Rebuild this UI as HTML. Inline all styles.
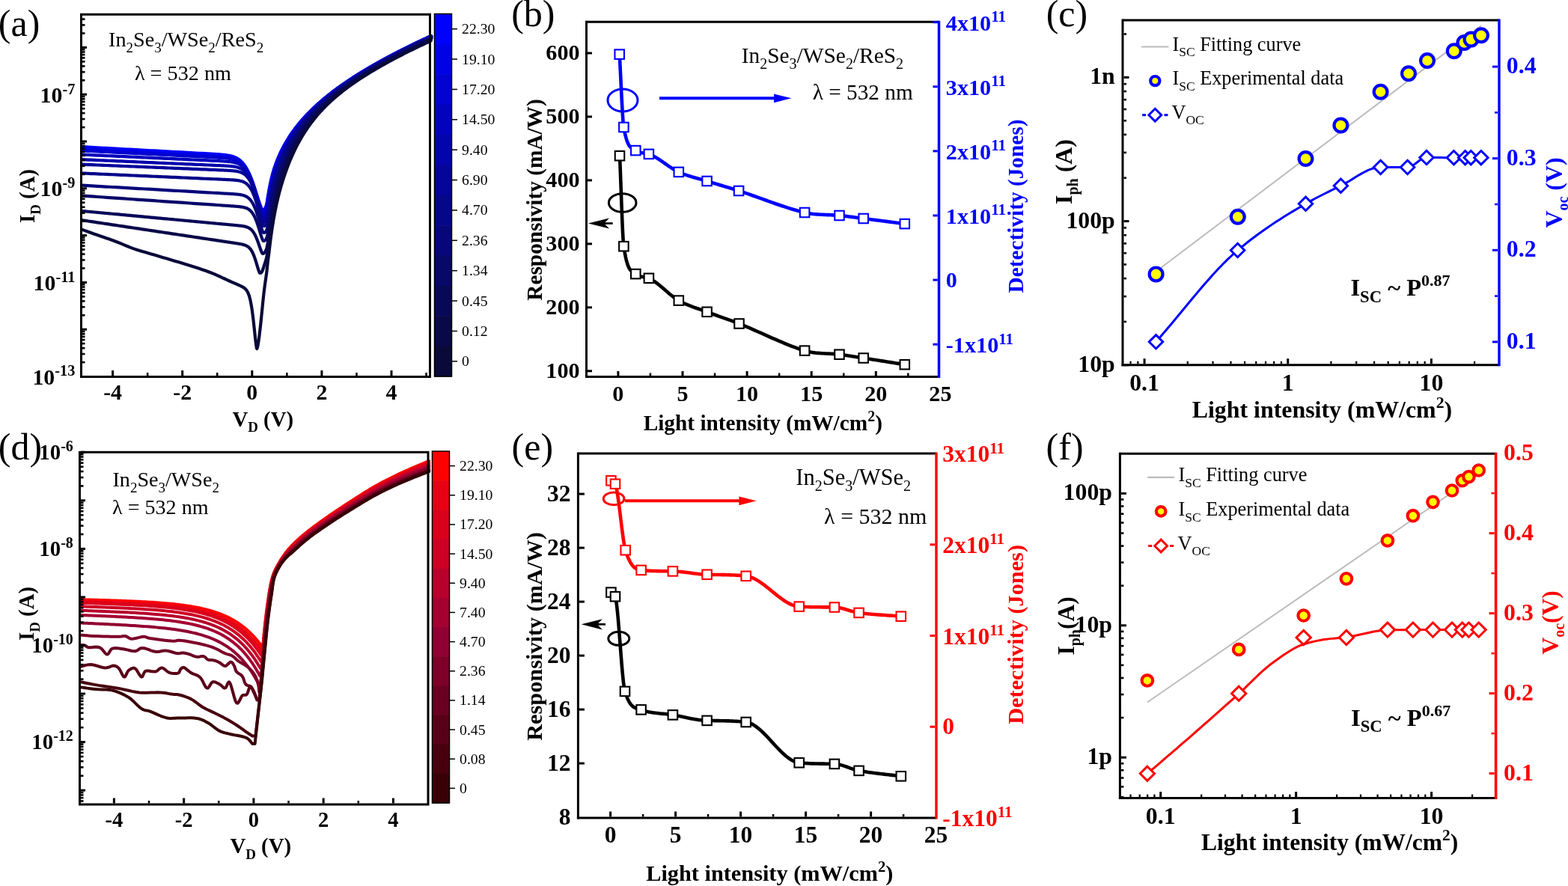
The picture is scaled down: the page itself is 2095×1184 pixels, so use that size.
<!DOCTYPE html>
<html><head><meta charset="utf-8"><title>Figure</title>
<style>html,body{margin:0;padding:0;background:#fff;overflow:hidden}svg{display:block}
text{font-family:'Liberation Serif','Times New Roman',serif}</style></head>
<body><svg width="2095" height="1184" viewBox="0 0 2095 1184">
<rect width="2095" height="1184" fill="#fff"/>
<rect x="580.5" y="18.5" width="23" height="40.98" fill="#0000ff"/>
<rect x="580.5" y="58.88" width="23" height="40.98" fill="#0101e5"/>
<rect x="580.5" y="99.25" width="23" height="40.98" fill="#0202d1"/>
<rect x="580.5" y="139.62" width="23" height="40.98" fill="#0303be"/>
<rect x="580.5" y="180" width="23" height="40.98" fill="#0404ac"/>
<rect x="580.5" y="220.38" width="23" height="40.98" fill="#05059a"/>
<rect x="580.5" y="260.75" width="23" height="40.98" fill="#060689"/>
<rect x="580.5" y="301.12" width="23" height="40.98" fill="#070779"/>
<rect x="580.5" y="341.5" width="23" height="40.98" fill="#080869"/>
<rect x="580.5" y="381.88" width="23" height="40.98" fill="#080859"/>
<rect x="580.5" y="422.25" width="23" height="40.98" fill="#090949"/>
<rect x="580.5" y="462.62" width="23" height="40.98" fill="#0a0a3a"/>
<rect x="580.5" y="18.5" width="23" height="484.5" fill="none" stroke="#000" stroke-width="1.5"/>
<line x1="603.5" y1="38.69" x2="611" y2="38.69" stroke="#000" stroke-width="1.5" stroke-linecap="butt"/>
<text x="617.1" y="45.19" font-size="19.7" font-weight="normal" text-anchor="start" fill="#000">22.30</text>
<line x1="603.5" y1="79.06" x2="611" y2="79.06" stroke="#000" stroke-width="1.5" stroke-linecap="butt"/>
<text x="617.1" y="85.56" font-size="19.7" font-weight="normal" text-anchor="start" fill="#000">19.10</text>
<line x1="603.5" y1="119.44" x2="611" y2="119.44" stroke="#000" stroke-width="1.5" stroke-linecap="butt"/>
<text x="617.1" y="125.94" font-size="19.7" font-weight="normal" text-anchor="start" fill="#000">17.20</text>
<line x1="603.5" y1="159.81" x2="611" y2="159.81" stroke="#000" stroke-width="1.5" stroke-linecap="butt"/>
<text x="617.1" y="166.31" font-size="19.7" font-weight="normal" text-anchor="start" fill="#000">14.50</text>
<line x1="603.5" y1="200.19" x2="611" y2="200.19" stroke="#000" stroke-width="1.5" stroke-linecap="butt"/>
<text x="617.1" y="206.69" font-size="19.7" font-weight="normal" text-anchor="start" fill="#000">9.40</text>
<line x1="603.5" y1="240.56" x2="611" y2="240.56" stroke="#000" stroke-width="1.5" stroke-linecap="butt"/>
<text x="617.1" y="247.06" font-size="19.7" font-weight="normal" text-anchor="start" fill="#000">6.90</text>
<line x1="603.5" y1="280.94" x2="611" y2="280.94" stroke="#000" stroke-width="1.5" stroke-linecap="butt"/>
<text x="617.1" y="287.44" font-size="19.7" font-weight="normal" text-anchor="start" fill="#000">4.70</text>
<line x1="603.5" y1="321.31" x2="611" y2="321.31" stroke="#000" stroke-width="1.5" stroke-linecap="butt"/>
<text x="617.1" y="327.81" font-size="19.7" font-weight="normal" text-anchor="start" fill="#000">2.36</text>
<line x1="603.5" y1="361.69" x2="611" y2="361.69" stroke="#000" stroke-width="1.5" stroke-linecap="butt"/>
<text x="617.1" y="368.19" font-size="19.7" font-weight="normal" text-anchor="start" fill="#000">1.34</text>
<line x1="603.5" y1="402.06" x2="611" y2="402.06" stroke="#000" stroke-width="1.5" stroke-linecap="butt"/>
<text x="617.1" y="408.56" font-size="19.7" font-weight="normal" text-anchor="start" fill="#000">0.45</text>
<line x1="603.5" y1="442.44" x2="611" y2="442.44" stroke="#000" stroke-width="1.5" stroke-linecap="butt"/>
<text x="617.1" y="448.94" font-size="19.7" font-weight="normal" text-anchor="start" fill="#000">0.12</text>
<line x1="603.5" y1="482.81" x2="611" y2="482.81" stroke="#000" stroke-width="1.5" stroke-linecap="butt"/>
<text x="617.1" y="489.31" font-size="19.7" font-weight="normal" text-anchor="start" fill="#000">0</text>
<polyline points="110,196.2 114,196.42 118,196.64 122,196.86 126,197.08 130,197.29 134,197.51 138,197.73 142,197.95 146,198.17 150,198.39 154,198.61 158,198.83 162,199.04 166,199.26 170,199.48 174,199.7 178,199.92 182,200.14 186,200.36 190,200.58 194,200.8 198,201.01 202,201.23 206,201.45 210,201.67 214,201.89 218,202.11 222,202.33 226,202.55 230,202.76 234,202.98 238,203.2 242,203.42 246,203.64 250,203.86 254,204.08 258,204.3 262,204.52 266,204.74 270,204.96 274,205.18 278,205.4 282,205.63 286,205.87 290,206.13 294,206.42 295,206.5 296,206.59 297,206.68 298,206.77 299,206.88 300,206.99 301,207.11 302,207.24 303,207.38 304,207.53 305,207.7 306,207.88 307,208.08 308,208.3 309,208.55 310,208.82 311,209.11 312,209.44 313,209.81 314,210.22 315,210.66 316,211.16 317,211.71 318,212.31 319,212.98 320,213.72 321,214.53 322,215.42 323,216.39 324,217.46 325,218.62 326,219.89 327,221.28 328,222.77 329,224.39 330,226.13 331,228.01 332,230.02 333,232.16 334,234.44 335,236.86 336,239.41 337,242.08 337.35,243.05 337.7,244.03 338.05,245.02 338.4,246.03 338.75,247.05 339.1,248.08 339.45,249.12 339.8,250.18 340.15,251.24 340.5,252.32 340.85,253.4 341.2,254.49 341.55,255.59 341.9,256.69 342.25,257.79 342.6,258.9 342.95,260.01 343.3,261.13 343.65,262.23 344,263.34 344.35,264.44 344.7,265.54 345.05,266.62 345.4,267.7 345.75,268.76 346.1,269.81 346.45,270.84 346.8,271.85 347.15,272.84 347.5,273.8 347.85,274.73 348.2,275.62 348.55,276.48 348.9,277.29 349.25,278.06 349.6,278.77 349.95,279.41 350.3,279.98 350.65,280.47 351,280.83 351.3,281 351.65,280.98 352,280.88 352.35,280.68 352.7,280.37 353.05,279.97 353.4,279.5 353.75,278.97 354.1,278.37 354.45,277.71 354.8,276.98 355.15,276.15 355.5,275.21 355.85,274.14 356.2,272.84 356.55,271.16 356.9,269.15 357.25,266.92 357.6,264.63 357.95,262.43 358.3,260.39 358.65,258.36 359,256.36 359.35,254.4 359.7,252.47 360.05,250.59 360.4,248.77 360.75,247 361.1,245.29 361.45,243.63 361.8,242.02 362.15,240.46 362.5,238.95 362.85,237.49 363.2,236.07 363.55,234.69 363.9,233.36 364.25,232.06 364.6,230.81 364.95,229.59 365.3,228.4 365.65,227.24 366,226.11 366.35,225.01 366.7,223.93 367.05,222.88 367.4,221.85 367.75,220.84 368.1,219.84 368.45,218.87 368.8,217.92 369.15,216.98 369.5,216.07 369.85,215.16 370.2,214.27 370.55,213.4 370.9,212.53 371.25,211.68 371.6,210.84 373.6,206.26 375.6,202 377.6,198.02 379.6,194.25 381.6,190.69 383.6,187.3 385.6,184.08 387.6,180.99 389.6,178.04 391.6,175.19 393.6,172.46 395.6,169.82 397.6,167.27 399.6,164.81 401.6,162.41 403.6,160.09 405.6,157.84 407.6,155.64 409.6,153.5 411.6,151.41 413.6,149.38 415.6,147.39 417.6,145.44 419.6,143.54 421.6,141.67 423.6,139.84 425.6,138.05 427.6,136.29 429.6,134.56 431.6,132.87 433.6,131.2 435.6,129.56 437.6,127.94 439.6,126.35 441.6,124.79 443.6,123.25 445.6,121.73 447.6,120.23 449.6,118.75 451.6,117.29 453.6,115.85 455.6,114.42 457.6,113.01 459.6,111.62 461.6,110.25 463.6,108.89 465.6,107.55 467.6,106.23 469.6,104.91 471.6,103.62 473.6,102.33 475.6,101.05 477.6,99.79 479.6,98.54 481.6,97.31 483.6,96.08 485.6,94.86 487.6,93.66 489.6,92.47 491.6,91.28 493.6,90.11 495.6,88.94 497.6,87.79 499.6,86.64 501.6,85.5 503.6,84.37 505.6,83.24 507.6,82.13 509.6,81.03 511.6,79.93 513.6,78.84 515.6,77.76 517.6,76.69 519.6,75.62 521.6,74.56 523.6,73.5 525.6,72.45 527.6,71.41 529.6,70.37 531.6,69.34 533.6,68.31 535.6,67.3 537.6,66.29 539.6,65.28 541.6,64.28 543.6,63.28 545.6,62.29 547.6,61.31 549.6,60.33 551.6,59.35 553.6,58.39 555.6,57.43 557.6,56.48 559.6,55.53 561.6,54.59 563.6,53.65 565.6,52.71 567.6,51.78 569.6,50.84 571.6,49.91 573.6,48.97 575.6,48.03" fill="none" stroke="#0000ff" stroke-width="4.2" stroke-linejoin="round" stroke-linecap="round"/>
<polyline points="110,198.8 114,199.01 118,199.22 122,199.44 126,199.65 130,199.86 134,200.07 138,200.28 142,200.49 146,200.71 150,200.92 154,201.13 158,201.34 162,201.55 166,201.76 170,201.98 174,202.19 178,202.4 182,202.61 186,202.82 190,203.04 194,203.25 198,203.46 202,203.67 206,203.88 210,204.09 214,204.31 218,204.52 222,204.73 226,204.94 230,205.15 234,205.36 238,205.58 242,205.79 246,206 250,206.21 254,206.42 258,206.64 262,206.85 266,207.06 270,207.27 274,207.49 278,207.7 282,207.92 286,208.15 290,208.39 294,208.65 295,208.73 296,208.8 297,208.88 298,208.97 299,209.06 300,209.16 301,209.26 302,209.37 303,209.5 304,209.63 305,209.77 306,209.93 307,210.11 308,210.3 309,210.52 310,210.75 311,211.01 312,211.3 313,211.63 314,211.99 315,212.39 316,212.83 317,213.32 318,213.87 319,214.47 320,215.14 321,215.89 322,216.71 323,217.61 324,218.6 325,219.69 326,220.89 327,222.2 328,223.62 329,225.17 330,226.84 331,228.65 332,230.6 333,232.69 334,234.93 335,237.31 336,239.83 337,242.49 337.35,243.45 337.7,244.43 338.05,245.43 338.4,246.43 338.75,247.46 339.1,248.5 339.45,249.55 339.8,250.61 340.15,251.69 340.5,252.78 340.85,253.88 341.2,254.98 341.55,256.1 341.9,257.22 342.25,258.35 342.6,259.49 342.95,260.62 343.3,261.76 343.65,262.91 344,264.05 344.35,265.18 344.7,266.32 345.05,267.44 345.4,268.56 345.75,269.66 346.1,270.76 346.45,271.83 346.8,272.89 347.15,273.93 347.5,274.94 347.85,275.92 348.2,276.87 348.55,277.79 348.9,278.66 349.25,279.49 349.6,280.26 349.95,280.97 350.3,281.61 350.65,282.17 351,282.62 351.35,282.94 351.5,283 351.85,282.97 352.2,282.86 352.55,282.64 352.9,282.33 353.25,281.93 353.6,281.46 353.95,280.93 354.3,280.32 354.65,279.65 355,278.89 355.35,278.03 355.7,277.04 356.05,275.88 356.4,274.39 356.75,272.54 357.1,270.41 357.45,268.15 357.8,265.91 358.15,263.82 358.5,261.78 358.85,259.76 359.2,257.77 359.55,255.8 359.9,253.87 360.25,251.98 360.6,250.15 360.95,248.38 361.3,246.66 361.65,244.99 362,243.37 362.35,241.8 362.7,240.28 363.05,238.8 363.4,237.38 363.75,235.99 364.1,234.65 364.45,233.35 364.8,232.08 365.15,230.85 365.5,229.66 365.85,228.49 366.2,227.35 366.55,226.24 366.9,225.15 367.25,224.09 367.6,223.04 367.95,222.02 368.3,221.03 368.65,220.04 369,219.08 369.35,218.14 369.7,217.21 370.05,216.29 370.4,215.39 370.75,214.51 371.1,213.63 371.45,212.77 371.8,211.92 373.8,207.29 375.8,202.98 377.8,198.94 379.8,195.12 381.8,191.51 383.8,188.08 385.8,184.81 387.8,181.68 389.8,178.69 391.8,175.81 393.8,173.04 395.8,170.37 397.8,167.79 399.8,165.29 401.8,162.88 403.8,160.53 405.8,158.25 407.8,156.03 409.8,153.87 411.8,151.76 413.8,149.71 415.8,147.7 417.8,145.74 419.8,143.82 421.8,141.94 423.8,140.1 425.8,138.29 427.8,136.52 429.8,134.78 431.8,133.08 433.8,131.4 435.8,129.75 437.8,128.13 439.8,126.53 441.8,124.96 443.8,123.41 445.8,121.89 447.8,120.38 449.8,118.9 451.8,117.43 453.8,115.99 455.8,114.56 457.8,113.15 459.8,111.75 461.8,110.38 463.8,109.02 465.8,107.67 467.8,106.35 469.8,105.03 471.8,103.73 473.8,102.44 475.8,101.17 477.8,99.9 479.8,98.65 481.8,97.41 483.8,96.18 485.8,94.97 487.8,93.76 489.8,92.57 491.8,91.39 493.8,90.21 495.8,89.04 497.8,87.89 499.8,86.74 501.8,85.6 503.8,84.47 505.8,83.34 507.8,82.23 509.8,81.13 511.8,80.03 513.8,78.94 515.8,77.86 517.8,76.78 519.8,75.72 521.8,74.65 523.8,73.6 525.8,72.55 527.8,71.5 529.8,70.47 531.8,69.44 533.8,68.41 535.8,67.4 537.8,66.38 539.8,65.38 541.8,64.38 543.8,63.38 545.8,62.39 547.8,61.41 549.8,60.43 551.8,59.46 553.8,58.49 555.8,57.53 557.8,56.58 559.8,55.63 561.8,54.69 563.8,53.75 565.8,52.82 567.8,51.88 569.8,50.95 571.8,50.01 573.8,49.08 575.8,48.14" fill="none" stroke="#0101e5" stroke-width="4.2" stroke-linejoin="round" stroke-linecap="round"/>
<polyline points="110,201.4 114,201.6 118,201.8 122,202.01 126,202.21 130,202.41 134,202.61 138,202.82 142,203.02 146,203.22 150,203.42 154,203.63 158,203.83 162,204.03 166,204.23 170,204.44 174,204.64 178,204.84 182,205.04 186,205.24 190,205.45 194,205.65 198,205.85 202,206.05 206,206.26 210,206.46 214,206.66 218,206.86 222,207.07 226,207.27 230,207.47 234,207.67 238,207.88 242,208.08 246,208.28 250,208.48 254,208.68 258,208.89 262,209.09 266,209.29 270,209.49 274,209.7 278,209.9 282,210.11 286,210.32 290,210.54 294,210.79 295,210.85 296,210.92 297,211 298,211.07 299,211.15 300,211.24 301,211.33 302,211.43 303,211.53 304,211.65 305,211.78 306,211.91 307,212.07 308,212.23 309,212.42 310,212.63 311,212.86 312,213.11 313,213.4 314,213.72 315,214.07 316,214.47 317,214.91 318,215.41 319,215.96 320,216.57 321,217.26 322,218.02 323,218.86 324,219.79 325,220.82 326,221.95 327,223.19 328,224.56 329,226.05 330,227.67 331,229.43 332,231.34 333,233.41 334,235.62 335,237.99 336,240.51 337,243.19 337.35,244.16 337.7,245.15 338.05,246.16 338.4,247.19 338.75,248.23 339.1,249.29 339.45,250.36 339.8,251.45 340.15,252.55 340.5,253.67 340.85,254.8 341.2,255.94 341.55,257.09 341.9,258.25 342.25,259.42 342.6,260.6 342.95,261.78 343.3,262.97 343.65,264.16 344,265.35 344.35,266.54 344.7,267.73 345.05,268.91 345.4,270.09 345.75,271.25 346.1,272.41 346.45,273.55 346.8,274.68 347.15,275.78 347.5,276.87 347.85,277.92 348.2,278.94 348.55,279.93 348.9,280.88 349.25,281.78 349.6,282.63 349.95,283.43 350.3,284.15 350.65,284.79 351,285.34 351.35,285.77 351.7,286 352.05,285.96 352.4,285.85 352.75,285.64 353.1,285.35 353.45,284.99 353.8,284.56 354.15,284.06 354.5,283.5 354.85,282.86 355.2,282.12 355.55,281.27 355.9,280.28 356.25,279.06 356.6,277.48 356.95,275.6 357.3,273.51 357.65,271.35 358,269.27 358.35,267.27 358.7,265.26 359.05,263.26 359.4,261.28 359.75,259.28 360.1,257.31 360.45,255.37 360.8,253.49 361.15,251.65 361.5,249.86 361.85,248.12 362.2,246.42 362.55,244.77 362.9,243.17 363.25,241.61 363.6,240.11 363.95,238.64 364.3,237.23 364.65,235.85 365,234.52 365.35,233.22 365.7,231.96 366.05,230.73 366.4,229.53 366.75,228.37 367.1,227.23 367.45,226.12 367.8,225.03 368.15,223.97 368.5,222.93 368.85,221.92 369.2,220.92 369.55,219.94 369.9,218.98 370.25,218.04 370.6,217.11 370.95,216.2 371.3,215.3 371.65,214.42 372,213.55 374,208.8 376,204.41 378,200.29 380,196.39 382,192.71 384,189.21 386,185.88 388,182.7 390,179.64 392,176.71 394,173.89 396,171.18 398,168.55 400,166.02 402,163.56 404,161.18 406,158.86 408,156.61 410,154.42 412,152.29 414,150.21 416,148.18 418,146.19 420,144.25 422,142.35 424,140.49 426,138.67 428,136.88 430,135.13 432,133.41 434,131.72 436,130.06 438,128.43 440,126.82 442,125.24 444,123.68 446,122.15 448,120.63 450,119.14 452,117.67 454,116.22 456,114.78 458,113.37 460,111.97 462,110.59 464,109.23 466,107.88 468,106.55 470,105.23 472,103.92 474,102.63 476,101.35 478,100.09 480,98.84 482,97.59 484,96.37 486,95.15 488,93.94 490,92.75 492,91.56 494,90.38 496,89.22 498,88.06 500,86.91 502,85.77 504,84.64 506,83.51 508,82.4 510,81.29 512,80.2 514,79.11 516,78.03 518,76.95 520,75.88 522,74.82 524,73.76 526,72.71 528,71.67 530,70.63 532,69.6 534,68.58 536,67.56 538,66.55 540,65.55 542,64.55 544,63.55 546,62.56 548,61.58 550,60.6 552,59.62 554,58.66 556,57.7 558,56.75 560,55.8 562,54.86 564,53.92 566,52.99 568,52.05 570,51.12 572,50.18 574,49.24 576,48.3" fill="none" stroke="#0202d1" stroke-width="4.2" stroke-linejoin="round" stroke-linecap="round"/>
<polyline points="110,206.6 114,206.79 118,206.97 122,207.16 126,207.34 130,207.53 134,207.72 138,207.9 142,208.09 146,208.27 150,208.46 154,208.64 158,208.83 162,209.02 166,209.2 170,209.39 174,209.57 178,209.76 182,209.95 186,210.13 190,210.32 194,210.5 198,210.69 202,210.88 206,211.06 210,211.25 214,211.43 218,211.62 222,211.8 226,211.99 230,212.18 234,212.36 238,212.55 242,212.73 246,212.92 250,213.11 254,213.29 258,213.48 262,213.66 266,213.85 270,214.04 274,214.22 278,214.41 282,214.6 286,214.79 290,214.98 294,215.19 295,215.24 296,215.3 297,215.36 298,215.42 299,215.48 300,215.55 301,215.62 302,215.69 303,215.77 304,215.85 305,215.95 306,216.05 307,216.16 308,216.28 309,216.42 310,216.57 311,216.74 312,216.93 313,217.14 314,217.37 315,217.64 316,217.94 317,218.28 318,218.66 319,219.09 320,219.58 321,220.13 322,220.74 323,221.43 324,222.2 325,223.06 326,224.02 327,225.09 328,226.28 329,227.59 330,229.04 331,230.63 332,232.38 333,234.28 334,236.35 335,238.58 336,241 337,243.58 337.35,244.53 337.7,245.49 338.05,246.48 338.4,247.49 338.75,248.52 339.1,249.57 339.45,250.63 339.8,251.72 340.15,252.83 340.5,253.95 340.85,255.09 341.2,256.24 341.55,257.41 341.9,258.6 342.25,259.79 342.6,261 342.95,262.22 343.3,263.45 343.65,264.68 344,265.93 344.35,267.17 344.7,268.42 345.05,269.67 345.4,270.91 345.75,272.15 346.1,273.38 346.45,274.61 346.8,275.82 347.15,277.01 347.5,278.19 347.85,279.34 348.2,280.46 348.55,281.55 348.9,282.61 349.25,283.62 349.6,284.58 349.95,285.49 350.3,286.33 350.65,287.1 351,287.78 351.35,288.36 351.7,288.8 352,289 352.35,288.96 352.7,288.84 353.05,288.64 353.4,288.36 353.75,288.01 354.1,287.6 354.45,287.11 354.8,286.54 355.15,285.88 355.5,285.11 355.85,284.2 356.2,283.09 356.55,281.63 356.9,279.86 357.25,277.86 357.6,275.76 357.95,273.69 358.3,271.71 358.65,269.72 359,267.73 359.35,265.74 359.7,263.71 360.05,261.69 360.4,259.71 360.75,257.76 361.1,255.87 361.45,254.01 361.8,252.2 362.15,250.44 362.5,248.73 362.85,247.06 363.2,245.44 363.55,243.87 363.9,242.35 364.25,240.87 364.6,239.43 364.95,238.04 365.3,236.69 365.65,235.38 366,234.1 366.35,232.85 366.7,231.64 367.05,230.45 367.4,229.3 367.75,228.17 368.1,227.07 368.45,225.99 368.8,224.93 369.15,223.9 369.5,222.88 369.85,221.89 370.2,220.91 370.55,219.95 370.9,219.01 371.25,218.08 371.6,217.16 371.95,216.26 372.3,215.38 374.3,210.54 376.3,206.05 378.3,201.84 380.3,197.86 382.3,194.09 384.3,190.52 386.3,187.12 388.3,183.86 390.3,180.74 392.3,177.75 394.3,174.88 396.3,172.1 398.3,169.43 400.3,166.84 402.3,164.34 404.3,161.92 406.3,159.56 408.3,157.28 410.3,155.05 412.3,152.89 414.3,150.78 416.3,148.72 418.3,146.71 420.3,144.74 422.3,142.82 424.3,140.94 426.3,139.09 428.3,137.29 430.3,135.52 432.3,133.78 434.3,132.08 436.3,130.4 438.3,128.76 440.3,127.14 442.3,125.54 444.3,123.98 446.3,122.43 448.3,120.91 450.3,119.41 452.3,117.93 454.3,116.47 456.3,115.03 458.3,113.61 460.3,112.21 462.3,110.82 464.3,109.45 466.3,108.1 468.3,106.76 470.3,105.44 472.3,104.13 474.3,102.84 476.3,101.56 478.3,100.29 480.3,99.03 482.3,97.79 484.3,96.56 486.3,95.34 488.3,94.13 490.3,92.94 492.3,91.75 494.3,90.57 496.3,89.4 498.3,88.24 500.3,87.09 502.3,85.95 504.3,84.82 506.3,83.7 508.3,82.58 510.3,81.48 512.3,80.38 514.3,79.29 516.3,78.21 518.3,77.13 520.3,76.06 522.3,75 524.3,73.95 526.3,72.89 528.3,71.85 530.3,70.81 532.3,69.79 534.3,68.76 536.3,67.74 538.3,66.73 540.3,65.73 542.3,64.73 544.3,63.73 546.3,62.75 548.3,61.76 550.3,60.78 552.3,59.81 554.3,58.84 556.3,57.89 558.3,56.94 560.3,55.99 562.3,55.05 564.3,54.11 566.3,53.17 568.3,52.24 570.3,51.3 572.3,50.37 574.3,49.43 576.3,48.49" fill="none" stroke="#0303be" stroke-width="4.2" stroke-linejoin="round" stroke-linecap="round"/>
<polyline points="110,213.2 114,213.37 118,213.55 122,213.72 126,213.9 130,214.07 134,214.24 138,214.42 142,214.59 146,214.77 150,214.94 154,215.12 158,215.29 162,215.46 166,215.64 170,215.81 174,215.99 178,216.16 182,216.33 186,216.51 190,216.68 194,216.86 198,217.03 202,217.2 206,217.38 210,217.55 214,217.73 218,217.9 222,218.08 226,218.25 230,218.42 234,218.6 238,218.77 242,218.95 246,219.12 250,219.29 254,219.47 258,219.64 262,219.82 266,219.99 270,220.16 274,220.34 278,220.51 282,220.69 286,220.86 290,221.04 294,221.22 295,221.27 296,221.32 297,221.37 298,221.42 299,221.47 300,221.52 301,221.58 302,221.64 303,221.7 304,221.76 305,221.83 306,221.91 307,221.99 308,222.08 309,222.18 310,222.29 311,222.41 312,222.54 313,222.69 314,222.86 315,223.06 316,223.27 317,223.52 318,223.81 319,224.13 320,224.5 321,224.92 322,225.4 323,225.94 324,226.56 325,227.25 326,228.04 327,228.93 328,229.93 329,231.06 330,232.31 331,233.71 332,235.26 333,236.97 334,238.86 335,240.93 336,243.19 337,245.64 338,248.28 338.35,249.26 338.7,250.25 339.05,251.27 339.4,252.31 339.75,253.38 340.1,254.46 340.45,255.57 340.8,256.7 341.15,257.85 341.5,259.02 341.85,260.21 342.2,261.42 342.55,262.64 342.9,263.88 343.25,265.13 343.6,266.39 343.95,267.67 344.3,268.95 344.65,270.24 345,271.54 345.35,272.84 345.7,274.14 346.05,275.44 346.4,276.73 346.75,278.01 347.1,279.29 347.45,280.54 347.8,281.78 348.15,283 348.5,284.18 348.85,285.33 349.2,286.45 349.55,287.52 349.9,288.53 350.25,289.49 350.6,290.37 350.95,291.18 351.3,291.88 351.65,292.46 352,292.88 352.2,293 352.55,292.96 352.9,292.86 353.25,292.69 353.6,292.45 353.95,292.14 354.3,291.77 354.65,291.33 355,290.81 355.35,290.19 355.7,289.46 356.05,288.57 356.4,287.41 356.75,285.93 357.1,284.19 357.45,282.28 357.8,280.32 358.15,278.44 358.5,276.54 358.85,274.62 359.2,272.68 359.55,270.7 359.9,268.65 360.25,266.62 360.6,264.61 360.95,262.63 361.3,260.69 361.65,258.77 362,256.9 362.35,255.06 362.7,253.27 363.05,251.52 363.4,249.81 363.75,248.15 364.1,246.54 364.45,244.97 364.8,243.45 365.15,241.97 365.5,240.53 365.85,239.13 366.2,237.77 366.55,236.44 366.9,235.15 367.25,233.89 367.6,232.66 367.95,231.46 368.3,230.29 368.65,229.15 369,228.04 369.35,226.94 369.7,225.88 370.05,224.83 370.4,223.8 370.75,222.8 371.1,221.81 371.45,220.83 371.8,219.88 372.15,218.94 372.5,218.01 374.5,212.99 376.5,208.35 378.5,204 380.5,199.9 382.5,196.02 384.5,192.35 386.5,188.84 388.5,185.49 390.5,182.29 392.5,179.21 394.5,176.26 396.5,173.42 398.5,170.67 400.5,168.03 402.5,165.46 404.5,162.98 406.5,160.58 408.5,158.24 410.5,155.97 412.5,153.76 414.5,151.61 416.5,149.52 418.5,147.47 420.5,145.47 422.5,143.52 424.5,141.61 426.5,139.74 428.5,137.91 430.5,136.12 432.5,134.36 434.5,132.64 436.5,130.94 438.5,129.28 440.5,127.64 442.5,126.03 444.5,124.45 446.5,122.9 448.5,121.36 450.5,119.85 452.5,118.36 454.5,116.89 456.5,115.44 458.5,114.01 460.5,112.6 462.5,111.21 464.5,109.83 466.5,108.47 468.5,107.13 470.5,105.8 472.5,104.49 474.5,103.19 476.5,101.9 478.5,100.63 480.5,99.37 482.5,98.13 484.5,96.89 486.5,95.67 488.5,94.46 490.5,93.26 492.5,92.07 494.5,90.89 496.5,89.72 498.5,88.56 500.5,87.41 502.5,86.26 504.5,85.13 506.5,84 508.5,82.89 510.5,81.78 512.5,80.68 514.5,79.59 516.5,78.51 518.5,77.44 520.5,76.37 522.5,75.3 524.5,74.25 526.5,73.2 528.5,72.15 530.5,71.12 532.5,70.09 534.5,69.06 536.5,68.04 538.5,67.03 540.5,66.03 542.5,65.03 544.5,64.03 546.5,63.04 548.5,62.06 550.5,61.08 552.5,60.11 554.5,59.14 556.5,58.19 558.5,57.24 560.5,56.29 562.5,55.35 564.5,54.41 566.5,53.47 568.5,52.54 570.5,51.6 572.5,50.67 574.5,49.73 576.5,48.79" fill="none" stroke="#0404ac" stroke-width="4.2" stroke-linejoin="round" stroke-linecap="round"/>
<polyline points="110,219.7 114,219.86 118,220.03 122,220.19 126,220.36 130,220.52 134,220.69 138,220.85 142,221.02 146,221.18 150,221.35 154,221.51 158,221.68 162,221.84 166,222.01 170,222.17 174,222.34 178,222.5 182,222.66 186,222.83 190,222.99 194,223.16 198,223.32 202,223.49 206,223.65 210,223.82 214,223.98 218,224.15 222,224.31 226,224.48 230,224.64 234,224.81 238,224.97 242,225.14 246,225.3 250,225.46 254,225.63 258,225.79 262,225.96 266,226.12 270,226.29 274,226.45 278,226.62 282,226.78 286,226.95 290,227.11 294,227.28 295,227.32 296,227.37 297,227.41 298,227.45 299,227.5 300,227.55 301,227.59 302,227.64 303,227.69 304,227.74 305,227.8 306,227.85 307,227.92 308,227.98 309,228.05 310,228.13 311,228.22 312,228.31 313,228.42 314,228.54 315,228.67 316,228.83 317,229.01 318,229.21 319,229.44 320,229.71 321,230.02 322,230.38 323,230.8 324,231.27 325,231.82 326,232.44 327,233.16 328,233.98 329,234.92 330,235.98 331,237.17 332,238.53 333,240.04 334,241.74 335,243.62 336,245.71 337,248 338,250.51 338.35,251.44 338.7,252.4 339.05,253.39 339.4,254.4 339.75,255.44 340.1,256.5 340.45,257.59 340.8,258.71 341.15,259.85 341.5,261.01 341.85,262.2 342.2,263.41 342.55,264.65 342.9,265.9 343.25,267.18 343.6,268.47 343.95,269.77 344.3,271.09 344.65,272.43 345,273.77 345.35,275.13 345.7,276.48 346.05,277.84 346.4,279.2 346.75,280.56 347.1,281.9 347.45,283.24 347.8,284.56 348.15,285.86 348.5,287.14 348.85,288.38 349.2,289.59 349.55,290.75 349.9,291.86 350.25,292.91 350.6,293.89 350.95,294.78 351.3,295.58 351.65,296.25 352,296.76 352.3,297 352.65,296.98 353,296.9 353.35,296.76 353.7,296.56 354.05,296.29 354.4,295.97 354.75,295.57 355.1,295.09 355.45,294.5 355.8,293.79 356.15,292.91 356.5,291.72 356.85,290.23 357.2,288.5 357.55,286.62 357.9,284.73 358.25,282.9 358.6,281.04 358.95,279.15 359.3,277.24 359.65,275.23 360,273.17 360.35,271.12 360.7,269.09 361.05,267.09 361.4,265.12 361.75,263.17 362.1,261.27 362.45,259.4 362.8,257.57 363.15,255.79 363.5,254.05 363.85,252.35 364.2,250.7 364.55,249.1 364.9,247.54 365.25,246.02 365.6,244.54 365.95,243.11 366.3,241.7 366.65,240.34 367,239.01 367.35,237.71 367.7,236.45 368.05,235.21 368.4,234 368.75,232.83 369.1,231.67 369.45,230.55 369.8,229.44 370.15,228.36 370.5,227.3 370.85,226.26 371.2,225.23 371.55,224.23 371.9,223.24 372.25,222.26 372.6,221.31 374.6,216.1 376.6,211.29 378.6,206.78 380.6,202.53 382.6,198.5 384.6,194.69 386.6,191.06 388.6,187.6 390.6,184.28 392.6,181.11 394.6,178.06 396.6,175.12 398.6,172.29 400.6,169.57 402.6,166.93 404.6,164.38 406.6,161.91 408.6,159.51 410.6,157.18 412.6,154.92 414.6,152.72 416.6,150.58 418.6,148.49 420.6,146.45 422.6,144.46 424.6,142.52 426.6,140.61 428.6,138.75 430.6,136.93 432.6,135.15 434.6,133.4 436.6,131.68 438.6,129.99 440.6,128.34 442.6,126.71 444.6,125.11 446.6,123.54 448.6,121.99 450.6,120.46 452.6,118.96 454.6,117.47 456.6,116.01 458.6,114.57 460.6,113.15 462.6,111.74 464.6,110.36 466.6,108.99 468.6,107.64 470.6,106.31 472.6,104.99 474.6,103.68 476.6,102.39 478.6,101.11 480.6,99.85 482.6,98.6 484.6,97.36 486.6,96.13 488.6,94.92 490.6,93.71 492.6,92.52 494.6,91.34 496.6,90.17 498.6,89 500.6,87.85 502.6,86.7 504.6,85.56 506.6,84.44 508.6,83.32 510.6,82.21 512.6,81.11 514.6,80.02 516.6,78.94 518.6,77.86 520.6,76.79 522.6,75.73 524.6,74.67 526.6,73.62 528.6,72.57 530.6,71.53 532.6,70.5 534.6,69.48 536.6,68.46 538.6,67.45 540.6,66.44 542.6,65.44 544.6,64.45 546.6,63.46 548.6,62.47 550.6,61.49 552.6,60.52 554.6,59.56 556.6,58.6 558.6,57.65 560.6,56.7 562.6,55.76 564.6,54.82 566.6,53.89 568.6,52.95 570.6,52.02 572.6,51.08 574.6,50.14" fill="none" stroke="#05059a" stroke-width="4.2" stroke-linejoin="round" stroke-linecap="round"/>
<polyline points="110,231.5 114,231.68 118,231.85 122,232.03 126,232.21 130,232.38 134,232.56 138,232.74 142,232.91 146,233.09 150,233.26 154,233.44 158,233.62 162,233.79 166,233.97 170,234.15 174,234.32 178,234.5 182,234.68 186,234.85 190,235.03 194,235.21 198,235.38 202,235.56 206,235.74 210,235.91 214,236.09 218,236.26 222,236.44 226,236.62 230,236.79 234,236.97 238,237.15 242,237.32 246,237.5 250,237.68 254,237.85 258,238.03 262,238.21 266,238.38 270,238.56 274,238.74 278,238.91 282,239.09 286,239.26 290,239.44 294,239.62 295,239.66 296,239.71 297,239.75 298,239.8 299,239.84 300,239.89 301,239.94 302,239.98 303,240.03 304,240.08 305,240.13 306,240.18 307,240.23 308,240.29 309,240.34 310,240.41 311,240.47 312,240.54 313,240.62 314,240.71 315,240.8 316,240.91 317,241.03 318,241.17 319,241.32 320,241.5 321,241.71 322,241.96 323,242.24 324,242.57 325,242.96 326,243.41 327,243.93 328,244.53 329,245.23 330,246.03 331,246.96 332,248.02 333,249.23 334,250.6 335,252.15 336,253.9 337,255.85 338,258.02 338.35,258.83 338.7,259.67 339.05,260.53 339.4,261.43 339.75,262.35 340.1,263.3 340.45,264.28 340.8,265.29 341.15,266.32 341.5,267.38 341.85,268.47 342.2,269.58 342.55,270.72 342.9,271.88 343.25,273.07 343.6,274.27 343.95,275.5 344.3,276.75 344.65,278.01 345,279.28 345.35,280.57 345.7,281.87 346.05,283.17 346.4,284.48 346.75,285.79 347.1,287.1 347.45,288.4 347.8,289.69 348.15,290.96 348.5,292.21 348.85,293.43 349.2,294.62 349.55,295.77 349.9,296.87 350.25,297.92 350.6,298.89 350.95,299.78 351.3,300.58 351.65,301.25 352,301.76 352.3,302 352.65,301.99 353,301.94 353.35,301.85 353.7,301.7 354.05,301.5 354.4,301.24 354.75,300.92 355.1,300.52 355.45,300.03 355.8,299.42 356.15,298.64 356.5,297.58 356.85,296.24 357.2,294.66 357.55,292.93 357.9,291.18 358.25,289.48 358.6,287.72 358.95,285.93 359.3,284.11 359.65,282.15 360,280.12 360.35,278.08 360.7,276.04 361.05,274.02 361.4,272.01 361.75,270.02 362.1,268.06 362.45,266.13 362.8,264.23 363.15,262.36 363.5,260.53 363.85,258.75 364.2,257 364.55,255.3 364.9,253.64 365.25,252.02 365.6,250.43 365.95,248.89 366.3,247.39 366.65,245.92 367,244.49 367.35,243.09 367.7,241.73 368.05,240.4 368.4,239.1 368.75,237.83 369.1,236.6 369.45,235.38 369.8,234.2 370.15,233.04 370.5,231.9 370.85,230.79 371.2,229.69 371.55,228.62 371.9,227.57 372.25,226.53 372.6,225.51 374.6,220 376.6,214.94 378.6,210.21 380.6,205.76 382.6,201.56 384.6,197.58 386.6,193.8 388.6,190.19 390.6,186.74 392.6,183.44 394.6,180.27 396.6,177.23 398.6,174.3 400.6,171.47 402.6,168.75 404.6,166.12 406.6,163.57 408.6,161.09 410.6,158.7 412.6,156.37 414.6,154.11 416.6,151.92 418.6,149.77 420.6,147.69 422.6,145.65 424.6,143.66 426.6,141.72 428.6,139.82 430.6,137.96 432.6,136.15 434.6,134.36 436.6,132.62 438.6,130.9 440.6,129.22 442.6,127.57 444.6,125.95 446.6,124.35 448.6,122.79 450.6,121.24 452.6,119.72 454.6,118.22 456.6,116.75 458.6,115.29 460.6,113.86 462.6,112.44 464.6,111.05 466.6,109.67 468.6,108.31 470.6,106.96 472.6,105.64 474.6,104.32 476.6,103.02 478.6,101.74 480.6,100.47 482.6,99.21 484.6,97.96 486.6,96.73 488.6,95.51 490.6,94.3 492.6,93.11 494.6,91.92 496.6,90.74 498.6,89.57 500.6,88.42 502.6,87.27 504.6,86.13 506.6,85 508.6,83.88 510.6,82.77 512.6,81.67 514.6,80.57 516.6,79.49 518.6,78.41 520.6,77.34 522.6,76.27 524.6,75.21 526.6,74.16 528.6,73.11 530.6,72.07 532.6,71.04 534.6,70.02 536.6,69 538.6,67.98 540.6,66.98 542.6,65.98 544.6,64.98 546.6,63.99 548.6,63 550.6,62.02 552.6,61.05 554.6,60.09 556.6,59.13 558.6,58.18 560.6,57.23 562.6,56.29 564.6,55.35 566.6,54.41 568.6,53.48 570.6,52.54 572.6,51.6 574.6,50.67" fill="none" stroke="#060689" stroke-width="4.2" stroke-linejoin="round" stroke-linecap="round"/>
<polyline points="110,247.7 114,247.93 118,248.16 122,248.38 126,248.61 130,248.84 134,249.07 138,249.3 142,249.53 146,249.75 150,249.98 154,250.21 158,250.44 162,250.67 166,250.9 170,251.12 174,251.35 178,251.58 182,251.81 186,252.04 190,252.26 194,252.49 198,252.72 202,252.95 206,253.18 210,253.41 214,253.63 218,253.86 222,254.09 226,254.32 230,254.55 234,254.78 238,255 242,255.23 246,255.46 250,255.69 254,255.92 258,256.14 262,256.37 266,256.6 270,256.83 274,257.06 278,257.29 282,257.51 286,257.74 290,257.97 294,258.2 295,258.26 296,258.31 297,258.37 298,258.43 299,258.49 300,258.54 301,258.6 302,258.66 303,258.72 304,258.77 305,258.83 306,258.89 307,258.95 308,259.01 309,259.08 310,259.14 311,259.21 312,259.27 313,259.34 314,259.42 315,259.5 316,259.59 317,259.68 318,259.78 319,259.9 320,260.03 321,260.17 322,260.34 323,260.53 324,260.75 325,261.01 326,261.32 327,261.67 328,262.09 329,262.57 330,263.14 331,263.8 332,264.57 333,265.46 334,266.5 335,267.68 336,269.03 337,270.57 338,272.31 338.35,272.97 338.7,273.65 339.05,274.36 339.4,275.1 339.75,275.86 340.1,276.66 340.45,277.48 340.8,278.32 341.15,279.2 341.5,280.1 341.85,281.03 342.2,281.99 342.55,282.97 342.9,283.97 343.25,285.01 343.6,286.06 343.95,287.14 344.3,288.24 344.65,289.35 345,290.49 345.35,291.64 345.7,292.8 346.05,293.97 346.4,295.16 346.75,296.34 347.1,297.53 347.45,298.71 347.8,299.88 348.15,301.05 348.5,302.19 348.85,303.32 349.2,304.41 349.55,305.47 349.9,306.48 350.25,307.43 350.6,308.32 350.95,309.14 351.3,309.85 351.65,310.45 352,310.88 352.2,311 352.55,311 352.9,310.96 353.25,310.88 353.6,310.75 353.95,310.57 354.3,310.35 354.65,310.06 355,309.71 355.35,309.27 355.7,308.73 356.05,308.06 356.4,307.15 356.75,305.95 357.1,304.52 357.45,302.91 357.8,301.25 358.15,299.62 358.5,297.95 358.85,296.24 359.2,294.49 359.55,292.63 359.9,290.59 360.25,288.53 360.6,286.46 360.95,284.39 361.3,282.33 361.65,280.28 362,278.24 362.35,276.21 362.7,274.21 363.05,272.24 363.4,270.3 363.75,268.4 364.1,266.53 364.45,264.69 364.8,262.9 365.15,261.15 365.5,259.43 365.85,257.75 366.2,256.11 366.55,254.51 366.9,252.94 367.25,251.41 367.6,249.92 367.95,248.46 368.3,247.04 368.65,245.64 369,244.28 369.35,242.95 369.7,241.65 370.05,240.38 370.4,239.13 370.75,237.91 371.1,236.71 371.45,235.54 371.8,234.39 372.15,233.26 372.5,232.15 374.5,226.16 376.5,220.69 378.5,215.61 380.5,210.84 382.5,206.36 384.5,202.12 386.5,198.1 388.5,194.26 390.5,190.61 392.5,187.11 394.5,183.76 396.5,180.54 398.5,177.46 400.5,174.48 402.5,171.62 404.5,168.85 406.5,166.18 408.5,163.6 410.5,161.09 412.5,158.67 414.5,156.32 416.5,154.03 418.5,151.81 420.5,149.64 422.5,147.53 424.5,145.48 426.5,143.47 428.5,141.52 430.5,139.6 432.5,137.73 434.5,135.91 436.5,134.11 438.5,132.36 440.5,130.64 442.5,128.95 444.5,127.29 446.5,125.67 448.5,124.07 450.5,122.49 452.5,120.95 454.5,119.42 456.5,117.92 458.5,116.44 460.5,114.99 462.5,113.56 464.5,112.14 466.5,110.75 468.5,109.37 470.5,108.01 472.5,106.67 474.5,105.34 476.5,104.03 478.5,102.74 480.5,101.45 482.5,100.19 484.5,98.93 486.5,97.69 488.5,96.46 490.5,95.25 492.5,94.04 494.5,92.85 496.5,91.67 498.5,90.49 500.5,89.33 502.5,88.17 504.5,87.03 506.5,85.9 508.5,84.77 510.5,83.66 512.5,82.55 514.5,81.45 516.5,80.36 518.5,79.28 520.5,78.21 522.5,77.14 524.5,76.08 526.5,75.02 528.5,73.97 530.5,72.93 532.5,71.9 534.5,70.87 536.5,69.85 538.5,68.84 540.5,67.83 542.5,66.82 544.5,65.83 546.5,64.84 548.5,63.85 550.5,62.87 552.5,61.89 554.5,60.93 556.5,59.97 558.5,59.02 560.5,58.07 562.5,57.13 564.5,56.19 566.5,55.25 568.5,54.31 570.5,53.38 572.5,52.44 574.5,51.5 576.5,50.56" fill="none" stroke="#070779" stroke-width="4.2" stroke-linejoin="round" stroke-linecap="round"/>
<polyline points="110,261.6 114,261.88 118,262.15 122,262.43 126,262.7 130,262.98 134,263.25 138,263.53 142,263.8 146,264.08 150,264.35 154,264.63 158,264.9 162,265.18 166,265.45 170,265.73 174,266 178,266.28 182,266.56 186,266.83 190,267.11 194,267.38 198,267.66 202,267.93 206,268.21 210,268.48 214,268.76 218,269.03 222,269.31 226,269.58 230,269.86 234,270.13 238,270.41 242,270.68 246,270.96 250,271.24 254,271.51 258,271.79 262,272.06 266,272.34 270,272.61 274,272.89 278,273.16 282,273.44 286,273.71 290,273.99 294,274.26 295,274.33 296,274.4 297,274.47 298,274.54 299,274.61 300,274.68 301,274.75 302,274.81 303,274.88 304,274.95 305,275.02 306,275.09 307,275.16 308,275.23 309,275.3 310,275.37 311,275.45 312,275.52 313,275.59 314,275.67 315,275.75 316,275.83 317,275.91 318,276 319,276.1 320,276.2 321,276.32 322,276.44 323,276.59 324,276.75 325,276.94 326,277.15 327,277.41 328,277.71 329,278.06 330,278.47 331,278.96 332,279.55 333,280.23 334,281.04 335,281.98 336,283.08 337,284.35 337.35,284.85 337.7,285.36 338.05,285.9 338.4,286.47 338.75,287.06 339.1,287.68 339.45,288.33 339.8,289 340.15,289.71 340.5,290.44 340.85,291.2 341.2,291.99 341.55,292.81 341.9,293.66 342.25,294.54 342.6,295.45 342.95,296.39 343.3,297.35 343.65,298.35 344,299.36 344.35,300.4 344.7,301.47 345.05,302.55 345.4,303.66 345.75,304.78 346.1,305.91 346.45,307.06 346.8,308.21 347.15,309.37 347.5,310.52 347.85,311.67 348.2,312.81 348.55,313.93 348.9,315.03 349.25,316.1 349.6,317.13 349.95,318.11 350.3,319.03 350.65,319.88 351,320.64 351.35,321.28 351.7,321.77 352,322 352.35,321.99 352.7,321.94 353.05,321.85 353.4,321.71 353.75,321.52 354.1,321.29 354.45,321 354.8,320.66 355.15,320.24 355.5,319.74 355.85,319.13 356.2,318.36 356.55,317.32 356.9,316.02 357.25,314.52 357.6,312.91 357.95,311.27 358.3,309.67 358.65,308.01 359,306.31 359.35,304.57 359.7,302.57 360.05,300.48 360.4,298.36 360.75,296.24 361.1,294.11 361.45,291.98 361.8,289.85 362.15,287.73 362.5,285.62 362.85,283.54 363.2,281.47 363.55,279.44 363.9,277.44 364.25,275.47 364.6,273.53 364.95,271.63 365.3,269.77 365.65,267.94 366,266.15 366.35,264.4 366.7,262.69 367.05,261.01 367.4,259.36 367.75,257.76 368.1,256.19 368.45,254.65 368.8,253.15 369.15,251.69 369.5,250.25 369.85,248.85 370.2,247.47 370.55,246.12 370.9,244.81 371.25,243.51 371.6,242.24 371.95,241 372.3,239.78 374.3,233.22 376.3,227.26 378.3,221.76 380.3,216.63 382.3,211.81 384.3,207.27 386.3,202.97 388.3,198.89 390.3,194.99 392.3,191.27 394.3,187.72 396.3,184.31 398.3,181.04 400.3,177.9 402.3,174.88 404.3,171.97 406.3,169.16 408.3,166.44 410.3,163.82 412.3,161.28 414.3,158.82 416.3,156.44 418.3,154.12 420.3,151.87 422.3,149.68 424.3,147.55 426.3,145.47 428.3,143.45 430.3,141.48 432.3,139.55 434.3,137.67 436.3,135.82 438.3,134.02 440.3,132.25 442.3,130.52 444.3,128.83 446.3,127.16 448.3,125.53 450.3,123.93 452.3,122.35 454.3,120.8 456.3,119.27 458.3,117.77 460.3,116.29 462.3,114.83 464.3,113.4 466.3,111.98 468.3,110.59 470.3,109.21 472.3,107.86 474.3,106.51 476.3,105.19 478.3,103.88 480.3,102.58 482.3,101.31 484.3,100.04 486.3,98.79 488.3,97.55 490.3,96.33 492.3,95.11 494.3,93.91 496.3,92.72 498.3,91.54 500.3,90.37 502.3,89.21 504.3,88.06 506.3,86.92 508.3,85.79 510.3,84.67 512.3,83.56 514.3,82.46 516.3,81.37 518.3,80.28 520.3,79.2 522.3,78.13 524.3,77.06 526.3,76.01 528.3,74.95 530.3,73.91 532.3,72.87 534.3,71.84 536.3,70.82 538.3,69.8 540.3,68.79 542.3,67.79 544.3,66.79 546.3,65.8 548.3,64.81 550.3,63.83 552.3,62.85 554.3,61.88 556.3,60.92 558.3,59.97 560.3,59.02 562.3,58.08 564.3,57.13 566.3,56.2 568.3,55.26 570.3,54.32 572.3,53.38 574.3,52.45 576.3,51.5" fill="none" stroke="#080869" stroke-width="4.2" stroke-linejoin="round" stroke-linecap="round"/>
<polyline points="110,282 114,282.37 118,282.74 122,283.12 126,283.49 130,283.86 134,284.23 138,284.6 142,284.97 146,285.35 150,285.72 154,286.09 158,286.46 162,286.83 166,287.2 170,287.58 174,287.95 178,288.32 182,288.69 186,289.06 190,289.44 194,289.81 198,290.18 202,290.55 206,290.92 210,291.29 214,291.67 218,292.04 222,292.41 226,292.78 230,293.15 234,293.52 238,293.9 242,294.27 246,294.64 250,295.01 254,295.38 258,295.76 262,296.13 266,296.5 270,296.87 274,297.24 278,297.61 282,297.99 286,298.36 290,298.73 294,299.1 295,299.19 296,299.29 297,299.38 298,299.47 299,299.57 300,299.66 301,299.75 302,299.84 303,299.94 304,300.03 305,300.12 306,300.22 307,300.31 308,300.4 309,300.5 310,300.59 311,300.68 312,300.78 313,300.87 314,300.97 315,301.07 316,301.16 317,301.26 318,301.37 319,301.47 320,301.58 321,301.7 322,301.82 323,301.95 324,302.09 325,302.26 326,302.44 327,302.64 328,302.88 329,303.16 330,303.48 331,303.87 332,304.33 333,304.87 334,305.52 335,306.28 336,307.19 336.35,307.54 336.7,307.92 337.05,308.31 337.4,308.73 337.75,309.17 338.1,309.64 338.45,310.12 338.8,310.64 339.15,311.18 339.5,311.74 339.85,312.34 340.2,312.96 340.55,313.61 340.9,314.28 341.25,314.99 341.6,315.72 341.95,316.49 342.3,317.28 342.65,318.1 343,318.94 343.35,319.82 343.7,320.71 344.05,321.63 344.4,322.58 344.75,323.54 345.1,324.52 345.45,325.52 345.8,326.53 346.15,327.55 346.5,328.57 346.85,329.59 347.2,330.61 347.55,331.62 347.9,332.61 348.25,333.58 348.6,334.52 348.95,335.42 349.3,336.26 349.65,337.04 350,337.74 350.35,338.33 350.7,338.79 351,339 351.35,338.97 351.7,338.87 352.05,338.7 352.4,338.46 352.75,338.15 353.1,337.79 353.45,337.38 353.8,336.92 354.15,336.42 354.5,335.87 354.85,335.26 355.2,334.57 355.55,333.8 355.9,332.91 356.25,331.84 356.6,330.48 356.95,328.87 357.3,327.08 357.65,325.22 358,323.39 358.35,321.6 358.7,319.78 359.05,317.93 359.4,316.07 359.75,313.82 360.1,311.54 360.45,309.25 360.8,306.96 361.15,304.68 361.5,302.39 361.85,300.13 362.2,297.87 362.55,295.64 362.9,293.43 363.25,291.25 363.6,289.1 363.95,286.98 364.3,284.9 364.65,282.86 365,280.85 365.35,278.88 365.7,276.95 366.05,275.06 366.4,273.2 366.75,271.39 367.1,269.61 367.45,267.87 367.8,266.16 368.15,264.49 368.5,262.86 368.85,261.27 369.2,259.7 369.55,258.17 369.9,256.67 370.25,255.21 370.6,253.77 370.95,252.36 371.3,250.98 373.3,243.56 375.3,236.86 377.3,230.73 379.3,225.05 381.3,219.74 383.3,214.76 385.3,210.06 387.3,205.6 389.3,201.37 391.3,197.33 393.3,193.49 395.3,189.8 397.3,186.28 399.3,182.9 401.3,179.66 403.3,176.54 405.3,173.54 407.3,170.64 409.3,167.85 411.3,165.15 413.3,162.54 415.3,160.02 417.3,157.57 419.3,155.2 421.3,152.9 423.3,150.66 425.3,148.48 427.3,146.36 429.3,144.3 431.3,142.29 433.3,140.33 435.3,138.41 437.3,136.54 439.3,134.71 441.3,132.92 443.3,131.17 445.3,129.45 447.3,127.77 449.3,126.11 451.3,124.49 453.3,122.9 455.3,121.33 457.3,119.79 459.3,118.28 461.3,116.79 463.3,115.32 465.3,113.88 467.3,112.46 469.3,111.06 471.3,109.67 473.3,108.31 475.3,106.96 477.3,105.63 479.3,104.32 481.3,103.02 483.3,101.74 485.3,100.47 487.3,99.21 489.3,97.97 491.3,96.75 493.3,95.53 495.3,94.33 497.3,93.14 499.3,91.96 501.3,90.78 503.3,89.62 505.3,88.47 507.3,87.33 509.3,86.21 511.3,85.09 513.3,83.98 515.3,82.88 517.3,81.78 519.3,80.7 521.3,79.62 523.3,78.55 525.3,77.48 527.3,76.42 529.3,75.37 531.3,74.33 533.3,73.3 535.3,72.27 537.3,71.25 539.3,70.23 541.3,69.22 543.3,68.22 545.3,67.22 547.3,66.23 549.3,65.24 551.3,64.26 553.3,63.29 555.3,62.33 557.3,61.37 559.3,60.42 561.3,59.47 563.3,58.53 565.3,57.58 567.3,56.65 569.3,55.71 571.3,54.77 573.3,53.83 575.3,52.89" fill="none" stroke="#080859" stroke-width="4.2" stroke-linejoin="round" stroke-linecap="round"/>
<polyline points="110,294.3 114,294.9 118,295.5 122,296.1 126,296.7 130,297.3 134,297.9 138,298.5 142,299.1 146,299.7 150,300.3 154,300.9 158,301.5 162,302.1 166,302.7 170,303.3 174,303.9 178,304.5 182,305.1 186,305.7 190,306.3 194,306.9 198,307.5 202,308.1 206,308.7 210,309.3 214,309.9 218,310.5 222,311.1 226,311.7 230,312.3 234,312.9 238,313.5 242,314.1 246,314.7 250,315.3 254,315.9 258,316.5 262,317.1 266,317.7 270,318.3 274,318.9 278,319.5 282,320.1 286,320.7 290,321.3 291,321.45 292,321.6 293,321.75 294,321.9 295,322.05 296,322.2 297,322.35 298,322.5 299,322.65 300,322.8 301,322.95 302,323.1 303,323.25 304,323.4 305,323.55 306,323.7 307,323.85 308,324 309,324.15 310,324.3 311,324.45 312,324.6 313,324.76 314,324.91 315,325.06 316,325.22 317,325.37 318,325.53 319,325.7 320,325.87 321,326.05 322,326.24 323,326.44 324,326.66 325,326.9 326,327.18 327,327.5 328,327.87 329,328.31 330,328.83 331,329.44 332,330.19 333,331.08 333.35,331.43 333.7,331.81 334.05,332.2 334.4,332.63 334.75,333.08 335.1,333.55 335.45,334.06 335.8,334.6 336.15,335.16 336.5,335.76 336.85,336.39 337.2,337.06 337.55,337.76 337.9,338.5 338.25,339.27 338.6,340.08 338.95,340.92 339.3,341.8 339.65,342.72 340,343.67 340.35,344.66 340.7,345.68 341.05,346.73 341.4,347.81 341.75,348.91 342.1,350.04 342.45,351.19 342.8,352.36 343.15,353.53 343.5,354.71 343.85,355.88 344.2,357.05 344.55,358.2 344.9,359.32 345.25,360.39 345.6,361.42 345.95,362.38 346.3,363.25 346.65,364 347,364.61 347.35,364.98 347.4,365 347.75,364.97 348.1,364.89 348.45,364.74 348.8,364.5 349.15,364.18 349.5,363.76 349.85,363.23 350.2,362.6 350.55,361.85 350.9,361.01 351.25,360.07 351.6,359.06 351.95,357.99 352.3,356.9 352.65,355.79 353,354.7 353.35,353.62 353.7,352.54 354.05,351.47 354.4,350.39 354.75,349.27 355.1,348.1 355.45,346.85 355.8,345.5 356.15,343.99 356.5,342.13 356.85,339.97 357.2,337.64 357.55,335.25 357.9,332.97 358.25,330.86 358.6,328.77 358.95,326.71 359.3,324.67 359.65,322.29 360,319.75 360.35,317.24 360.7,314.77 361.05,312.33 361.4,309.93 361.75,307.56 362.1,305.23 362.45,302.94 362.8,300.69 363.15,298.48 363.5,296.31 363.85,294.19 364.2,292.1 364.55,290.06 364.9,288.06 365.25,286.1 365.6,284.18 365.95,282.3 366.3,280.46 366.65,278.65 367,276.88 367.35,275.15 367.7,273.45 369.7,264.35 371.7,256.16 373.7,248.72 375.7,241.9 377.7,235.6 379.7,229.7 381.7,224.17 383.7,218.97 385.7,214.05 387.7,209.38 389.7,204.95 391.7,200.73 393.7,196.7 395.7,192.86 397.7,189.18 399.7,185.66 401.7,182.28 403.7,179.03 405.7,175.91 407.7,172.9 409.7,170.01 411.7,167.21 413.7,164.51 415.7,161.9 417.7,159.38 419.7,156.93 421.7,154.56 423.7,152.25 425.7,150.02 427.7,147.84 429.7,145.73 431.7,143.67 433.7,141.66 435.7,139.7 437.7,137.79 439.7,135.92 441.7,134.09 443.7,132.31 445.7,130.56 447.7,128.85 449.7,127.17 451.7,125.52 453.7,123.91 455.7,122.32 457.7,120.76 459.7,119.23 461.7,117.72 463.7,116.24 465.7,114.78 467.7,113.35 469.7,111.93 471.7,110.54 473.7,109.16 475.7,107.8 477.7,106.46 479.7,105.14 481.7,103.83 483.7,102.54 485.7,101.27 487.7,100.01 489.7,98.76 491.7,97.53 493.7,96.31 495.7,95.1 497.7,93.91 499.7,92.72 501.7,91.54 503.7,90.38 505.7,89.23 507.7,88.09 509.7,86.96 511.7,85.83 513.7,84.72 515.7,83.62 517.7,82.52 519.7,81.44 521.7,80.36 523.7,79.28 525.7,78.22 527.7,77.16 529.7,76.11 531.7,75.07 533.7,74.03 535.7,73 537.7,71.98 539.7,70.96 541.7,69.95 543.7,68.95 545.7,67.95 547.7,66.96 549.7,65.97 551.7,64.99 553.7,64.02 555.7,63.06 557.7,62.1 559.7,61.15 561.7,60.2 563.7,59.26 565.7,58.32 567.7,57.38 569.7,56.44 571.7,55.5 573.7,54.56 575.7,53.62" fill="none" stroke="#090949" stroke-width="4.2" stroke-linejoin="round" stroke-linecap="round"/>
<polyline points="110,306.9 114,308.36 118,309.82 122,311.27 126,312.7 130,314.09 134,315.45 138,316.79 142,318.14 146,319.51 150,320.92 154,322.41 158,324 162,325.67 166,327.37 170,329.05 174,330.65 178,332.13 182,333.47 186,334.73 190,335.93 194,337.09 198,338.24 202,339.4 206,340.59 210,341.78 214,342.97 218,344.16 222,345.34 226,346.53 230,347.73 234,348.93 238,350.11 242,351.29 246,352.49 250,353.7 254,354.94 258,356.22 262,357.52 266,358.84 270,360.19 274,361.58 278,363.02 282,364.53 286,366.13 287,366.55 288,366.98 289,367.42 290,367.86 291,368.31 292,368.76 293,369.21 294,369.67 295,370.14 296,370.6 297,371.07 298,371.54 299,372.01 300,372.48 301,372.95 302,373.42 303,373.89 304,374.35 305,374.81 306,375.27 307,375.73 308,376.18 309,376.62 310,377.06 311,377.5 312,377.93 313,378.37 314,378.8 315,379.23 316,379.66 317,380.09 318,380.52 319,380.95 320,381.4 321,381.85 322,382.32 323,382.81 324,383.34 325,383.93 326,384.59 327,385.35 328,386.27 329,387.4 329.35,387.86 329.7,388.35 330.05,388.89 330.4,389.47 330.75,390.1 331.1,390.79 331.45,391.54 331.8,392.35 332.15,393.24 332.5,394.2 332.85,395.24 333.2,396.37 333.55,397.6 333.9,398.93 334.25,400.36 334.6,401.91 334.95,403.57 335.3,405.36 335.65,407.27 336,409.32 336.35,411.49 336.7,413.81 337.05,416.26 337.4,418.85 337.75,421.56 338.1,424.41 338.45,427.37 338.8,430.45 339.15,433.61 339.5,436.86 339.85,440.16 340.2,443.48 340.55,446.81 340.9,450.09 341.25,453.29 341.6,456.35 341.95,459.21 342.3,461.79 342.65,463.96 343,465.55 343.2,466 343.55,465.42 343.9,464.34 344.25,462.91 344.6,461.19 344.95,459.23 345.3,457.06 345.65,454.7 346,452.17 346.35,449.5 346.7,446.7 347.05,443.78 347.4,440.76 347.75,437.66 348.1,434.48 348.45,431.23 348.8,427.93 349.15,424.57 349.5,421.14 349.85,417.66 350.2,414.15 350.55,410.63 350.9,407.11 351.25,403.63 351.6,400.21 351.95,396.87 352.3,393.65 352.65,390.58 353,387.66 353.35,384.89 353.7,382.25 354.05,379.71 354.4,377.24 354.75,374.83 355.1,372.43 355.45,370.01 355.8,367.55 356.15,364.96 356.5,362.03 356.85,358.82 357.2,355.5 357.55,352.22 357.9,349.14 358.25,346.34 358.6,343.64 358.95,341.02 359.3,338.49 359.65,335.56 360,332.46 360.35,329.46 360.7,326.53 361.05,323.69 361.4,320.92 361.75,318.22 362.1,315.59 362.45,313.03 362.8,310.53 363.15,308.1 363.5,305.73 365.5,293.28 367.5,282.4 369.5,272.76 371.5,264.11 373.5,256.24 375.5,249.02 377.5,242.33 379.5,236.08 381.5,230.2 383.5,224.68 385.5,219.46 387.5,214.51 389.5,209.81 391.5,205.34 393.5,201.09 395.5,197.03 397.5,193.15 399.5,189.43 401.5,185.88 403.5,182.47 405.5,179.19 407.5,176.04 409.5,173.01 411.5,170.09 413.5,167.27 415.5,164.55 417.5,161.92 419.5,159.38 421.5,156.91 423.5,154.52 425.5,152.21 427.5,149.96 429.5,147.77 431.5,145.65 433.5,143.58 435.5,141.56 437.5,139.6 439.5,137.68 441.5,135.81 443.5,133.98 445.5,132.19 447.5,130.44 449.5,128.72 451.5,127.04 453.5,125.39 455.5,123.78 457.5,122.19 459.5,120.63 461.5,119.1 463.5,117.59 465.5,116.11 467.5,114.66 469.5,113.23 471.5,111.81 473.5,110.42 475.5,109.05 477.5,107.69 479.5,106.36 481.5,105.04 483.5,103.73 485.5,102.45 487.5,101.18 489.5,99.92 491.5,98.68 493.5,97.45 495.5,96.24 497.5,95.03 499.5,93.84 501.5,92.66 503.5,91.48 505.5,90.33 507.5,89.18 509.5,88.04 511.5,86.92 513.5,85.8 515.5,84.69 517.5,83.59 519.5,82.5 521.5,81.42 523.5,80.34 525.5,79.27 527.5,78.21 529.5,77.16 531.5,76.11 533.5,75.07 535.5,74.04 537.5,73.02 539.5,72 541.5,70.99 543.5,69.98 545.5,68.98 547.5,67.99 549.5,67 551.5,66.02 553.5,65.04 555.5,64.08 557.5,63.12 559.5,62.16 561.5,61.22 563.5,60.27 565.5,59.33 567.5,58.39 569.5,57.45 571.5,56.51 573.5,55.57 575.5,54.63" fill="none" stroke="#0a0a3a" stroke-width="4.2" stroke-linejoin="round" stroke-linecap="round"/>
<rect x="108.5" y="19.3" width="466" height="484.2" fill="none" stroke="#000" stroke-width="3"/>
<line x1="110" y1="440.2" x2="116" y2="440.2" stroke="#000" stroke-width="3" stroke-linecap="butt"/>
<line x1="110" y1="377.4" x2="116" y2="377.4" stroke="#000" stroke-width="3" stroke-linecap="butt"/>
<line x1="110" y1="314.6" x2="116" y2="314.6" stroke="#000" stroke-width="3" stroke-linecap="butt"/>
<line x1="110" y1="251.8" x2="116" y2="251.8" stroke="#000" stroke-width="3" stroke-linecap="butt"/>
<line x1="110" y1="189" x2="116" y2="189" stroke="#000" stroke-width="3" stroke-linecap="butt"/>
<line x1="110" y1="126.2" x2="116" y2="126.2" stroke="#000" stroke-width="3" stroke-linecap="butt"/>
<line x1="110" y1="63.4" x2="116" y2="63.4" stroke="#000" stroke-width="3" stroke-linecap="butt"/>
<line x1="110" y1="484.1" x2="113.5" y2="484.1" stroke="#000" stroke-width="2.6" stroke-linecap="butt"/>
<line x1="110" y1="473.04" x2="113.5" y2="473.04" stroke="#000" stroke-width="2.6" stroke-linecap="butt"/>
<line x1="110" y1="465.19" x2="113.5" y2="465.19" stroke="#000" stroke-width="2.6" stroke-linecap="butt"/>
<line x1="110" y1="459.1" x2="113.5" y2="459.1" stroke="#000" stroke-width="2.6" stroke-linecap="butt"/>
<line x1="110" y1="454.13" x2="113.5" y2="454.13" stroke="#000" stroke-width="2.6" stroke-linecap="butt"/>
<line x1="110" y1="449.93" x2="113.5" y2="449.93" stroke="#000" stroke-width="2.6" stroke-linecap="butt"/>
<line x1="110" y1="446.29" x2="113.5" y2="446.29" stroke="#000" stroke-width="2.6" stroke-linecap="butt"/>
<line x1="110" y1="443.07" x2="113.5" y2="443.07" stroke="#000" stroke-width="2.6" stroke-linecap="butt"/>
<line x1="110" y1="421.3" x2="113.5" y2="421.3" stroke="#000" stroke-width="2.6" stroke-linecap="butt"/>
<line x1="110" y1="410.24" x2="113.5" y2="410.24" stroke="#000" stroke-width="2.6" stroke-linecap="butt"/>
<line x1="110" y1="402.39" x2="113.5" y2="402.39" stroke="#000" stroke-width="2.6" stroke-linecap="butt"/>
<line x1="110" y1="396.3" x2="113.5" y2="396.3" stroke="#000" stroke-width="2.6" stroke-linecap="butt"/>
<line x1="110" y1="391.33" x2="113.5" y2="391.33" stroke="#000" stroke-width="2.6" stroke-linecap="butt"/>
<line x1="110" y1="387.13" x2="113.5" y2="387.13" stroke="#000" stroke-width="2.6" stroke-linecap="butt"/>
<line x1="110" y1="383.49" x2="113.5" y2="383.49" stroke="#000" stroke-width="2.6" stroke-linecap="butt"/>
<line x1="110" y1="380.27" x2="113.5" y2="380.27" stroke="#000" stroke-width="2.6" stroke-linecap="butt"/>
<line x1="110" y1="358.5" x2="113.5" y2="358.5" stroke="#000" stroke-width="2.6" stroke-linecap="butt"/>
<line x1="110" y1="347.44" x2="113.5" y2="347.44" stroke="#000" stroke-width="2.6" stroke-linecap="butt"/>
<line x1="110" y1="339.59" x2="113.5" y2="339.59" stroke="#000" stroke-width="2.6" stroke-linecap="butt"/>
<line x1="110" y1="333.5" x2="113.5" y2="333.5" stroke="#000" stroke-width="2.6" stroke-linecap="butt"/>
<line x1="110" y1="328.53" x2="113.5" y2="328.53" stroke="#000" stroke-width="2.6" stroke-linecap="butt"/>
<line x1="110" y1="324.33" x2="113.5" y2="324.33" stroke="#000" stroke-width="2.6" stroke-linecap="butt"/>
<line x1="110" y1="320.69" x2="113.5" y2="320.69" stroke="#000" stroke-width="2.6" stroke-linecap="butt"/>
<line x1="110" y1="317.47" x2="113.5" y2="317.47" stroke="#000" stroke-width="2.6" stroke-linecap="butt"/>
<line x1="110" y1="295.7" x2="113.5" y2="295.7" stroke="#000" stroke-width="2.6" stroke-linecap="butt"/>
<line x1="110" y1="284.64" x2="113.5" y2="284.64" stroke="#000" stroke-width="2.6" stroke-linecap="butt"/>
<line x1="110" y1="276.79" x2="113.5" y2="276.79" stroke="#000" stroke-width="2.6" stroke-linecap="butt"/>
<line x1="110" y1="270.7" x2="113.5" y2="270.7" stroke="#000" stroke-width="2.6" stroke-linecap="butt"/>
<line x1="110" y1="265.73" x2="113.5" y2="265.73" stroke="#000" stroke-width="2.6" stroke-linecap="butt"/>
<line x1="110" y1="261.53" x2="113.5" y2="261.53" stroke="#000" stroke-width="2.6" stroke-linecap="butt"/>
<line x1="110" y1="257.89" x2="113.5" y2="257.89" stroke="#000" stroke-width="2.6" stroke-linecap="butt"/>
<line x1="110" y1="254.67" x2="113.5" y2="254.67" stroke="#000" stroke-width="2.6" stroke-linecap="butt"/>
<line x1="110" y1="232.9" x2="113.5" y2="232.9" stroke="#000" stroke-width="2.6" stroke-linecap="butt"/>
<line x1="110" y1="221.84" x2="113.5" y2="221.84" stroke="#000" stroke-width="2.6" stroke-linecap="butt"/>
<line x1="110" y1="213.99" x2="113.5" y2="213.99" stroke="#000" stroke-width="2.6" stroke-linecap="butt"/>
<line x1="110" y1="207.9" x2="113.5" y2="207.9" stroke="#000" stroke-width="2.6" stroke-linecap="butt"/>
<line x1="110" y1="202.93" x2="113.5" y2="202.93" stroke="#000" stroke-width="2.6" stroke-linecap="butt"/>
<line x1="110" y1="198.73" x2="113.5" y2="198.73" stroke="#000" stroke-width="2.6" stroke-linecap="butt"/>
<line x1="110" y1="195.09" x2="113.5" y2="195.09" stroke="#000" stroke-width="2.6" stroke-linecap="butt"/>
<line x1="110" y1="191.87" x2="113.5" y2="191.87" stroke="#000" stroke-width="2.6" stroke-linecap="butt"/>
<line x1="110" y1="170.1" x2="113.5" y2="170.1" stroke="#000" stroke-width="2.6" stroke-linecap="butt"/>
<line x1="110" y1="159.04" x2="113.5" y2="159.04" stroke="#000" stroke-width="2.6" stroke-linecap="butt"/>
<line x1="110" y1="151.19" x2="113.5" y2="151.19" stroke="#000" stroke-width="2.6" stroke-linecap="butt"/>
<line x1="110" y1="145.1" x2="113.5" y2="145.1" stroke="#000" stroke-width="2.6" stroke-linecap="butt"/>
<line x1="110" y1="140.13" x2="113.5" y2="140.13" stroke="#000" stroke-width="2.6" stroke-linecap="butt"/>
<line x1="110" y1="135.93" x2="113.5" y2="135.93" stroke="#000" stroke-width="2.6" stroke-linecap="butt"/>
<line x1="110" y1="132.29" x2="113.5" y2="132.29" stroke="#000" stroke-width="2.6" stroke-linecap="butt"/>
<line x1="110" y1="129.07" x2="113.5" y2="129.07" stroke="#000" stroke-width="2.6" stroke-linecap="butt"/>
<line x1="110" y1="107.3" x2="113.5" y2="107.3" stroke="#000" stroke-width="2.6" stroke-linecap="butt"/>
<line x1="110" y1="96.24" x2="113.5" y2="96.24" stroke="#000" stroke-width="2.6" stroke-linecap="butt"/>
<line x1="110" y1="88.39" x2="113.5" y2="88.39" stroke="#000" stroke-width="2.6" stroke-linecap="butt"/>
<line x1="110" y1="82.3" x2="113.5" y2="82.3" stroke="#000" stroke-width="2.6" stroke-linecap="butt"/>
<line x1="110" y1="77.33" x2="113.5" y2="77.33" stroke="#000" stroke-width="2.6" stroke-linecap="butt"/>
<line x1="110" y1="73.13" x2="113.5" y2="73.13" stroke="#000" stroke-width="2.6" stroke-linecap="butt"/>
<line x1="110" y1="69.49" x2="113.5" y2="69.49" stroke="#000" stroke-width="2.6" stroke-linecap="butt"/>
<line x1="110" y1="66.27" x2="113.5" y2="66.27" stroke="#000" stroke-width="2.6" stroke-linecap="butt"/>
<line x1="110" y1="44.5" x2="113.5" y2="44.5" stroke="#000" stroke-width="2.6" stroke-linecap="butt"/>
<line x1="110" y1="33.44" x2="113.5" y2="33.44" stroke="#000" stroke-width="2.6" stroke-linecap="butt"/>
<line x1="110" y1="25.59" x2="113.5" y2="25.59" stroke="#000" stroke-width="2.6" stroke-linecap="butt"/>
<text x="100.3" y="136.7" font-size="29.8" font-weight="bold" text-anchor="end" fill="#000">10<tspan font-size="20.3" dy="-11.2">-7</tspan></text>
<text x="100.3" y="262.3" font-size="29.8" font-weight="bold" text-anchor="end" fill="#000">10<tspan font-size="20.3" dy="-11.2">-9</tspan></text>
<text x="100.3" y="387.9" font-size="29.8" font-weight="bold" text-anchor="end" fill="#000">10<tspan font-size="20.3" dy="-11.2">-11</tspan></text>
<text x="100.3" y="513.5" font-size="29.8" font-weight="bold" text-anchor="end" fill="#000">10<tspan font-size="20.3" dy="-11.2">-13</tspan></text>
<line x1="150.6" y1="502" x2="150.6" y2="495" stroke="#000" stroke-width="3" stroke-linecap="butt"/>
<text x="150.6" y="534.3" font-size="29.8" font-weight="bold" text-anchor="middle" fill="#000">-4</text>
<line x1="243.7" y1="502" x2="243.7" y2="495" stroke="#000" stroke-width="3" stroke-linecap="butt"/>
<text x="243.7" y="534.3" font-size="29.8" font-weight="bold" text-anchor="middle" fill="#000">-2</text>
<line x1="336.8" y1="502" x2="336.8" y2="495" stroke="#000" stroke-width="3" stroke-linecap="butt"/>
<text x="336.8" y="534.3" font-size="29.8" font-weight="bold" text-anchor="middle" fill="#000">0</text>
<line x1="429.9" y1="502" x2="429.9" y2="495" stroke="#000" stroke-width="3" stroke-linecap="butt"/>
<text x="429.9" y="534.3" font-size="29.8" font-weight="bold" text-anchor="middle" fill="#000">2</text>
<line x1="523" y1="502" x2="523" y2="495" stroke="#000" stroke-width="3" stroke-linecap="butt"/>
<text x="523" y="534.3" font-size="29.8" font-weight="bold" text-anchor="middle" fill="#000">4</text>
<line x1="197.15" y1="502" x2="197.15" y2="498" stroke="#000" stroke-width="2.5" stroke-linecap="butt"/>
<line x1="290.25" y1="502" x2="290.25" y2="498" stroke="#000" stroke-width="2.5" stroke-linecap="butt"/>
<line x1="383.35" y1="502" x2="383.35" y2="498" stroke="#000" stroke-width="2.5" stroke-linecap="butt"/>
<line x1="476.45" y1="502" x2="476.45" y2="498" stroke="#000" stroke-width="2.5" stroke-linecap="butt"/>
<line x1="569.55" y1="502" x2="569.55" y2="498" stroke="#000" stroke-width="2.5" stroke-linecap="butt"/>
<text x="310.4" y="569.5" font-size="28.8" font-weight="bold" text-anchor="start" fill="#000">V<tspan font-size="19" dy="7.5">D</tspan><tspan dy="-7.5"> (V)</tspan></text>
<text transform="translate(46,262) rotate(-90)" font-size="28.8" font-weight="bold" text-anchor="middle" fill="#000">I<tspan font-size="19" dy="7.5">D</tspan><tspan dy="-7.5"> (A)</tspan></text>
<text x="145" y="62" font-size="28.2" font-weight="normal" text-anchor="start" fill="#000">In<tspan font-size="19" dy="7.5">2</tspan><tspan dy="-7.5">Se</tspan><tspan font-size="19" dy="7.5">3</tspan><tspan dy="-7.5">/WSe</tspan><tspan font-size="19" dy="7.5">2</tspan><tspan dy="-7.5">/ReS</tspan><tspan font-size="19" dy="7.5">2</tspan><tspan dy="-7.5"></tspan></text>
<text x="179.9" y="106.5" font-size="28.2" font-weight="normal" text-anchor="start" fill="#000">&#955; = 532 nm</text>
<text x="-2.2" y="47.7" font-size="50" font-weight="normal" text-anchor="start" fill="#000">(a)</text>
<polyline points="828,208.2 828.27,214.45 828.54,221.06 828.81,227.96 829.08,235.09 829.35,242.38 829.62,249.79 829.89,257.23 830.16,264.66 830.43,272 830.7,279.19 830.97,286.18 831.24,292.89 831.51,299.26 831.78,305.24 832.05,310.75 832.32,315.74 832.59,320.15 832.86,323.9 833.13,326.94 833.4,329.2 834.19,334.36 834.99,338.95 835.78,343 836.58,346.57 837.38,349.67 838.17,352.35 838.96,354.64 839.76,356.59 840.55,358.22 841.35,359.58 842.14,360.7 842.94,361.62 843.74,362.37 844.53,362.99 845.32,363.52 846.12,364 846.91,364.46 847.71,364.94 848.5,365.47 849.3,366.1 850.18,366.81 851.06,367.41 851.94,367.94 852.82,368.38 853.7,368.75 854.58,369.06 855.46,369.31 856.34,369.52 857.22,369.7 858.1,369.85 858.98,369.98 859.86,370.1 860.74,370.23 861.62,370.36 862.5,370.5 863.38,370.68 864.26,370.88 865.14,371.13 866.02,371.44 866.9,371.8 868.89,372.77 870.89,373.88 872.88,375.12 874.88,376.46 876.88,377.91 878.87,379.43 880.87,381.02 882.86,382.66 884.86,384.35 886.85,386.06 888.84,387.79 890.84,389.51 892.83,391.22 894.83,392.9 896.82,394.54 898.82,396.12 900.81,397.63 902.81,399.06 904.8,400.38 906.8,401.6 908.69,402.66 910.58,403.67 912.47,404.62 914.36,405.52 916.25,406.38 918.14,407.19 920.03,407.97 921.92,408.71 923.81,409.43 925.7,410.13 927.59,410.8 929.48,411.47 931.37,412.12 933.26,412.77 935.15,413.42 937.04,414.07 938.93,414.73 940.82,415.4 942.71,416.09 944.6,416.8 946.75,417.61 948.89,418.42 951.03,419.21 953.18,419.99 955.33,420.76 957.47,421.53 959.62,422.3 961.76,423.06 963.9,423.82 966.05,424.57 968.2,425.34 970.34,426.1 972.49,426.87 974.63,427.64 976.77,428.42 978.92,429.21 981.07,430.01 983.21,430.83 985.36,431.66 987.5,432.5 991.88,434.27 996.26,436.09 1000.64,437.95 1005.02,439.85 1009.4,441.78 1013.78,443.73 1018.16,445.68 1022.54,447.65 1026.92,449.61 1031.3,451.56 1035.68,453.48 1040.06,455.38 1044.44,457.24 1048.82,459.06 1053.2,460.83 1057.58,462.54 1061.96,464.18 1066.34,465.74 1070.72,467.21 1075.1,468.6 1077.42,469.26 1079.74,469.84 1082.06,470.33 1084.38,470.76 1086.7,471.12 1089.02,471.42 1091.34,471.67 1093.66,471.88 1095.98,472.05 1098.3,472.19 1100.62,472.32 1102.94,472.43 1105.26,472.53 1107.58,472.64 1109.9,472.75 1112.22,472.88 1114.54,473.03 1116.86,473.21 1119.18,473.43 1121.5,473.7 1123.11,473.9 1124.72,474.12 1126.33,474.33 1127.94,474.56 1129.55,474.78 1131.16,475.01 1132.77,475.25 1134.38,475.49 1135.99,475.73 1137.6,475.98 1139.21,476.23 1140.82,476.48 1142.43,476.73 1144.04,476.98 1145.65,477.24 1147.26,477.49 1148.87,477.75 1150.48,478 1152.09,478.25 1153.7,478.5 1156.45,478.93 1159.21,479.36 1161.97,479.79 1164.72,480.22 1167.47,480.65 1170.23,481.08 1172.99,481.52 1175.74,481.95 1178.49,482.39 1181.25,482.83 1184.01,483.27 1186.76,483.7 1189.51,484.14 1192.27,484.58 1195.03,485.02 1197.78,485.45 1200.53,485.89 1203.29,486.33 1206.05,486.76 1208.8,487.2" fill="none" stroke="#000" stroke-width="4.6" stroke-linejoin="round" stroke-linecap="round"/>
<rect x="821.75" y="201.95" width="12.5" height="12.5" fill="#fff" stroke="#000" stroke-width="2.1"/>
<rect x="827.15" y="322.95" width="12.5" height="12.5" fill="#fff" stroke="#000" stroke-width="2.1"/>
<rect x="843.05" y="359.85" width="12.5" height="12.5" fill="#fff" stroke="#000" stroke-width="2.1"/>
<rect x="860.65" y="365.55" width="12.5" height="12.5" fill="#fff" stroke="#000" stroke-width="2.1"/>
<rect x="900.55" y="395.35" width="12.5" height="12.5" fill="#fff" stroke="#000" stroke-width="2.1"/>
<rect x="938.35" y="410.55" width="12.5" height="12.5" fill="#fff" stroke="#000" stroke-width="2.1"/>
<rect x="981.25" y="426.25" width="12.5" height="12.5" fill="#fff" stroke="#000" stroke-width="2.1"/>
<rect x="1068.85" y="462.35" width="12.5" height="12.5" fill="#fff" stroke="#000" stroke-width="2.1"/>
<rect x="1115.25" y="467.45" width="12.5" height="12.5" fill="#fff" stroke="#000" stroke-width="2.1"/>
<rect x="1147.45" y="472.25" width="12.5" height="12.5" fill="#fff" stroke="#000" stroke-width="2.1"/>
<rect x="1202.55" y="480.95" width="12.5" height="12.5" fill="#fff" stroke="#000" stroke-width="2.1"/>
<polyline points="827.7,72.6 827.99,77.62 828.27,82.92 828.56,88.44 828.84,94.14 829.12,99.97 829.41,105.88 829.7,111.82 829.98,117.75 830.26,123.61 830.55,129.36 830.84,134.95 831.12,140.33 831.4,145.45 831.69,150.26 831.98,154.72 832.26,158.77 832.54,162.38 832.83,165.48 833.12,168.04 833.4,170 834.19,174.34 834.99,178.2 835.78,181.62 836.58,184.61 837.38,187.22 838.17,189.48 838.96,191.41 839.76,193.04 840.55,194.42 841.35,195.56 842.14,196.51 842.94,197.28 843.74,197.92 844.53,198.44 845.32,198.9 846.12,199.3 846.91,199.7 847.71,200.11 848.5,200.56 849.3,201.1 850.18,201.71 851.06,202.23 851.94,202.68 852.82,203.06 853.7,203.38 854.58,203.65 855.46,203.87 856.34,204.06 857.22,204.21 858.1,204.34 858.98,204.45 859.86,204.56 860.74,204.66 861.62,204.76 862.5,204.88 863.38,205.02 864.26,205.18 865.14,205.38 866.02,205.61 866.9,205.9 868.89,206.67 870.89,207.55 872.88,208.54 874.88,209.62 876.88,210.77 878.87,212 880.87,213.28 882.86,214.61 884.86,215.97 886.85,217.35 888.84,218.75 890.84,220.14 892.83,221.52 894.83,222.88 896.82,224.21 898.82,225.48 900.81,226.7 902.81,227.85 904.8,228.92 906.8,229.9 908.69,230.75 910.58,231.55 912.47,232.31 914.36,233.03 916.25,233.71 918.14,234.35 920.03,234.97 921.92,235.55 923.81,236.12 925.7,236.67 927.59,237.2 929.48,237.73 931.37,238.24 933.26,238.76 935.15,239.27 937.04,239.79 938.93,240.32 940.82,240.86 942.71,241.42 944.6,242 946.73,242.66 948.85,243.32 950.98,243.97 953.1,244.61 955.23,245.26 957.35,245.9 959.48,246.54 961.6,247.18 963.73,247.81 965.85,248.45 967.98,249.09 970.1,249.73 972.23,250.37 974.35,251.02 976.48,251.67 978.6,252.32 980.73,252.98 982.85,253.65 984.98,254.32 987.1,255 991.5,256.44 995.9,257.92 1000.3,259.43 1004.7,260.97 1009.1,262.53 1013.5,264.1 1017.9,265.68 1022.3,267.27 1026.7,268.85 1031.1,270.41 1035.5,271.96 1039.9,273.48 1044.3,274.98 1048.7,276.43 1053.1,277.84 1057.5,279.2 1061.9,280.5 1066.3,281.74 1070.7,282.91 1075.1,284 1077.42,284.52 1079.74,284.97 1082.06,285.36 1084.38,285.69 1086.7,285.97 1089.02,286.2 1091.34,286.4 1093.66,286.56 1095.98,286.7 1098.3,286.81 1100.62,286.91 1102.94,286.99 1105.26,287.08 1107.58,287.16 1109.9,287.25 1112.22,287.35 1114.54,287.47 1116.86,287.62 1119.18,287.79 1121.5,288 1123.11,288.16 1124.72,288.33 1126.33,288.51 1127.94,288.69 1129.55,288.88 1131.16,289.07 1132.77,289.27 1134.38,289.47 1135.99,289.68 1137.6,289.89 1139.21,290.1 1140.82,290.31 1142.43,290.52 1144.04,290.74 1145.65,290.95 1147.26,291.16 1148.87,291.37 1150.48,291.59 1152.09,291.79 1153.7,292 1156.45,292.35 1159.21,292.7 1161.97,293.05 1164.72,293.41 1167.47,293.76 1170.23,294.12 1172.99,294.47 1175.74,294.83 1178.49,295.18 1181.25,295.54 1184.01,295.89 1186.76,296.25 1189.51,296.61 1192.27,296.96 1195.03,297.32 1197.78,297.68 1200.53,298.03 1203.29,298.39 1206.05,298.74 1208.8,299.1" fill="none" stroke="#0000ff" stroke-width="4.6" stroke-linejoin="round" stroke-linecap="round"/>
<rect x="821.45" y="66.35" width="12.5" height="12.5" fill="#fff" stroke="#0000ff" stroke-width="2.1"/>
<rect x="827.15" y="163.75" width="12.5" height="12.5" fill="#fff" stroke="#0000ff" stroke-width="2.1"/>
<rect x="843.05" y="194.85" width="12.5" height="12.5" fill="#fff" stroke="#0000ff" stroke-width="2.1"/>
<rect x="860.65" y="199.65" width="12.5" height="12.5" fill="#fff" stroke="#0000ff" stroke-width="2.1"/>
<rect x="900.55" y="223.65" width="12.5" height="12.5" fill="#fff" stroke="#0000ff" stroke-width="2.1"/>
<rect x="938.35" y="235.75" width="12.5" height="12.5" fill="#fff" stroke="#0000ff" stroke-width="2.1"/>
<rect x="980.85" y="248.75" width="12.5" height="12.5" fill="#fff" stroke="#0000ff" stroke-width="2.1"/>
<rect x="1068.85" y="277.75" width="12.5" height="12.5" fill="#fff" stroke="#0000ff" stroke-width="2.1"/>
<rect x="1115.25" y="281.75" width="12.5" height="12.5" fill="#fff" stroke="#0000ff" stroke-width="2.1"/>
<rect x="1147.45" y="285.75" width="12.5" height="12.5" fill="#fff" stroke="#0000ff" stroke-width="2.1"/>
<rect x="1202.55" y="292.85" width="12.5" height="12.5" fill="#fff" stroke="#0000ff" stroke-width="2.1"/>
<ellipse cx="832" cy="134" rx="20" ry="15" fill="none" stroke="#0000ff" stroke-width="3"/>
<line x1="881" y1="131.3" x2="1036" y2="131.3" stroke="#0000ff" stroke-width="3.9" stroke-linecap="butt"/>
<path d="M1057.3,131.3L1034,125.4L1034,137.2Z" fill="#0000ff" stroke="none"/>
<ellipse cx="831.7" cy="271" rx="18.3" ry="12.3" fill="none" stroke="#000" stroke-width="3"/>
<line x1="818.7" y1="298.5" x2="803.9" y2="298.5" stroke="#000" stroke-width="2.7" stroke-linecap="butt"/>
<path d="M785.9,298.5L814,291.4L807.2,298.5L814,305.6Z" fill="#000" stroke="none"/>
<line x1="783.5" y1="29.2" x2="1254.5" y2="29.2" stroke="#000" stroke-width="3" stroke-linecap="butt"/>
<line x1="783.5" y1="27.7" x2="783.5" y2="505" stroke="#000" stroke-width="3" stroke-linecap="butt"/>
<line x1="782" y1="503.5" x2="1254.5" y2="503.5" stroke="#000" stroke-width="3" stroke-linecap="butt"/>
<line x1="1254.5" y1="27.7" x2="1254.5" y2="505" stroke="#0000ff" stroke-width="3.5" stroke-linecap="butt"/>
<line x1="785" y1="495.8" x2="791" y2="495.8" stroke="#000" stroke-width="3" stroke-linecap="butt"/>
<text x="774.6" y="505.1" font-size="30.2" font-weight="bold" text-anchor="end" fill="#000">100</text>
<line x1="785" y1="410.84" x2="791" y2="410.84" stroke="#000" stroke-width="3" stroke-linecap="butt"/>
<text x="774.6" y="420.14" font-size="30.2" font-weight="bold" text-anchor="end" fill="#000">200</text>
<line x1="785" y1="325.88" x2="791" y2="325.88" stroke="#000" stroke-width="3" stroke-linecap="butt"/>
<text x="774.6" y="335.18" font-size="30.2" font-weight="bold" text-anchor="end" fill="#000">300</text>
<line x1="785" y1="240.92" x2="791" y2="240.92" stroke="#000" stroke-width="3" stroke-linecap="butt"/>
<text x="774.6" y="250.22" font-size="30.2" font-weight="bold" text-anchor="end" fill="#000">400</text>
<line x1="785" y1="155.96" x2="791" y2="155.96" stroke="#000" stroke-width="3" stroke-linecap="butt"/>
<text x="774.6" y="165.26" font-size="30.2" font-weight="bold" text-anchor="end" fill="#000">500</text>
<line x1="785" y1="71" x2="791" y2="71" stroke="#000" stroke-width="3" stroke-linecap="butt"/>
<text x="774.6" y="80.3" font-size="30.2" font-weight="bold" text-anchor="end" fill="#000">600</text>
<line x1="825.9" y1="502" x2="825.9" y2="496" stroke="#000" stroke-width="3" stroke-linecap="butt"/>
<line x1="912" y1="502" x2="912" y2="496" stroke="#000" stroke-width="3" stroke-linecap="butt"/>
<line x1="998.1" y1="502" x2="998.1" y2="496" stroke="#000" stroke-width="3" stroke-linecap="butt"/>
<line x1="1084.2" y1="502" x2="1084.2" y2="496" stroke="#000" stroke-width="3" stroke-linecap="butt"/>
<line x1="1170.3" y1="502" x2="1170.3" y2="496" stroke="#000" stroke-width="3" stroke-linecap="butt"/>
<text x="825.9" y="535.9" font-size="30.2" font-weight="bold" text-anchor="middle" fill="#000">0</text>
<text x="912" y="535.9" font-size="30.2" font-weight="bold" text-anchor="middle" fill="#000">5</text>
<text x="998.1" y="535.9" font-size="30.2" font-weight="bold" text-anchor="middle" fill="#000">10</text>
<text x="1084.2" y="535.9" font-size="30.2" font-weight="bold" text-anchor="middle" fill="#000">15</text>
<text x="1170.3" y="535.9" font-size="30.2" font-weight="bold" text-anchor="middle" fill="#000">20</text>
<text x="1256.4" y="535.9" font-size="30.2" font-weight="bold" text-anchor="middle" fill="#000">25</text>
<line x1="868.95" y1="502" x2="868.95" y2="498.5" stroke="#000" stroke-width="2.5" stroke-linecap="butt"/>
<line x1="955.05" y1="502" x2="955.05" y2="498.5" stroke="#000" stroke-width="2.5" stroke-linecap="butt"/>
<line x1="1041.15" y1="502" x2="1041.15" y2="498.5" stroke="#000" stroke-width="2.5" stroke-linecap="butt"/>
<line x1="1127.25" y1="502" x2="1127.25" y2="498.5" stroke="#000" stroke-width="2.5" stroke-linecap="butt"/>
<line x1="1213.35" y1="502" x2="1213.35" y2="498.5" stroke="#000" stroke-width="2.5" stroke-linecap="butt"/>
<line x1="1252.7" y1="460.2" x2="1246.5" y2="460.2" stroke="#0000ff" stroke-width="3" stroke-linecap="butt"/>
<text x="1263.8" y="471.4" font-size="30.2" font-weight="bold" text-anchor="start" fill="#0000ff">-1x10<tspan font-size="21" dy="-11.8">11</tspan></text>
<line x1="1252.7" y1="374.1" x2="1246.5" y2="374.1" stroke="#0000ff" stroke-width="3" stroke-linecap="butt"/>
<text x="1263.8" y="384.3" font-size="30.2" font-weight="bold" text-anchor="start" fill="#0000ff">0</text>
<line x1="1252.7" y1="288" x2="1246.5" y2="288" stroke="#0000ff" stroke-width="3" stroke-linecap="butt"/>
<text x="1263.8" y="299.2" font-size="30.2" font-weight="bold" text-anchor="start" fill="#0000ff">1x10<tspan font-size="21" dy="-11.8">11</tspan></text>
<line x1="1252.7" y1="201.9" x2="1246.5" y2="201.9" stroke="#0000ff" stroke-width="3" stroke-linecap="butt"/>
<text x="1263.8" y="213.1" font-size="30.2" font-weight="bold" text-anchor="start" fill="#0000ff">2x10<tspan font-size="21" dy="-11.8">11</tspan></text>
<line x1="1252.7" y1="115.8" x2="1246.5" y2="115.8" stroke="#0000ff" stroke-width="3" stroke-linecap="butt"/>
<text x="1263.8" y="127" font-size="30.2" font-weight="bold" text-anchor="start" fill="#0000ff">3x10<tspan font-size="21" dy="-11.8">11</tspan></text>
<line x1="1252.7" y1="29.7" x2="1246.5" y2="29.7" stroke="#0000ff" stroke-width="3" stroke-linecap="butt"/>
<text x="1263.8" y="40.9" font-size="30.2" font-weight="bold" text-anchor="start" fill="#0000ff">4x10<tspan font-size="21" dy="-11.8">11</tspan></text>
<text x="859.7" y="574.6" font-size="29.3" font-weight="bold" text-anchor="start" fill="#000">Light intensity (mW/cm<tspan font-size="20" dy="-11.7">2</tspan><tspan dy="11.7">)</tspan></text>
<text transform="translate(723.6,267) rotate(-90)" font-size="29.3" font-weight="bold" text-anchor="middle" fill="#000">Responsivity (mA/W)</text>
<text transform="translate(1366.8,275.5) rotate(-90)" font-size="29.3" font-weight="bold" text-anchor="middle" fill="#0000ff">Detectivity (Jones)</text>
<text x="990.7" y="83.7" font-size="29.4" font-weight="normal" text-anchor="start" fill="#000">In<tspan font-size="20" dy="7.8">2</tspan><tspan dy="-7.8">Se</tspan><tspan font-size="20" dy="7.8">3</tspan><tspan dy="-7.8">/WSe</tspan><tspan font-size="20" dy="7.8">2</tspan><tspan dy="-7.8">/ReS</tspan><tspan font-size="20" dy="7.8">2</tspan><tspan dy="-7.8"></tspan></text>
<text x="1085.7" y="133.3" font-size="29.3" font-weight="normal" text-anchor="start" fill="#000">&#955; = 532 nm</text>
<text x="683.2" y="35.2" font-size="50" font-weight="normal" text-anchor="start" fill="#000">(b)</text>
<line x1="1544.6" y1="362.7" x2="1979" y2="34.4" stroke="#bcbcbc" stroke-width="2" stroke-linecap="butt"/>
<polyline points="1544.5,456.8 1551.32,449.05 1558.14,441.1 1564.96,433 1571.78,424.81 1578.59,416.55 1585.41,408.28 1592.23,400.04 1599.05,391.87 1605.87,383.82 1612.69,375.93 1619.51,368.25 1626.32,360.82 1633.14,353.69 1639.96,346.89 1646.78,340.48 1653.6,334.5 1659.28,329.78 1664.96,325.21 1670.64,320.77 1676.32,316.46 1682.01,312.28 1687.69,308.21 1693.37,304.24 1699.05,300.38 1704.73,296.62 1710.41,292.94 1716.09,289.34 1721.78,285.82 1727.46,282.36 1733.14,278.95 1738.82,275.6 1744.5,272.3 1747.43,270.62 1750.36,268.98 1753.29,267.37 1756.22,265.79 1759.16,264.24 1762.09,262.72 1765.02,261.21 1767.95,259.72 1770.88,258.25 1773.81,256.8 1776.74,255.35 1779.68,253.92 1782.61,252.48 1785.54,251.06 1788.47,249.63 1791.4,248.2 1794.73,246.5 1798.05,244.65 1801.38,242.7 1804.7,240.69 1808.03,238.63 1811.35,236.58 1814.67,234.56 1818,232.6 1821.33,230.75 1824.65,229.03 1827.97,227.48 1831.3,226.14 1834.62,225.04 1837.95,224.21 1841.27,223.68 1844.6,223.5 1846.85,223.5 1849.1,223.5 1851.35,223.5 1853.6,223.5 1855.85,223.5 1858.1,223.5 1860.35,223.5 1862.6,223.5 1864.85,223.5 1867.1,223.5 1869.35,223.5 1871.6,223.5 1873.85,223.5 1876.1,223.5 1878.35,223.5 1880.6,223.5 1882.19,223.35 1883.77,222.94 1885.36,222.3 1886.95,221.47 1888.54,220.48 1890.12,219.39 1891.71,218.21 1893.3,217 1894.89,215.79 1896.47,214.61 1898.06,213.52 1899.65,212.53 1901.24,211.7 1902.83,211.06 1904.41,210.65 1906,210.5 1908.28,210.5 1910.55,210.51 1912.83,210.52 1915.1,210.53 1917.38,210.55 1919.65,210.56 1921.92,210.58 1924.2,210.6 1926.48,210.62 1928.75,210.64 1931.03,210.65 1933.3,210.67 1935.58,210.68 1937.85,210.69 1940.12,210.7 1942.4,210.7 1943.36,210.7 1944.31,210.7 1945.27,210.7 1946.23,210.7 1947.18,210.7 1948.14,210.7 1949.09,210.7 1950.05,210.7 1951.01,210.7 1951.96,210.7 1952.92,210.7 1953.88,210.7 1954.83,210.7 1955.79,210.7 1956.74,210.7 1957.7,210.7 1958.17,210.7 1958.65,210.7 1959.12,210.7 1959.6,210.7 1960.08,210.7 1960.55,210.7 1961.03,210.7 1961.5,210.7 1961.97,210.7 1962.45,210.7 1962.92,210.7 1963.4,210.7 1963.88,210.7 1964.35,210.7 1964.83,210.7 1965.3,210.7 1966.15,210.7 1967,210.7 1967.85,210.7 1968.7,210.7 1969.55,210.7 1970.4,210.7 1971.25,210.7 1972.1,210.7 1972.95,210.7 1973.8,210.7 1974.65,210.7 1975.5,210.7 1976.35,210.7 1977.2,210.7 1978.05,210.7 1978.9,210.7" fill="none" stroke="#0000ff" stroke-width="3" stroke-linejoin="round" stroke-linecap="round"/>
<path d="M1544.5,447.6L1553.7,456.8L1544.5,466L1535.3,456.8Z" fill="#fff" stroke="#0000ff" stroke-width="3" stroke-linejoin="miter"/>
<path d="M1653.6,325.3L1662.8,334.5L1653.6,343.7L1644.4,334.5Z" fill="#fff" stroke="#0000ff" stroke-width="3" stroke-linejoin="miter"/>
<path d="M1744.5,263.1L1753.7,272.3L1744.5,281.5L1735.3,272.3Z" fill="#fff" stroke="#0000ff" stroke-width="3" stroke-linejoin="miter"/>
<path d="M1791.4,239L1800.6,248.2L1791.4,257.4L1782.2,248.2Z" fill="#fff" stroke="#0000ff" stroke-width="3" stroke-linejoin="miter"/>
<path d="M1844.6,214.3L1853.8,223.5L1844.6,232.7L1835.4,223.5Z" fill="#fff" stroke="#0000ff" stroke-width="3" stroke-linejoin="miter"/>
<path d="M1880.6,214.3L1889.8,223.5L1880.6,232.7L1871.4,223.5Z" fill="#fff" stroke="#0000ff" stroke-width="3" stroke-linejoin="miter"/>
<path d="M1906,201.3L1915.2,210.5L1906,219.7L1896.8,210.5Z" fill="#fff" stroke="#0000ff" stroke-width="3" stroke-linejoin="miter"/>
<path d="M1942.4,201.5L1951.6,210.7L1942.4,219.9L1933.2,210.7Z" fill="#fff" stroke="#0000ff" stroke-width="3" stroke-linejoin="miter"/>
<path d="M1957.7,201.5L1966.9,210.7L1957.7,219.9L1948.5,210.7Z" fill="#fff" stroke="#0000ff" stroke-width="3" stroke-linejoin="miter"/>
<path d="M1965.3,201.5L1974.5,210.7L1965.3,219.9L1956.1,210.7Z" fill="#fff" stroke="#0000ff" stroke-width="3" stroke-linejoin="miter"/>
<path d="M1978.9,201.5L1988.1,210.7L1978.9,219.9L1969.7,210.7Z" fill="#fff" stroke="#0000ff" stroke-width="3" stroke-linejoin="miter"/>
<circle cx="1544.6" cy="366.4" r="8.9" fill="#ffff00" stroke="#0000ff" stroke-width="4.2"/>
<circle cx="1653.8" cy="289.8" r="8.9" fill="#ffff00" stroke="#0000ff" stroke-width="4.2"/>
<circle cx="1744.5" cy="212" r="8.9" fill="#ffff00" stroke="#0000ff" stroke-width="4.2"/>
<circle cx="1791.4" cy="167.5" r="8.9" fill="#ffff00" stroke="#0000ff" stroke-width="4.2"/>
<circle cx="1844.6" cy="122.7" r="8.9" fill="#ffff00" stroke="#0000ff" stroke-width="4.2"/>
<circle cx="1882" cy="98.2" r="8.9" fill="#ffff00" stroke="#0000ff" stroke-width="4.2"/>
<circle cx="1907" cy="81" r="8.9" fill="#ffff00" stroke="#0000ff" stroke-width="4.2"/>
<circle cx="1942.8" cy="68.2" r="8.9" fill="#ffff00" stroke="#0000ff" stroke-width="4.2"/>
<circle cx="1956.4" cy="57" r="8.9" fill="#ffff00" stroke="#0000ff" stroke-width="4.2"/>
<circle cx="1965.5" cy="52.6" r="8.9" fill="#ffff00" stroke="#0000ff" stroke-width="4.2"/>
<circle cx="1979" cy="47.2" r="8.9" fill="#ffff00" stroke="#0000ff" stroke-width="4.2"/>
<line x1="1500" y1="27" x2="2003" y2="27" stroke="#000" stroke-width="3" stroke-linecap="butt"/>
<line x1="1500" y1="25.5" x2="1500" y2="489.2" stroke="#000" stroke-width="3" stroke-linecap="butt"/>
<line x1="1498.5" y1="487.7" x2="2003" y2="487.7" stroke="#000" stroke-width="3" stroke-linecap="butt"/>
<line x1="2003" y1="25.5" x2="2003" y2="489.2" stroke="#0000ff" stroke-width="3.4" stroke-linecap="butt"/>
<line x1="1501.5" y1="487.8" x2="1508.5" y2="487.8" stroke="#000" stroke-width="3" stroke-linecap="butt"/>
<line x1="1501.5" y1="295.6" x2="1508.5" y2="295.6" stroke="#000" stroke-width="3" stroke-linecap="butt"/>
<line x1="1501.5" y1="103.4" x2="1508.5" y2="103.4" stroke="#000" stroke-width="3" stroke-linecap="butt"/>
<line x1="1501.5" y1="429.94" x2="1505" y2="429.94" stroke="#000" stroke-width="2.6" stroke-linecap="butt"/>
<line x1="1501.5" y1="396.1" x2="1505" y2="396.1" stroke="#000" stroke-width="2.6" stroke-linecap="butt"/>
<line x1="1501.5" y1="372.08" x2="1505" y2="372.08" stroke="#000" stroke-width="2.6" stroke-linecap="butt"/>
<line x1="1501.5" y1="353.46" x2="1505" y2="353.46" stroke="#000" stroke-width="2.6" stroke-linecap="butt"/>
<line x1="1501.5" y1="338.24" x2="1505" y2="338.24" stroke="#000" stroke-width="2.6" stroke-linecap="butt"/>
<line x1="1501.5" y1="325.37" x2="1505" y2="325.37" stroke="#000" stroke-width="2.6" stroke-linecap="butt"/>
<line x1="1501.5" y1="314.23" x2="1505" y2="314.23" stroke="#000" stroke-width="2.6" stroke-linecap="butt"/>
<line x1="1501.5" y1="304.39" x2="1505" y2="304.39" stroke="#000" stroke-width="2.6" stroke-linecap="butt"/>
<line x1="1501.5" y1="237.74" x2="1505" y2="237.74" stroke="#000" stroke-width="2.6" stroke-linecap="butt"/>
<line x1="1501.5" y1="203.9" x2="1505" y2="203.9" stroke="#000" stroke-width="2.6" stroke-linecap="butt"/>
<line x1="1501.5" y1="179.88" x2="1505" y2="179.88" stroke="#000" stroke-width="2.6" stroke-linecap="butt"/>
<line x1="1501.5" y1="161.26" x2="1505" y2="161.26" stroke="#000" stroke-width="2.6" stroke-linecap="butt"/>
<line x1="1501.5" y1="146.04" x2="1505" y2="146.04" stroke="#000" stroke-width="2.6" stroke-linecap="butt"/>
<line x1="1501.5" y1="133.17" x2="1505" y2="133.17" stroke="#000" stroke-width="2.6" stroke-linecap="butt"/>
<line x1="1501.5" y1="122.03" x2="1505" y2="122.03" stroke="#000" stroke-width="2.6" stroke-linecap="butt"/>
<line x1="1501.5" y1="112.19" x2="1505" y2="112.19" stroke="#000" stroke-width="2.6" stroke-linecap="butt"/>
<line x1="1501.5" y1="45.54" x2="1505" y2="45.54" stroke="#000" stroke-width="2.6" stroke-linecap="butt"/>
<text x="1489.8" y="496.8" font-size="31.8" font-weight="bold" text-anchor="end" fill="#000">10p</text>
<text x="1489.8" y="304.6" font-size="31.8" font-weight="bold" text-anchor="end" fill="#000">100p</text>
<text x="1489.8" y="112.4" font-size="31.8" font-weight="bold" text-anchor="end" fill="#000">1n</text>
<line x1="1529.1" y1="486.2" x2="1529.1" y2="479.2" stroke="#000" stroke-width="3" stroke-linecap="butt"/>
<line x1="1720.75" y1="486.2" x2="1720.75" y2="479.2" stroke="#000" stroke-width="3" stroke-linecap="butt"/>
<line x1="1912.4" y1="486.2" x2="1912.4" y2="479.2" stroke="#000" stroke-width="3" stroke-linecap="butt"/>
<line x1="1510.53" y1="486.2" x2="1510.53" y2="482.7" stroke="#000" stroke-width="2.2" stroke-linecap="butt"/>
<line x1="1520.33" y1="486.2" x2="1520.33" y2="482.7" stroke="#000" stroke-width="2.2" stroke-linecap="butt"/>
<line x1="1586.79" y1="486.2" x2="1586.79" y2="482.7" stroke="#000" stroke-width="2.2" stroke-linecap="butt"/>
<line x1="1620.54" y1="486.2" x2="1620.54" y2="482.7" stroke="#000" stroke-width="2.2" stroke-linecap="butt"/>
<line x1="1644.48" y1="486.2" x2="1644.48" y2="482.7" stroke="#000" stroke-width="2.2" stroke-linecap="butt"/>
<line x1="1663.06" y1="486.2" x2="1663.06" y2="482.7" stroke="#000" stroke-width="2.2" stroke-linecap="butt"/>
<line x1="1678.23" y1="486.2" x2="1678.23" y2="482.7" stroke="#000" stroke-width="2.2" stroke-linecap="butt"/>
<line x1="1691.06" y1="486.2" x2="1691.06" y2="482.7" stroke="#000" stroke-width="2.2" stroke-linecap="butt"/>
<line x1="1702.18" y1="486.2" x2="1702.18" y2="482.7" stroke="#000" stroke-width="2.2" stroke-linecap="butt"/>
<line x1="1711.98" y1="486.2" x2="1711.98" y2="482.7" stroke="#000" stroke-width="2.2" stroke-linecap="butt"/>
<line x1="1778.44" y1="486.2" x2="1778.44" y2="482.7" stroke="#000" stroke-width="2.2" stroke-linecap="butt"/>
<line x1="1812.19" y1="486.2" x2="1812.19" y2="482.7" stroke="#000" stroke-width="2.2" stroke-linecap="butt"/>
<line x1="1836.13" y1="486.2" x2="1836.13" y2="482.7" stroke="#000" stroke-width="2.2" stroke-linecap="butt"/>
<line x1="1854.71" y1="486.2" x2="1854.71" y2="482.7" stroke="#000" stroke-width="2.2" stroke-linecap="butt"/>
<line x1="1869.88" y1="486.2" x2="1869.88" y2="482.7" stroke="#000" stroke-width="2.2" stroke-linecap="butt"/>
<line x1="1882.71" y1="486.2" x2="1882.71" y2="482.7" stroke="#000" stroke-width="2.2" stroke-linecap="butt"/>
<line x1="1893.83" y1="486.2" x2="1893.83" y2="482.7" stroke="#000" stroke-width="2.2" stroke-linecap="butt"/>
<line x1="1903.63" y1="486.2" x2="1903.63" y2="482.7" stroke="#000" stroke-width="2.2" stroke-linecap="butt"/>
<line x1="1970.09" y1="486.2" x2="1970.09" y2="482.7" stroke="#000" stroke-width="2.2" stroke-linecap="butt"/>
<text x="1529.1" y="521.7" font-size="31.8" font-weight="bold" text-anchor="middle" fill="#000">0.1</text>
<text x="1720.75" y="521.7" font-size="31.8" font-weight="bold" text-anchor="middle" fill="#000">1</text>
<text x="1912.4" y="521.7" font-size="31.8" font-weight="bold" text-anchor="middle" fill="#000">10</text>
<line x1="2001" y1="456.9" x2="1994" y2="456.9" stroke="#0000ff" stroke-width="3" stroke-linecap="butt"/>
<text x="2012.8" y="465.9" font-size="31.8" font-weight="bold" text-anchor="start" fill="#0000ff">0.1</text>
<line x1="2001" y1="334.3" x2="1994" y2="334.3" stroke="#0000ff" stroke-width="3" stroke-linecap="butt"/>
<text x="2012.8" y="343.3" font-size="31.8" font-weight="bold" text-anchor="start" fill="#0000ff">0.2</text>
<line x1="2001" y1="211.7" x2="1994" y2="211.7" stroke="#0000ff" stroke-width="3" stroke-linecap="butt"/>
<text x="2012.8" y="220.7" font-size="31.8" font-weight="bold" text-anchor="start" fill="#0000ff">0.3</text>
<line x1="2001" y1="89.1" x2="1994" y2="89.1" stroke="#0000ff" stroke-width="3" stroke-linecap="butt"/>
<text x="2012.8" y="98.1" font-size="31.8" font-weight="bold" text-anchor="start" fill="#0000ff">0.4</text>
<line x1="2001" y1="395.6" x2="1997" y2="395.6" stroke="#0000ff" stroke-width="2.5" stroke-linecap="butt"/>
<line x1="2001" y1="273" x2="1997" y2="273" stroke="#0000ff" stroke-width="2.5" stroke-linecap="butt"/>
<line x1="2001" y1="150.4" x2="1997" y2="150.4" stroke="#0000ff" stroke-width="2.5" stroke-linecap="butt"/>
<text x="1592.7" y="557.7" font-size="31.9" font-weight="bold" text-anchor="start" fill="#000">Light intensity (mW/cm<tspan font-size="21.77" dy="-12.74">2</tspan><tspan dy="12.74">)</tspan></text>
<text transform="translate(1431.6,229.5) rotate(-90)" font-size="31.9" font-weight="bold" text-anchor="middle" fill="#000">I<tspan font-size="20" dy="8">ph</tspan><tspan dy="-8"> (A)</tspan></text>
<text transform="translate(2086.5,257.5) rotate(-90)" font-size="31.9" font-weight="bold" text-anchor="middle" fill="#0000ff">V<tspan font-size="20" dy="8">oc</tspan><tspan dy="-8"> (V)</tspan></text>
<line x1="1525.1" y1="62.5" x2="1561.5" y2="62.5" stroke="#bcbcbc" stroke-width="2.2" stroke-linecap="butt"/>
<text x="1566.4" y="67.6" font-size="26.3" font-weight="normal" text-anchor="start" fill="#000">I<tspan font-size="17.5" dy="7.5">SC</tspan><tspan dy="-7.5"> Fitting curve</tspan></text>
<circle cx="1543.3" cy="108.1" r="6.1" fill="#ffff00" stroke="#0000ff" stroke-width="4.2"/>
<text x="1566.4" y="113.2" font-size="26.3" font-weight="normal" text-anchor="start" fill="#000">I<tspan font-size="17.5" dy="7.5">SC</tspan><tspan dy="-7.5"> Experimental data</tspan></text>
<line x1="1526.1" y1="153.7" x2="1531.1" y2="153.7" stroke="#0000ff" stroke-width="3" stroke-linecap="butt"/>
<line x1="1555.5" y1="153.7" x2="1560.5" y2="153.7" stroke="#0000ff" stroke-width="3" stroke-linecap="butt"/>
<path d="M1543.3,145.3L1551.7,153.7L1543.3,162.1L1534.9,153.7Z" fill="#fff" stroke="#0000ff" stroke-width="3" stroke-linejoin="miter"/>
<text x="1565.4" y="158.8" font-size="26.3" font-weight="normal" text-anchor="start" fill="#000">V<tspan font-size="17.5" dy="7.5">OC</tspan><tspan dy="-7.5"></tspan></text>
<text x="1804.4" y="395.3" font-size="32.5" font-weight="bold" text-anchor="start" fill="#000">I<tspan font-size="22.7" dy="8.2">SC</tspan><tspan dy="-8.2"> ~ P</tspan><tspan font-size="22" dy="-13">0.87</tspan></text>
<text x="1397.7" y="35.2" font-size="50" font-weight="normal" text-anchor="start" fill="#000">(c)</text>
<rect x="577.5" y="603" width="23" height="39.77" fill="#ff0000"/>
<rect x="577.5" y="642.17" width="23" height="39.77" fill="#e80014"/>
<rect x="577.5" y="681.33" width="23" height="39.77" fill="#da001c"/>
<rect x="577.5" y="720.5" width="23" height="39.77" fill="#cc0024"/>
<rect x="577.5" y="759.67" width="23" height="39.77" fill="#b8002c"/>
<rect x="577.5" y="798.83" width="23" height="39.77" fill="#a50032"/>
<rect x="577.5" y="838" width="23" height="39.77" fill="#910032"/>
<rect x="577.5" y="877.17" width="23" height="39.77" fill="#7d002a"/>
<rect x="577.5" y="916.33" width="23" height="39.77" fill="#690022"/>
<rect x="577.5" y="955.5" width="23" height="39.77" fill="#580018"/>
<rect x="577.5" y="994.67" width="23" height="39.77" fill="#48000e"/>
<rect x="577.5" y="1033.83" width="23" height="39.77" fill="#380006"/>
<rect x="577.5" y="603" width="23" height="470" fill="none" stroke="#000" stroke-width="1.5"/>
<line x1="600.5" y1="622.58" x2="608" y2="622.58" stroke="#000" stroke-width="1.5" stroke-linecap="butt"/>
<text x="614.1" y="629.08" font-size="19.7" font-weight="normal" text-anchor="start" fill="#000">22.30</text>
<line x1="600.5" y1="661.75" x2="608" y2="661.75" stroke="#000" stroke-width="1.5" stroke-linecap="butt"/>
<text x="614.1" y="668.25" font-size="19.7" font-weight="normal" text-anchor="start" fill="#000">19.10</text>
<line x1="600.5" y1="700.92" x2="608" y2="700.92" stroke="#000" stroke-width="1.5" stroke-linecap="butt"/>
<text x="614.1" y="707.42" font-size="19.7" font-weight="normal" text-anchor="start" fill="#000">17.20</text>
<line x1="600.5" y1="740.08" x2="608" y2="740.08" stroke="#000" stroke-width="1.5" stroke-linecap="butt"/>
<text x="614.1" y="746.58" font-size="19.7" font-weight="normal" text-anchor="start" fill="#000">14.50</text>
<line x1="600.5" y1="779.25" x2="608" y2="779.25" stroke="#000" stroke-width="1.5" stroke-linecap="butt"/>
<text x="614.1" y="785.75" font-size="19.7" font-weight="normal" text-anchor="start" fill="#000">9.40</text>
<line x1="600.5" y1="818.42" x2="608" y2="818.42" stroke="#000" stroke-width="1.5" stroke-linecap="butt"/>
<text x="614.1" y="824.92" font-size="19.7" font-weight="normal" text-anchor="start" fill="#000">7.40</text>
<line x1="600.5" y1="857.58" x2="608" y2="857.58" stroke="#000" stroke-width="1.5" stroke-linecap="butt"/>
<text x="614.1" y="864.08" font-size="19.7" font-weight="normal" text-anchor="start" fill="#000">4.70</text>
<line x1="600.5" y1="896.75" x2="608" y2="896.75" stroke="#000" stroke-width="1.5" stroke-linecap="butt"/>
<text x="614.1" y="903.25" font-size="19.7" font-weight="normal" text-anchor="start" fill="#000">2.36</text>
<line x1="600.5" y1="935.92" x2="608" y2="935.92" stroke="#000" stroke-width="1.5" stroke-linecap="butt"/>
<text x="614.1" y="942.42" font-size="19.7" font-weight="normal" text-anchor="start" fill="#000">1.14</text>
<line x1="600.5" y1="975.08" x2="608" y2="975.08" stroke="#000" stroke-width="1.5" stroke-linecap="butt"/>
<text x="614.1" y="981.58" font-size="19.7" font-weight="normal" text-anchor="start" fill="#000">0.45</text>
<line x1="600.5" y1="1014.25" x2="608" y2="1014.25" stroke="#000" stroke-width="1.5" stroke-linecap="butt"/>
<text x="614.1" y="1020.75" font-size="19.7" font-weight="normal" text-anchor="start" fill="#000">0.08</text>
<line x1="600.5" y1="1053.42" x2="608" y2="1053.42" stroke="#000" stroke-width="1.5" stroke-linecap="butt"/>
<text x="614.1" y="1059.92" font-size="19.7" font-weight="normal" text-anchor="start" fill="#000">0</text>
<polyline points="107,801.18 110,801.26 113,801.34 116,801.42 119,801.5 122,801.58 125,801.67 128,801.75 131,801.84 134,801.93 137,802.02 140,802.11 143,802.21 146,802.31 149,802.41 152,802.51 155,802.61 158,802.72 161,802.83 164,802.94 167,803.06 170,803.18 173,803.3 176,803.43 179,803.57 182,803.71 185,803.85 188,804 191,804.16 194,804.32 197,804.49 200,804.67 203,804.85 206,805.05 209,805.25 212,805.47 215,805.69 218,805.93 221,806.18 224,806.44 227,806.72 230,807.02 233,807.33 236,807.66 239,808.01 242,808.38 245,808.77 248,809.18 251,809.63 254,810.1 257,810.6 260,811.13 263,811.7 266,812.3 269,812.94 272,813.63 275,814.36 278,815.15 281,815.98 284,816.87 287,817.82 290,818.84 293,819.93 296,821.1 299,822.34 302,823.68 303,824.14 304,824.62 305,825.1 306,825.6 307,826.11 308,826.63 309,827.16 310,827.71 311,828.27 312,828.84 313,829.42 314,830.02 315,830.63 316,831.26 317,831.9 318,832.55 319,833.22 320,833.91 321,834.61 322,835.33 323,836.07 324,836.82 325,837.59 326,838.38 327,839.18 328,840.01 329,840.85 330,841.72 331,842.6 332,843.51 333,844.44 334,845.38 335,846.35 336,847.35 337,848.37 338,849.41 339,850.47 340,851.56 341,852.68 342,853.82 343,855 344,856.19 345,857.42 346,858.67 347,859.96 348,861.27 349,862.62 350,864 351.1,864 351.7,857.62 352.3,851.38 352.9,845.23 353.5,839.27 354.1,833.59 354.7,828.26 355.3,823.19 355.9,818.32 356.5,813.64 357.1,809.14 357.7,804.81 358.3,800.62 358.9,796.53 359.5,792.59 360.1,788.9 360.7,785.52 361.3,782.44 361.9,779.48 362.5,776.72 363.1,774.2 363.7,771.98 364.3,770.09 364.9,768.35 365.5,766.73 366.1,765.21 366.7,763.78 367.3,762.44 367.9,761.16 368.5,759.94 369.1,758.76 369.7,757.62 370.3,756.51 370.9,755.4 371.5,754.31 372.1,753.24 375.1,748.18 378.1,743.59 381.1,739.41 384.1,735.59 387.1,732.08 390.1,728.83 393.1,725.81 396.1,722.97 399.1,720.24 402.1,717.59 405.1,715.01 408.1,712.52 411.1,710.11 414.1,707.76 417.1,705.47 420.1,703.22 423.1,701.01 426.1,698.84 429.1,696.68 432.1,694.54 435.1,692.4 438.1,690.28 441.1,688.18 444.1,686.12 447.1,684.08 450.1,682.06 453.1,680.07 456.1,678.09 459.1,676.13 462.1,674.18 465.1,672.25 468.1,670.31 471.1,668.38 474.1,666.45 477.1,664.52 480.1,662.6 483.1,660.69 486.1,658.8 489.1,656.93 492.1,655.09 495.1,653.29 498.1,651.52 501.1,649.8 504.1,648.12 507.1,646.49 510.1,644.88 513.1,643.3 516.1,641.74 519.1,640.21 522.1,638.71 525.1,637.23 528.1,635.78 531.1,634.34 534.1,632.92 537.1,631.52 540.1,630.15 543.1,628.81 546.1,627.49 549.1,626.19 552.1,624.91 555.1,623.65 558.1,622.39 561.1,621.14 564.1,619.89 567.1,618.64 570.1,617.38 573.1,616.11" fill="none" stroke="#ff0000" stroke-width="4" stroke-linejoin="round" stroke-linecap="round"/>
<polyline points="107,803.69 110,803.77 113,803.86 116,803.95 119,804.04 122,804.13 125,804.22 128,804.31 131,804.41 134,804.51 137,804.6 140,804.7 143,804.81 146,804.91 149,805.02 152,805.13 155,805.24 158,805.36 161,805.48 164,805.6 167,805.73 170,805.86 173,805.99 176,806.13 179,806.27 182,806.42 185,806.58 188,806.74 191,806.91 194,807.08 197,807.26 200,807.45 203,807.65 206,807.86 209,808.08 212,808.31 215,808.55 218,808.81 221,809.08 224,809.36 227,809.66 230,809.97 233,810.3 236,810.65 239,811.03 242,811.42 245,811.84 248,812.28 251,812.76 254,813.26 257,813.79 260,814.36 263,814.96 266,815.61 269,816.29 272,817.02 275,817.8 278,818.64 281,819.52 284,820.47 287,821.49 290,822.57 293,823.73 296,824.97 299,826.3 302,827.72 303,828.21 304,828.72 305,829.23 306,829.76 307,830.31 308,830.86 309,831.43 310,832.01 311,832.6 312,833.21 313,833.83 314,834.46 315,835.11 316,835.78 317,836.46 318,837.16 319,837.87 320,838.6 321,839.35 322,840.11 323,840.89 324,841.69 325,842.51 326,843.35 327,844.21 328,845.08 329,845.98 330,846.9 331,847.84 332,848.81 333,849.79 334,850.8 335,851.83 336,852.89 337,853.97 338,855.08 339,856.21 340,857.37 341,858.56 342,859.77 343,861.02 344,862.29 345,863.59 346,864.93 347,866.3 348,867.69 349,869.12 349.6,870 350.8,870 351.4,863.86 352,857.62 352.6,851.39 353.2,845.27 353.8,839.33 354.4,833.67 355,828.37 355.6,823.32 356.2,818.47 356.8,813.81 357.4,809.33 358,805.02 358.6,800.86 359.2,796.78 359.8,792.87 360.39,789.2 360.97,785.85 361.55,782.79 362.13,779.86 362.71,777.11 363.29,774.61 363.88,772.42 364.47,770.55 365.06,768.83 365.64,767.23 366.23,765.74 366.83,764.33 367.42,763.01 368.01,761.75 368.6,760.56 369.19,759.4 369.78,758.29 370.38,757.19 370.97,756.11 371.56,755.04 372.15,753.99 375.12,749.05 378.1,744.57 381.1,740.5 384.1,736.79 387.1,733.39 390.1,730.26 393.1,727.31 396.1,724.47 399.1,721.74 402.1,719.09 405.1,716.51 408.1,714.02 411.1,711.61 414.1,709.26 417.1,706.97 420.1,704.72 423.1,702.53 426.1,700.36 429.1,698.22 432.1,696.09 435.1,693.96 438.1,691.85 441.1,689.77 444.1,687.71 447.1,685.69 450.1,683.68 453.1,681.7 456.1,679.74 459.1,677.79 462.1,675.85 465.1,673.93 468.1,672.01 471.1,670.09 474.1,668.17 477.1,666.25 480.1,664.34 483.1,662.44 486.1,660.56 489.1,658.71 492.1,656.88 495.1,655.09 498.1,653.33 501.1,651.62 504.1,649.96 507.1,648.33 510.1,646.74 513.1,645.17 516.1,643.63 519.1,642.11 522.1,640.62 525.1,639.15 528.1,637.71 531.1,636.28 534.1,634.88 537.1,633.49 540.1,632.13 543.1,630.8 546.1,629.49 549.1,628.21 552.1,626.94 555.1,625.69 558.1,624.44 561.1,623.21 564.1,621.97 567.1,620.73 570.1,619.48 573.1,618.22" fill="none" stroke="#e80014" stroke-width="4" stroke-linejoin="round" stroke-linecap="round"/>
<polyline points="107,805.7 110,805.79 113,805.89 116,805.98 119,806.08 122,806.18 125,806.28 128,806.38 131,806.48 134,806.58 137,806.69 140,806.8 143,806.91 146,807.02 149,807.14 152,807.26 155,807.38 158,807.5 161,807.63 164,807.76 167,807.9 170,808.04 173,808.18 176,808.33 179,808.49 182,808.65 185,808.82 188,808.99 191,809.17 194,809.36 197,809.55 200,809.76 203,809.97 206,810.2 209,810.43 212,810.68 215,810.94 218,811.21 221,811.5 224,811.8 227,812.12 230,812.46 233,812.81 236,813.19 239,813.59 242,814.01 245,814.46 248,814.94 251,815.44 254,815.98 257,816.55 260,817.16 263,817.8 266,818.49 269,819.22 272,820.01 275,820.84 278,821.73 281,822.68 284,823.7 287,824.78 290,825.94 293,827.18 296,828.5 299,829.92 302,831.44 303,831.97 304,832.51 305,833.06 306,833.63 307,834.21 308,834.8 309,835.41 310,836.03 311,836.66 312,837.31 313,837.97 314,838.65 315,839.35 316,840.06 317,840.79 318,841.53 319,842.29 320,843.07 321,843.87 322,844.69 323,845.52 324,846.38 325,847.25 326,848.15 327,849.06 328,850 329,850.96 330,851.94 331,852.95 332,853.98 333,855.03 334,856.11 335,857.21 336,858.34 337,859.5 338,860.68 339,861.89 340,863.13 341,864.4 342,865.7 343,867.03 344,868.39 345,869.78 346,871.21 347,872.67 348,874.16 349,875.69 349.2,876 350.6,876 351.2,868.99 351.8,862.82 352.4,856.58 353,850.37 353.6,844.29 354.2,838.4 354.8,832.81 355.4,827.58 356,822.58 356.6,817.78 357.2,813.17 357.8,808.73 358.4,804.46 359,800.33 359.6,796.29 360.2,792.43 360.78,788.82 361.33,785.55 361.89,782.52 362.45,779.63 363.02,776.94 363.58,774.5 364.16,772.38 364.73,770.56 365.31,768.88 365.89,767.32 366.47,765.85 367.05,764.48 367.63,763.18 368.21,761.95 368.8,760.78 369.38,759.65 369.97,758.55 370.55,757.47 371.14,756.4 371.72,755.35 372.31,754.32 375.24,749.47 378.2,745.08 381.2,741.1 384.2,737.48 387.2,734.16 390.2,731.12 393.2,728.22 396.2,725.37 399.2,722.65 402.2,720 405.2,717.43 408.2,714.94 411.2,712.53 414.2,710.18 417.2,707.89 420.2,705.65 423.2,703.46 426.2,701.31 429.2,699.17 432.2,697.05 435.2,694.93 438.2,692.83 441.2,690.75 444.2,688.71 447.2,686.69 450.2,684.7 453.2,682.72 456.2,680.77 459.2,678.83 462.2,676.9 465.2,674.98 468.2,673.07 471.2,671.16 474.2,669.25 477.2,667.34 480.2,665.44 483.2,663.55 486.2,661.68 489.2,659.83 492.2,658.01 495.2,656.23 498.2,654.48 501.2,652.78 504.2,651.13 507.2,649.51 510.2,647.92 513.2,646.36 516.2,644.83 519.2,643.33 522.2,641.84 525.2,640.39 528.2,638.95 531.2,637.53 534.2,636.14 537.2,634.76 540.2,633.41 543.2,632.08 546.2,630.79 549.2,629.51 552.2,628.25 555.2,627.01 558.2,625.77 561.2,624.54 564.2,623.31 567.2,622.08 570.2,620.84 573.2,619.59" fill="none" stroke="#da001c" stroke-width="4" stroke-linejoin="round" stroke-linecap="round"/>
<polyline points="107,810.38 110,810.48 113,810.58 116,810.68 119,810.78 122,810.89 125,810.99 128,811.1 131,811.2 134,811.31 137,811.42 140,811.54 143,811.65 146,811.77 149,811.89 152,812.01 155,812.14 158,812.27 161,812.4 164,812.54 167,812.68 170,812.82 173,812.97 176,813.13 179,813.29 182,813.45 185,813.62 188,813.8 191,813.99 194,814.18 197,814.38 200,814.59 203,814.81 206,815.04 209,815.28 212,815.54 215,815.8 218,816.08 221,816.38 224,816.69 227,817.01 230,817.36 233,817.73 236,818.11 239,818.52 242,818.96 245,819.42 248,819.91 251,820.43 254,820.99 257,821.58 260,822.21 263,822.88 266,823.59 269,824.36 272,825.17 275,826.04 278,826.97 281,827.96 284,829.02 287,830.16 290,831.38 293,832.68 296,834.08 299,835.57 302,837.17 303,837.73 304,838.3 305,838.89 306,839.49 307,840.1 308,840.73 309,841.37 310,842.03 311,842.71 312,843.39 313,844.1 314,844.82 315,845.56 316,846.32 317,847.1 318,847.89 319,848.7 320,849.53 321,850.39 322,851.26 323,852.15 324,853.07 325,854 326,854.96 327,855.94 328,856.95 329,857.98 330,859.03 331,860.11 332,861.22 333,862.35 334,863.51 335,864.69 336,865.91 337,867.16 338,868.43 339,869.74 340,871.07 341,872.44 342,873.85 343,875.28 344,876.76 345,878.26 346,879.81 347,881.39 348,883.01 348.6,884 350.1,884 350.7,877.16 351.3,871.01 351.9,864.89 352.5,858.66 353.1,852.43 353.7,846.32 354.3,840.37 354.9,834.69 355.5,829.36 356.1,824.3 356.7,819.45 357.3,814.79 357.9,810.32 358.5,806.01 359.1,801.85 359.7,797.79 360.3,793.88 360.89,790.19 361.42,786.81 361.96,783.75 362.5,780.82 363.04,778.07 363.59,775.56 364.15,773.34 364.71,771.45 365.27,769.75 365.84,768.16 366.41,766.68 366.98,765.29 367.55,763.99 368.13,762.75 368.7,761.57 369.28,760.44 369.86,759.35 370.43,758.28 371.01,757.23 371.59,756.19 372.17,755.16 375.07,750.35 378,746.01 381,742.08 384,738.51 387,735.25 390,732.26 393,729.41 396,726.56 399,723.83 402,721.17 405,718.6 408,716.1 411,713.69 414,711.34 417,709.04 420,706.79 423,704.62 426,702.47 429,700.34 432,698.22 435,696.11 438,694.01 441,691.95 444,689.91 447,687.9 450,685.91 453,683.94 456,681.99 459,680.06 462,678.14 465,676.23 468,674.33 471,672.43 474,670.52 477,668.62 480,666.72 483,664.84 486,662.98 489,661.14 492,659.32 495,657.54 498,655.81 501,654.11 504,652.46 507,650.85 510,649.27 513,647.72 516,646.19 519,644.69 522,643.21 525,641.76 528,640.33 531,638.92 534,637.53 537,636.16 540,634.81 543,633.5 546,632.21 549,630.94 552,629.69 555,628.45 558,627.22 561,626 564,624.78 567,623.55 570,622.32 573,621.08" fill="none" stroke="#cc0024" stroke-width="4" stroke-linejoin="round" stroke-linecap="round"/>
<polyline points="107,815.77 110,815.88 113,815.98 116,816.09 119,816.2 122,816.31 125,816.42 128,816.54 131,816.65 134,816.77 137,816.89 140,817.01 143,817.13 146,817.26 149,817.39 152,817.52 155,817.65 158,817.79 161,817.93 164,818.07 167,818.22 170,818.37 173,818.53 176,818.69 179,818.86 182,819.03 185,819.21 188,819.4 191,819.59 194,819.79 197,820 200,820.22 203,820.45 206,820.69 209,820.94 212,821.2 215,821.48 218,821.77 221,822.07 224,822.39 227,822.73 230,823.09 233,823.47 236,823.87 239,824.3 242,824.75 245,825.23 248,825.74 251,826.28 254,826.86 257,827.48 260,828.13 263,828.83 266,829.58 269,830.37 272,831.23 275,832.14 278,833.11 281,834.16 284,835.28 287,836.48 290,837.76 293,839.14 296,840.61 299,842.2 302,843.9 303,844.49 304,845.1 305,845.73 306,846.36 307,847.02 308,847.69 309,848.37 310,849.08 311,849.79 312,850.53 313,851.29 314,852.06 315,852.85 316,853.66 317,854.49 318,855.34 319,856.21 320,857.11 321,858.02 322,858.96 323,859.92 324,860.9 325,861.91 326,862.94 327,864 328,865.08 329,866.19 330,867.33 331,868.49 332,869.69 333,870.91 334,872.17 335,873.45 336,874.77 337,876.12 338,877.5 339,878.92 340,880.37 341,881.86 342,883.38 343,884.94 344,886.54 345,888.19 346,889.87 347,891.59 347.8,893 349.5,893 350.1,886.54 350.7,880.28 351.3,874.07 351.9,867.97 352.5,861.78 353.1,855.53 353.7,849.37 354.3,843.34 354.9,837.53 355.5,832.03 356.1,826.88 356.7,821.94 357.3,817.2 357.9,812.65 358.5,808.27 359.1,804.06 359.7,799.97 360.3,795.99 360.9,792.2 361.44,788.67 361.95,785.48 362.47,782.5 362.99,779.68 363.52,777.05 364.06,774.69 364.6,772.65 365.15,770.9 365.71,769.27 366.27,767.75 366.83,766.33 367.39,765 367.95,763.75 368.52,762.56 369.09,761.42 369.66,760.33 370.23,759.26 370.8,758.22 371.37,757.18 371.94,756.16 372.51,755.17 375.38,750.48 378.3,746.25 381.3,742.44 384.3,738.98 387.3,735.82 390.3,732.94 393.3,730.12 396.3,727.28 399.3,724.56 402.3,721.91 405.3,719.34 408.3,716.86 411.3,714.45 414.3,712.1 417.3,709.81 420.3,707.58 423.3,705.41 426.3,703.27 429.3,701.15 432.3,699.05 435.3,696.94 438.3,694.85 441.3,692.8 444.3,690.77 447.3,688.77 450.3,686.79 453.3,684.84 456.3,682.9 459.3,680.97 462.3,679.06 465.3,677.16 468.3,675.27 471.3,673.37 474.3,671.48 477.3,669.58 480.3,667.7 483.3,665.82 486.3,663.97 489.3,662.14 492.3,660.34 495.3,658.57 498.3,656.84 501.3,655.16 504.3,653.53 507.3,651.92 510.3,650.35 513.3,648.81 516.3,647.3 519.3,645.81 522.3,644.34 525.3,642.9 528.3,641.48 531.3,640.08 534.3,638.7 537.3,637.34 540.3,636 543.3,634.7 546.3,633.42 549.3,632.16 552.3,630.92 555.3,629.69 558.3,628.47 561.3,627.25 564.3,626.04 567.3,624.82 570.3,623.6 573.3,622.37" fill="none" stroke="#b8002c" stroke-width="4" stroke-linejoin="round" stroke-linecap="round"/>
<polyline points="107,821.95 110,822.07 113,822.19 116,822.31 119,822.43 122,822.55 125,822.68 128,822.8 131,822.93 134,823.05 137,823.18 140,823.32 143,823.45 146,823.59 149,823.72 152,823.87 155,824.01 158,824.16 161,824.31 164,824.46 167,824.62 170,824.78 173,824.95 176,825.12 179,825.3 182,825.48 185,825.67 188,825.87 191,826.07 194,826.28 197,826.51 200,826.73 203,826.97 206,827.22 209,827.49 212,827.76 215,828.05 218,828.35 221,828.67 224,829 227,829.36 230,829.73 233,830.12 236,830.54 239,830.99 242,831.46 245,831.95 248,832.49 251,833.05 254,833.65 257,834.29 260,834.98 263,835.71 266,836.49 269,837.32 272,838.22 275,839.17 278,840.19 281,841.29 284,842.47 287,843.73 290,845.09 293,846.54 296,848.1 299,849.78 302,851.59 303,852.22 304,852.87 305,853.53 306,854.21 307,854.9 308,855.62 309,856.35 310,857.1 311,857.86 312,858.65 313,859.45 314,860.28 315,861.13 316,861.99 317,862.88 318,863.79 319,864.73 320,865.69 321,866.67 322,867.67 323,868.7 324,869.76 325,870.84 326,871.95 327,873.09 328,874.26 329,875.46 330,876.68 331,877.94 332,879.23 333,880.55 334,881.91 335,883.3 336,884.72 337,886.18 338,887.68 339,889.22 340,890.79 341,892.41 342,894.07 343,895.76 344,897.5 345,899.29 346,901.12 347,903 348.9,903 349.5,895.94 350.1,889.68 350.7,883.4 351.3,877.16 351.9,871.01 352.5,864.89 353.1,858.66 353.7,852.44 354.3,846.36 354.9,840.44 355.5,834.79 356.1,829.49 356.7,824.46 357.3,819.64 357.9,815.01 358.5,810.57 359.1,806.29 359.7,802.16 360.3,798.13 360.9,794.25 361.48,790.59 361.97,787.24 362.46,784.21 362.97,781.31 363.47,778.59 363.99,776.11 364.51,773.92 365.05,772.06 365.59,770.39 366.13,768.83 366.68,767.38 367.23,766.02 367.79,764.75 368.35,763.54 368.9,762.39 369.47,761.29 370.03,760.23 370.59,759.19 371.15,758.17 371.72,757.16 372.28,756.16 375.11,751.5 378,747.31 381,743.53 384,740.11 387,737 390,734.16 393,731.41 396,728.56 399,725.83 402,723.17 405,720.6 408,718.1 411,715.69 414,713.34 417,711.04 420,708.79 423,706.63 426,704.5 429,702.39 432,700.29 435,698.19 438,696.11 441,694.06 444,692.04 447,690.04 450,688.07 453,686.12 456,684.19 459,682.27 462,680.36 465,678.47 468,676.58 471,674.7 474,672.81 477,670.92 480,669.04 483,667.18 486,665.33 489,663.5 492,661.71 495,659.94 498,658.22 501,656.54 504,654.91 507,653.32 510,651.75 513,650.21 516,648.7 519,647.22 522,645.76 525,644.32 528,642.91 531,641.51 534,640.14 537,638.78 540,637.45 543,636.16 546,634.88 549,633.63 552,632.39 555,631.17 558,629.96 561,628.75 564,627.54 567,626.34 570,625.12 573,623.9" fill="none" stroke="#a50032" stroke-width="4" stroke-linejoin="round" stroke-linecap="round"/>
<polyline points="107,832.44 110,832.57 113,832.7 116,832.83 119,832.97 122,833.1 125,833.24 128,833.38 131,833.52 134,833.66 137,833.8 140,833.94 143,834.09 146,834.24 149,834.39 152,834.54 155,834.7 158,834.86 161,835.02 164,835.19 167,835.36 170,835.53 173,835.71 176,835.89 179,836.08 182,836.28 185,836.48 188,836.68 191,836.9 194,837.12 197,837.35 200,837.59 203,837.84 206,838.1 209,838.37 212,838.65 215,838.95 218,839.26 221,839.59 224,839.93 227,840.29 230,840.67 233,841.08 236,841.51 239,841.96 242,842.44 245,842.95 248,843.49 251,844.06 254,844.68 257,845.33 260,846.03 263,846.77 266,847.57 269,848.42 272,849.33 275,850.31 278,851.36 281,852.48 284,853.69 287,854.98 290,856.37 293,857.87 296,859.48 299,861.21 302,863.08 303,863.73 304,864.4 305,865.08 306,865.79 307,866.51 308,867.25 309,868 310,868.78 311,869.58 312,870.39 313,871.23 314,872.09 315,872.97 316,873.87 317,874.8 318,875.75 319,876.72 320,877.72 321,878.74 322,879.79 323,880.87 324,881.97 325,883.11 326,884.27 327,885.46 328,886.68 329,887.94 330,889.23 331,890.55 332,891.9 333,893.29 334,894.71 335,896.18 336,897.68 337,899.22 338,900.79 339,902.41 340,904.08 341,905.78 342,907.53 343,909.33 344,911.17 345,913.06 346,915 348,915 348.6,908.19 349.2,902.13 349.8,895.94 350.4,889.68 351,883.4 351.6,877.16 352.2,871.01 352.8,864.89 353.4,858.66 354,852.45 354.6,846.38 355.2,840.48 355.8,834.84 356.4,829.55 357,824.54 357.6,819.74 358.2,815.12 358.8,810.69 359.4,806.43 360,802.32 360.6,798.3 361.2,794.44 361.78,790.79 362.24,787.46 362.72,784.44 363.2,781.56 363.69,778.85 364.18,776.39 364.69,774.21 365.22,772.37 365.75,770.71 366.28,769.17 366.82,767.73 367.36,766.39 367.91,765.13 368.45,763.93 369.01,762.8 369.56,761.72 370.11,760.67 370.67,759.65 371.22,758.64 371.78,757.64 372.34,756.66 375.13,752.08 378,747.96 381,744.25 384,740.91 387,737.88 390,735.11 393,732.41 396,729.56 399,726.83 402,724.17 405,721.6 408,719.1 411,716.69 414,714.34 417,712.04 420,709.79 423,707.64 426,705.51 429,703.41 432,701.32 435,699.23 438,697.16 441,695.12 444,693.1 447,691.11 450,689.15 453,687.21 456,685.28 459,683.37 462,681.48 465,679.59 468,677.71 471,675.83 474,673.95 477,672.07 480,670.2 483,668.35 486,666.51 489,664.69 492,662.9 495,661.14 498,659.43 501,657.76 504,656.14 507,654.55 510,652.99 513,651.46 516,649.96 519,648.48 522,647.03 525,645.6 528,644.2 531,642.81 534,641.44 537,640.1 540,638.77 543,637.48 546,636.22 549,634.97 552,633.74 555,632.53 558,631.33 561,630.13 564,628.93 567,627.73 570,626.52 573,625.31" fill="none" stroke="#910032" stroke-width="4" stroke-linejoin="round" stroke-linecap="round"/>
<polyline points="107.2,848.7 109.46,848.86 112.51,849.09 116.16,849.36 120.2,849.63 124.45,849.89 128.7,850.1 133.28,850.27 138.42,850.44 143.76,850.58 148.94,850.7 153.61,850.77 157.4,850.8 160.18,850.71 162.2,850.51 163.71,850.27 164.93,850.07 166.12,849.98 167.5,850.1 168.94,850.53 170.21,851.22 171.44,852.04 172.76,852.82 174.27,853.43 176.1,853.7 178.4,853.53 181.1,853.03 184,852.34 186.9,851.63 189.6,851.06 191.9,850.8 193.52,850.86 194.56,851.1 195.39,851.49 196.41,851.97 197.99,852.49 200.5,853 204.33,853.57 209.24,854.26 214.71,854.99 220.21,855.68 225.22,856.24 229.2,856.6 231.98,856.67 233.96,856.51 235.44,856.23 236.74,855.93 238.15,855.72 240,855.7 242.28,855.89 244.74,856.2 247.32,856.6 249.97,857.06 252.62,857.53 255.2,858 257.73,858.45 260.27,858.92 262.8,859.41 265.33,859.93 267.87,860.49 270.4,861.1 272.93,861.73 275.47,862.38 278,863.07 280.53,863.82 283.07,864.65 285.6,865.6 288.2,866.74 290.89,868.07 293.58,869.49 296.18,870.89 298.61,872.16 300.8,873.2 302.68,873.93 304.31,874.4 305.78,874.75 307.16,875.1 308.54,875.58 310,876.3 311.49,877.31 312.93,878.5 314.36,879.82 315.84,881.2 317.41,882.58 319.1,883.9 320.99,885.13 323.05,886.32 325.2,887.51 327.35,888.74 329.41,890.06 331.3,891.5 333.05,893.07 334.73,894.75 336.33,896.51 337.82,898.34 339.19,900.21 340.4,902.1 341.45,904.06 342.36,906.1 343.13,908.19 343.8,910.29 344.38,912.33 344.9,914.3 345.33,916.29 345.65,918.37 345.88,920.41 346.05,922.28 346.18,923.85 346.3,925 347.2,925 347.8,918.83 348.4,913.12 349,907.19 349.6,901.1 350.2,894.9 350.8,888.63 351.4,882.36 352,876.13 352.6,870 353.2,863.86 353.8,857.62 354.4,851.44 355,845.4 355.6,839.55 356.2,833.98 356.8,828.77 357.4,823.81 358,819.05 358.6,814.49 359.2,810.1 359.8,805.88 360.4,801.8 361,797.82 361.6,794 362.15,790.42 362.59,787.16 363.05,784.18 363.51,781.34 363.98,778.69 364.46,776.28 364.96,774.17 365.47,772.39 365.99,770.77 366.51,769.26 367.04,767.85 367.58,766.54 368.11,765.31 368.65,764.14 369.2,763.03 369.74,761.97 370.29,760.94 370.84,759.94 371.39,758.94 371.93,757.96 372.48,757 375.25,752.51 378.1,748.48 381.1,744.86 384.1,741.6 387.1,738.66 390.1,735.98 393.1,733.31 396.1,730.47 399.1,727.74 402.1,725.09 405.1,722.51 408.1,720.02 411.1,717.61 414.1,715.26 417.1,712.97 420.1,710.72 423.1,708.58 426.1,706.46 429.1,704.37 432.1,702.28 435.1,700.2 438.1,698.14 441.1,696.1 444.1,694.1 447.1,692.12 450.1,690.17 453.1,688.23 456.1,686.32 459.1,684.41 462.1,682.53 465.1,680.65 468.1,678.78 471.1,676.91 474.1,675.03 477.1,673.16 480.1,671.3 483.1,669.45 486.1,667.62 489.1,665.81 492.1,664.03 495.1,662.29 498.1,660.58 501.1,658.92 504.1,657.31 507.1,655.73 510.1,654.18 513.1,652.66 516.1,651.16 519.1,649.7 522.1,648.25 525.1,646.84 528.1,645.44 531.1,644.06 534.1,642.7 537.1,641.36 540.1,640.05 543.1,638.77 546.1,637.51 549.1,636.27 552.1,635.06 555.1,633.85 558.1,632.65 561.1,631.46 564.1,630.27 567.1,629.08 570.1,627.88 573.1,626.67" fill="none" stroke="#7d002a" stroke-width="4" stroke-linejoin="round" stroke-linecap="round"/>
<polyline points="107,862.3 107.64,862.27 108.53,862.19 109.59,862.12 110.72,862.09 111.85,862.13 112.9,862.3 113.77,862.65 114.53,863.16 115.28,863.75 116.14,864.34 117.24,864.85 118.7,865.2 120.64,865.26 122.99,865.07 125.58,864.8 128.23,864.62 130.76,864.7 133,865.2 134.96,866.41 136.79,868.25 138.5,870.34 140.11,872.33 141.64,873.84 143.1,874.5 144.37,874.08 145.42,872.82 146.38,871.09 147.4,869.23 148.63,867.62 150.2,866.6 152.16,866.19 154.41,866.11 156.86,866.27 159.43,866.59 162.03,866.96 164.6,867.3 167.22,867.74 169.98,868.37 172.77,869.06 175.51,869.69 178.09,870.11 180.4,870.2 182.32,869.79 183.89,868.96 185.31,867.92 186.74,866.91 188.38,866.16 190.4,865.9 192.9,866.27 195.74,867.11 198.78,868.22 201.89,869.36 204.91,870.33 207.7,870.9 210.26,870.98 212.69,870.72 215.03,870.29 217.34,869.83 219.65,869.52 222,869.5 224.47,869.86 227.04,870.49 229.62,871.25 232.1,872.03 234.39,872.69 236.4,873.1 238.05,873.22 239.41,873.13 240.59,872.93 241.67,872.7 242.78,872.53 244,872.5 245.3,872.6 246.6,872.76 247.91,872.98 249.27,873.25 250.69,873.59 252.2,874 253.85,874.55 255.61,875.27 257.44,876.04 259.29,876.79 261.09,877.41 262.8,877.8 264.44,877.87 266.06,877.67 267.63,877.35 269.14,877.04 270.57,876.87 271.9,877 273.07,877.5 274.1,878.27 275.04,879.2 275.97,880.15 276.93,880.99 278,881.6 279.18,881.93 280.42,882.07 281.71,882.1 283.01,882.11 284.32,882.18 285.6,882.4 286.87,882.75 288.13,883.18 289.4,883.66 290.67,884.2 291.93,884.78 293.2,885.4 294.47,886.19 295.73,887.19 297,888.22 298.27,889.15 299.53,889.79 300.8,890 302.1,889.55 303.44,888.54 304.79,887.25 306.09,885.97 307.31,884.99 308.4,884.6 309.36,884.85 310.21,885.52 310.99,886.49 311.7,887.64 312.36,888.85 313,890 313.54,891.16 313.94,892.43 314.31,893.76 314.71,895.1 315.25,896.39 316,897.6 317.05,898.65 318.34,899.58 319.76,900.46 321.2,901.39 322.55,902.44 323.7,903.7 324.62,905.29 325.38,907.18 326.05,909.19 326.7,911.16 327.39,912.92 328.2,914.3 329.14,915.2 330.17,915.75 331.24,916.08 332.32,916.35 333.35,916.71 334.3,917.3 335.15,918.07 335.95,918.88 336.7,919.77 337.43,920.8 338.16,921.99 338.9,923.4 339.71,925.22 340.57,927.47 341.44,929.88 342.24,932.21 342.91,934.2 343.4,935.6 346.3,935.6 346.9,929.72 347.5,924.35 348.1,918.83 348.7,913.12 349.3,907.19 349.9,901.1 350.5,894.9 351.1,888.63 351.7,882.36 352.3,876.13 352.9,870 353.5,863.86 354.1,857.62 354.7,851.44 355.3,845.42 355.9,839.59 356.5,834.03 357.1,828.84 357.7,823.89 358.3,819.15 358.9,814.6 359.5,810.22 360.1,806.02 360.7,801.96 361.3,797.99 361.9,794.18 362.44,790.62 362.86,787.37 363.3,784.41 363.74,781.59 364.19,778.95 364.66,776.56 365.14,774.46 365.64,772.7 366.15,771.09 366.66,769.6 367.18,768.21 367.7,766.91 368.23,765.69 368.76,764.54 369.3,763.44 369.83,762.4 370.37,761.38 370.91,760.39 371.45,759.42 372,758.45 372.54,757.51 375.27,753.09 378.1,749.13 381.1,745.59 384.1,742.41 387.1,739.53 390.1,736.93 393.1,734.31 396.1,731.47 399.1,728.74 402.1,726.09 405.1,723.51 408.1,721.02 411.1,718.61 414.1,716.26 417.1,713.97 420.1,711.72 423.1,709.58 426.1,707.48 429.1,705.39 432.1,703.31 435.1,701.24 438.1,699.19 441.1,697.16 444.1,695.16 447.1,693.19 450.1,691.25 453.1,689.32 456.1,687.41 459.1,685.52 462.1,683.64 465.1,681.77 468.1,679.9 471.1,678.04 474.1,676.18 477.1,674.32 480.1,672.46 483.1,670.62 486.1,668.8 489.1,667 492.1,665.22 495.1,663.49 498.1,661.79 501.1,660.14 504.1,658.53 507.1,656.96 510.1,655.42 513.1,653.91 516.1,652.42 519.1,650.96 522.1,649.53 525.1,648.12 528.1,646.73 531.1,645.36 534.1,644.01 537.1,642.68 540.1,641.37 543.1,640.1 546.1,638.85 549.1,637.62 552.1,636.41 555.1,635.21 558.1,634.02 561.1,632.84 564.1,631.66 567.1,630.47 570.1,629.28 573.1,628.08" fill="none" stroke="#690022" stroke-width="4" stroke-linejoin="round" stroke-linecap="round"/>
<polyline points="107,891 108.53,890.6 110.6,889.98 113.08,889.28 115.82,888.64 118.67,888.2 121.5,888.1 124.46,888.48 127.69,889.26 131.04,890.24 134.34,891.23 137.45,892.01 140.2,892.4 142.58,892.27 144.73,891.76 146.68,891.04 148.46,890.32 150.12,889.78 151.7,889.6 153.14,889.74 154.39,890.04 155.52,890.51 156.59,891.19 157.66,892.07 158.8,893.2 160.01,894.88 161.24,897.16 162.48,899.66 163.7,901.99 164.88,903.77 166,904.6 167.02,904.26 167.93,903 168.81,901.19 169.71,899.18 170.69,897.33 171.8,896 173.07,895.03 174.46,894.11 175.93,893.35 177.43,892.87 178.93,892.78 180.4,893.2 181.87,894.5 183.37,896.66 184.88,899.22 186.35,901.7 187.73,903.65 189,904.6 190.03,904.3 190.84,903.07 191.57,901.31 192.37,899.4 193.36,897.74 194.7,896.7 196.5,896.4 198.66,896.54 201.02,896.93 203.42,897.35 205.7,897.61 207.7,897.5 209.37,896.86 210.84,895.81 212.19,894.59 213.49,893.46 214.84,892.65 216.3,892.4 217.87,892.88 219.47,893.92 221.12,895.29 222.8,896.73 224.53,898.02 226.3,898.9 228.22,899.43 230.31,899.8 232.44,900.01 234.49,900.05 236.32,899.92 237.8,899.6 238.86,898.99 239.58,898.06 240.08,896.96 240.49,895.82 240.92,894.79 241.5,894 242.16,893.38 242.8,892.8 243.46,892.32 244.2,892.01 245.06,891.95 246.1,892.2 247.32,892.86 248.69,893.89 250.17,895.16 251.77,896.54 253.45,897.9 255.2,899.1 257.09,900.07 259.15,900.89 261.3,901.68 263.45,902.58 265.51,903.71 267.4,905.2 269.11,907.38 270.72,910.23 272.24,913.3 273.69,916.17 275.11,918.42 276.5,919.6 277.84,919.4 279.09,918.1 280.3,916.16 281.51,914.07 282.76,912.29 284.1,911.3 285.55,911.12 287.08,911.38 288.65,911.95 290.22,912.71 291.75,913.54 293.2,914.3 294.57,915.2 295.9,916.37 297.19,917.61 298.43,918.7 299.64,919.44 300.8,919.6 301.87,918.67 302.83,916.73 303.76,914.42 304.7,912.42 305.73,911.39 306.9,912 308.26,914.97 309.76,919.92 311.35,925.84 312.96,931.73 314.53,936.59 316,939.4 317.38,939.81 318.73,938.55 320.04,936.26 321.31,933.56 322.53,931.1 323.7,929.5 324.81,928.87 325.88,928.72 326.89,928.8 327.87,928.87 328.8,928.69 329.7,928 330.55,926.54 331.34,924.44 332.09,922.08 332.82,919.85 333.55,918.13 334.3,917.3 335.07,917.48 335.84,918.39 336.61,919.81 337.37,921.52 338.14,923.29 338.9,924.9 339.71,926.53 340.57,928.4 341.44,930.33 342.24,932.15 342.91,933.7 343.4,934.8 346.7,934.8 347.3,928.83 347.9,923.44 348.5,917.89 349.1,912.14 349.7,906.19 350.3,900.08 350.9,893.86 351.5,887.59 352.1,881.32 352.7,875.1 353.3,868.99 353.9,862.82 354.5,856.58 355.1,850.44 355.7,844.45 356.3,838.66 356.9,833.17 357.5,828.03 358.1,823.13 358.7,818.43 359.3,813.91 359.9,809.58 360.5,805.4 361.1,801.37 361.7,797.43 362.3,793.67 362.8,790.16 363.2,786.98 363.62,784.05 364.04,781.26 364.48,778.66 364.93,776.32 365.4,774.3 365.89,772.58 366.38,771 366.89,769.53 367.4,768.16 367.91,766.88 368.43,765.68 368.96,764.55 369.48,763.47 370.01,762.44 370.55,761.44 371.08,760.46 371.61,759.49 372.15,758.54 372.68,757.6 375.38,753.24 378.2,749.34 381.2,745.84 384.2,742.71 387.2,739.88 390.2,737.33 393.2,734.72 396.2,731.87 399.2,729.15 402.2,726.5 405.2,723.93 408.2,721.44 411.2,719.03 414.2,716.68 417.2,714.39 420.2,712.15 423.2,710.02 426.2,707.91 429.2,705.83 432.2,703.76 435.2,701.69 438.2,699.64 441.2,697.62 444.2,695.63 447.2,693.66 450.2,691.72 453.2,689.8 456.2,687.9 459.2,686.01 462.2,684.13 465.2,682.27 468.2,680.41 471.2,678.55 474.2,676.69 477.2,674.83 480.2,672.98 483.2,671.14 486.2,669.32 489.2,667.53 492.2,665.76 495.2,664.03 498.2,662.34 501.2,660.69 504.2,659.09 507.2,657.52 510.2,655.99 513.2,654.48 516.2,653 519.2,651.55 522.2,650.12 525.2,648.71 528.2,647.32 531.2,645.96 534.2,644.62 537.2,643.29 540.2,641.99 543.2,640.72 546.2,639.47 549.2,638.25 552.2,637.04 555.2,635.85 558.2,634.67 561.2,633.49 564.2,632.31 567.2,631.13 570.2,629.94 573.2,628.75" fill="none" stroke="#580018" stroke-width="4" stroke-linejoin="round" stroke-linecap="round"/>
<polyline points="107,911.1 109.28,911.57 112.37,912.21 116.06,912.98 120.14,913.81 124.43,914.63 128.7,915.4 133.08,916.1 137.75,916.78 142.61,917.46 147.57,918.16 152.54,918.9 157.4,919.7 162.18,920.63 166.97,921.71 171.75,922.82 176.53,923.87 181.32,924.76 186.1,925.4 191.05,925.7 196.2,925.74 201.34,925.62 206.29,925.45 210.84,925.34 214.8,925.4 218.07,925.65 220.79,926.01 223.12,926.43 225.2,926.87 227.17,927.27 229.2,927.6 231.16,927.8 232.9,927.89 234.55,927.95 236.21,928.06 237.99,928.28 240,928.7 242.28,929.29 244.74,929.99 247.32,930.81 249.97,931.76 252.62,932.85 255.2,934.1 257.73,935.6 260.27,937.36 262.8,939.26 265.33,941.2 267.87,943.05 270.4,944.7 272.93,946.14 275.47,947.46 278,948.69 280.53,949.88 283.07,951.07 285.6,952.3 288.13,953.55 290.67,954.78 293.2,956.01 295.73,957.26 298.27,958.55 300.8,959.9 303.33,961.31 305.86,962.76 308.39,964.26 310.93,965.79 313.46,967.37 316,969 318.65,970.77 321.44,972.7 324.23,974.68 326.89,976.59 329.29,978.3 331.3,979.7 332.91,980.78 334.21,981.62 335.26,982.27 336.09,982.77 336.75,983.17 337.3,983.5 341.5,983.5 342.1,977.68 342.7,972.24 343.3,966.81 343.9,961.39 344.5,956 345.1,950.67 345.7,945.43 346.3,940.22 346.9,935 347.5,929.72 348.1,924.35 348.7,918.83 349.3,913.12 349.9,907.19 350.5,901.1 351.1,894.9 351.7,888.63 352.3,882.36 352.9,876.13 353.5,870 354.1,863.86 354.7,857.62 355.3,851.45 355.9,845.45 356.5,839.63 357.1,834.09 357.7,828.91 358.3,823.98 358.9,819.25 359.5,814.71 360.1,810.35 360.7,806.16 361.3,802.12 361.9,798.16 362.5,794.37 363.03,790.82 363.4,787.59 363.8,784.65 364.2,781.84 364.61,779.21 365.05,776.83 365.5,774.76 365.97,773.01 366.46,771.41 366.95,769.93 367.45,768.56 367.95,767.27 368.46,766.07 368.98,764.93 369.5,763.86 370.02,762.82 370.54,761.83 371.07,760.85 371.59,759.89 372.12,758.94 372.65,758.01 375.31,753.67 378.1,749.79 381.1,746.32 384.1,743.21 387.1,740.41 390.1,737.88 393.1,735.31 396.1,732.47 399.1,729.74 402.1,727.09 405.1,724.51 408.1,722.02 411.1,719.61 414.1,717.26 417.1,714.97 420.1,712.72 423.1,710.59 426.1,708.49 429.1,706.41 432.1,704.35 435.1,702.28 438.1,700.23 441.1,698.22 444.1,696.23 447.1,694.27 450.1,692.33 453.1,690.41 456.1,688.51 459.1,686.62 462.1,684.75 465.1,682.89 468.1,681.03 471.1,679.18 474.1,677.32 477.1,675.47 480.1,673.62 483.1,671.79 486.1,669.97 489.1,668.18 492.1,666.42 495.1,664.69 498.1,663 501.1,661.35 504.1,659.75 507.1,658.19 510.1,656.66 513.1,655.15 516.1,653.68 519.1,652.23 522.1,650.8 525.1,649.4 528.1,648.01 531.1,646.65 534.1,645.31 537.1,643.99 540.1,642.69 543.1,641.43 546.1,640.18 549.1,638.96 552.1,637.76 555.1,636.57 558.1,635.39 561.1,634.22 564.1,633.04 567.1,631.87 570.1,630.68 573.1,629.49" fill="none" stroke="#48000e" stroke-width="4" stroke-linejoin="round" stroke-linecap="round"/>
<polyline points="107,918.3 109.36,918.62 112.63,919.07 116.51,919.61 120.68,920.16 124.84,920.68 128.7,921.1 132.29,921.33 135.88,921.41 139.46,921.44 143.03,921.57 146.61,921.91 150.2,922.6 153.85,923.63 157.56,924.91 161.27,926.4 164.92,928.08 168.45,929.92 171.8,931.9 174.99,934.21 178.07,936.93 181.03,939.81 183.85,942.6 186.51,945.08 189,947 191.13,948.21 192.89,948.87 194.48,949.21 196.14,949.46 198.07,949.84 200.5,950.6 203.55,951.84 207.06,953.4 210.84,955.11 214.72,956.76 218.5,958.19 222,959.2 225.15,959.73 228.08,959.91 230.92,959.86 233.77,959.7 236.76,959.54 240,959.5 243.61,959.49 247.53,959.41 251.57,959.34 255.59,959.34 259.38,959.5 262.8,959.9 265.77,960.53 268.43,961.34 270.88,962.31 273.21,963.41 275.55,964.65 278,966 280.53,967.59 283.07,969.46 285.6,971.45 288.13,973.42 290.67,975.22 293.2,976.7 295.73,977.82 298.26,978.71 300.79,979.42 303.33,980.03 305.86,980.6 308.4,981.2 311.03,981.8 313.78,982.34 316.52,982.84 319.17,983.33 321.59,983.81 323.7,984.3 325.43,984.76 326.86,985.17 328.08,985.57 329.17,986.02 330.22,986.58 331.3,987.3 332.46,988.29 333.64,989.54 334.78,990.89 335.8,992.2 336.67,993.32 337.3,994.1 340.6,994.1 341.2,988.57 341.8,983.12 342.4,977.68 343,972.24 343.6,966.81 344.2,961.39 344.8,956 345.4,950.67 346,945.43 346.6,940.22 347.2,935 347.8,929.72 348.4,924.35 349,918.83 349.6,913.12 350.2,907.19 350.8,901.1 351.4,894.9 352,888.63 352.6,882.36 353.2,876.13 353.8,870 354.4,863.86 355,857.62 355.6,851.46 356.2,845.46 356.8,839.65 357.4,834.11 358,828.94 358.6,824.02 359.2,819.3 359.8,814.77 360.4,810.41 361,806.23 361.6,802.19 362.2,798.25 362.8,794.47 363.32,790.92 363.67,787.7 364.05,784.76 364.43,781.96 364.83,779.34 365.24,776.97 365.68,774.9 366.14,773.16 366.61,771.57 367.09,770.1 367.58,768.74 368.08,767.46 368.58,766.26 369.08,765.13 369.6,764.06 370.11,763.04 370.63,762.05 371.14,761.08 371.66,760.12 372.18,759.18 372.7,758.26 375.33,753.95 378.1,750.11 381.1,746.68 384.1,743.61 387.1,740.85 390.1,738.36 393.1,735.81 396.1,732.97 399.1,730.24 402.1,727.59 405.1,725.01 408.1,722.52 411.1,720.11 414.1,717.76 417.1,715.47 420.1,713.22 423.1,711.1 426.1,709 429.1,706.93 432.1,704.86 435.1,702.8 438.1,700.76 441.1,698.74 444.1,696.76 447.1,694.8 450.1,692.87 453.1,690.95 456.1,689.06 459.1,687.17 462.1,685.31 465.1,683.45 468.1,681.6 471.1,679.75 474.1,677.9 477.1,676.05 480.1,674.2 483.1,672.37 486.1,670.56 489.1,668.77 492.1,667.01 495.1,665.29 498.1,663.6 501.1,661.96 504.1,660.37 507.1,658.81 510.1,657.28 513.1,655.78 516.1,654.3 519.1,652.86 522.1,651.44 525.1,650.04 528.1,648.66 531.1,647.3 534.1,645.96 537.1,644.64 540.1,643.35 543.1,642.09 546.1,640.85 549.1,639.64 552.1,638.44 555.1,637.25 558.1,636.07 561.1,634.9 564.1,633.73 567.1,632.56 570.1,631.38 573.1,630.19" fill="none" stroke="#380006" stroke-width="4" stroke-linejoin="round" stroke-linecap="round"/>
<rect x="106.5" y="604.3" width="465.5" height="470.7" fill="none" stroke="#000" stroke-width="3"/>
<line x1="108" y1="1056.15" x2="114" y2="1056.15" stroke="#000" stroke-width="3" stroke-linecap="butt"/>
<line x1="108" y1="991.6" x2="114" y2="991.6" stroke="#000" stroke-width="3" stroke-linecap="butt"/>
<line x1="108" y1="927.05" x2="114" y2="927.05" stroke="#000" stroke-width="3" stroke-linecap="butt"/>
<line x1="108" y1="862.5" x2="114" y2="862.5" stroke="#000" stroke-width="3" stroke-linecap="butt"/>
<line x1="108" y1="797.95" x2="114" y2="797.95" stroke="#000" stroke-width="3" stroke-linecap="butt"/>
<line x1="108" y1="733.4" x2="114" y2="733.4" stroke="#000" stroke-width="3" stroke-linecap="butt"/>
<line x1="108" y1="668.85" x2="114" y2="668.85" stroke="#000" stroke-width="3" stroke-linecap="butt"/>
<line x1="108" y1="604.3" x2="114" y2="604.3" stroke="#000" stroke-width="3" stroke-linecap="butt"/>
<line x1="108" y1="1070.47" x2="111.5" y2="1070.47" stroke="#000" stroke-width="2.6" stroke-linecap="butt"/>
<line x1="108" y1="1066.15" x2="111.5" y2="1066.15" stroke="#000" stroke-width="2.6" stroke-linecap="butt"/>
<line x1="108" y1="1062.41" x2="111.5" y2="1062.41" stroke="#000" stroke-width="2.6" stroke-linecap="butt"/>
<line x1="108" y1="1059.1" x2="111.5" y2="1059.1" stroke="#000" stroke-width="2.6" stroke-linecap="butt"/>
<line x1="108" y1="1036.72" x2="111.5" y2="1036.72" stroke="#000" stroke-width="2.6" stroke-linecap="butt"/>
<line x1="108" y1="1025.35" x2="111.5" y2="1025.35" stroke="#000" stroke-width="2.6" stroke-linecap="butt"/>
<line x1="108" y1="1017.29" x2="111.5" y2="1017.29" stroke="#000" stroke-width="2.6" stroke-linecap="butt"/>
<line x1="108" y1="1011.03" x2="111.5" y2="1011.03" stroke="#000" stroke-width="2.6" stroke-linecap="butt"/>
<line x1="108" y1="1005.92" x2="111.5" y2="1005.92" stroke="#000" stroke-width="2.6" stroke-linecap="butt"/>
<line x1="108" y1="1001.6" x2="111.5" y2="1001.6" stroke="#000" stroke-width="2.6" stroke-linecap="butt"/>
<line x1="108" y1="997.86" x2="111.5" y2="997.86" stroke="#000" stroke-width="2.6" stroke-linecap="butt"/>
<line x1="108" y1="994.55" x2="111.5" y2="994.55" stroke="#000" stroke-width="2.6" stroke-linecap="butt"/>
<line x1="108" y1="972.17" x2="111.5" y2="972.17" stroke="#000" stroke-width="2.6" stroke-linecap="butt"/>
<line x1="108" y1="960.8" x2="111.5" y2="960.8" stroke="#000" stroke-width="2.6" stroke-linecap="butt"/>
<line x1="108" y1="952.74" x2="111.5" y2="952.74" stroke="#000" stroke-width="2.6" stroke-linecap="butt"/>
<line x1="108" y1="946.48" x2="111.5" y2="946.48" stroke="#000" stroke-width="2.6" stroke-linecap="butt"/>
<line x1="108" y1="941.37" x2="111.5" y2="941.37" stroke="#000" stroke-width="2.6" stroke-linecap="butt"/>
<line x1="108" y1="937.05" x2="111.5" y2="937.05" stroke="#000" stroke-width="2.6" stroke-linecap="butt"/>
<line x1="108" y1="933.31" x2="111.5" y2="933.31" stroke="#000" stroke-width="2.6" stroke-linecap="butt"/>
<line x1="108" y1="930" x2="111.5" y2="930" stroke="#000" stroke-width="2.6" stroke-linecap="butt"/>
<line x1="108" y1="907.62" x2="111.5" y2="907.62" stroke="#000" stroke-width="2.6" stroke-linecap="butt"/>
<line x1="108" y1="896.25" x2="111.5" y2="896.25" stroke="#000" stroke-width="2.6" stroke-linecap="butt"/>
<line x1="108" y1="888.19" x2="111.5" y2="888.19" stroke="#000" stroke-width="2.6" stroke-linecap="butt"/>
<line x1="108" y1="881.93" x2="111.5" y2="881.93" stroke="#000" stroke-width="2.6" stroke-linecap="butt"/>
<line x1="108" y1="876.82" x2="111.5" y2="876.82" stroke="#000" stroke-width="2.6" stroke-linecap="butt"/>
<line x1="108" y1="872.5" x2="111.5" y2="872.5" stroke="#000" stroke-width="2.6" stroke-linecap="butt"/>
<line x1="108" y1="868.76" x2="111.5" y2="868.76" stroke="#000" stroke-width="2.6" stroke-linecap="butt"/>
<line x1="108" y1="865.45" x2="111.5" y2="865.45" stroke="#000" stroke-width="2.6" stroke-linecap="butt"/>
<line x1="108" y1="843.07" x2="111.5" y2="843.07" stroke="#000" stroke-width="2.6" stroke-linecap="butt"/>
<line x1="108" y1="831.7" x2="111.5" y2="831.7" stroke="#000" stroke-width="2.6" stroke-linecap="butt"/>
<line x1="108" y1="823.64" x2="111.5" y2="823.64" stroke="#000" stroke-width="2.6" stroke-linecap="butt"/>
<line x1="108" y1="817.38" x2="111.5" y2="817.38" stroke="#000" stroke-width="2.6" stroke-linecap="butt"/>
<line x1="108" y1="812.27" x2="111.5" y2="812.27" stroke="#000" stroke-width="2.6" stroke-linecap="butt"/>
<line x1="108" y1="807.95" x2="111.5" y2="807.95" stroke="#000" stroke-width="2.6" stroke-linecap="butt"/>
<line x1="108" y1="804.21" x2="111.5" y2="804.21" stroke="#000" stroke-width="2.6" stroke-linecap="butt"/>
<line x1="108" y1="800.9" x2="111.5" y2="800.9" stroke="#000" stroke-width="2.6" stroke-linecap="butt"/>
<line x1="108" y1="778.52" x2="111.5" y2="778.52" stroke="#000" stroke-width="2.6" stroke-linecap="butt"/>
<line x1="108" y1="767.15" x2="111.5" y2="767.15" stroke="#000" stroke-width="2.6" stroke-linecap="butt"/>
<line x1="108" y1="759.09" x2="111.5" y2="759.09" stroke="#000" stroke-width="2.6" stroke-linecap="butt"/>
<line x1="108" y1="752.83" x2="111.5" y2="752.83" stroke="#000" stroke-width="2.6" stroke-linecap="butt"/>
<line x1="108" y1="747.72" x2="111.5" y2="747.72" stroke="#000" stroke-width="2.6" stroke-linecap="butt"/>
<line x1="108" y1="743.4" x2="111.5" y2="743.4" stroke="#000" stroke-width="2.6" stroke-linecap="butt"/>
<line x1="108" y1="739.66" x2="111.5" y2="739.66" stroke="#000" stroke-width="2.6" stroke-linecap="butt"/>
<line x1="108" y1="736.35" x2="111.5" y2="736.35" stroke="#000" stroke-width="2.6" stroke-linecap="butt"/>
<line x1="108" y1="713.97" x2="111.5" y2="713.97" stroke="#000" stroke-width="2.6" stroke-linecap="butt"/>
<line x1="108" y1="702.6" x2="111.5" y2="702.6" stroke="#000" stroke-width="2.6" stroke-linecap="butt"/>
<line x1="108" y1="694.54" x2="111.5" y2="694.54" stroke="#000" stroke-width="2.6" stroke-linecap="butt"/>
<line x1="108" y1="688.28" x2="111.5" y2="688.28" stroke="#000" stroke-width="2.6" stroke-linecap="butt"/>
<line x1="108" y1="683.17" x2="111.5" y2="683.17" stroke="#000" stroke-width="2.6" stroke-linecap="butt"/>
<line x1="108" y1="678.85" x2="111.5" y2="678.85" stroke="#000" stroke-width="2.6" stroke-linecap="butt"/>
<line x1="108" y1="675.11" x2="111.5" y2="675.11" stroke="#000" stroke-width="2.6" stroke-linecap="butt"/>
<line x1="108" y1="671.8" x2="111.5" y2="671.8" stroke="#000" stroke-width="2.6" stroke-linecap="butt"/>
<line x1="108" y1="649.42" x2="111.5" y2="649.42" stroke="#000" stroke-width="2.6" stroke-linecap="butt"/>
<line x1="108" y1="638.05" x2="111.5" y2="638.05" stroke="#000" stroke-width="2.6" stroke-linecap="butt"/>
<line x1="108" y1="629.99" x2="111.5" y2="629.99" stroke="#000" stroke-width="2.6" stroke-linecap="butt"/>
<line x1="108" y1="623.73" x2="111.5" y2="623.73" stroke="#000" stroke-width="2.6" stroke-linecap="butt"/>
<line x1="108" y1="618.62" x2="111.5" y2="618.62" stroke="#000" stroke-width="2.6" stroke-linecap="butt"/>
<line x1="108" y1="614.3" x2="111.5" y2="614.3" stroke="#000" stroke-width="2.6" stroke-linecap="butt"/>
<line x1="108" y1="610.56" x2="111.5" y2="610.56" stroke="#000" stroke-width="2.6" stroke-linecap="butt"/>
<line x1="108" y1="607.25" x2="111.5" y2="607.25" stroke="#000" stroke-width="2.6" stroke-linecap="butt"/>
<text x="97.8" y="614.1" font-size="28.8" font-weight="bold" text-anchor="end" fill="#000">10<tspan font-size="20" dy="-11.2">-6</tspan></text>
<text x="97.8" y="743.2" font-size="28.8" font-weight="bold" text-anchor="end" fill="#000">10<tspan font-size="20" dy="-11.2">-8</tspan></text>
<text x="97.8" y="872.3" font-size="28.8" font-weight="bold" text-anchor="end" fill="#000">10<tspan font-size="20" dy="-11.2">-10</tspan></text>
<text x="97.8" y="1001.4" font-size="28.8" font-weight="bold" text-anchor="end" fill="#000">10<tspan font-size="20" dy="-11.2">-12</tspan></text>
<line x1="152.38" y1="1073.5" x2="152.38" y2="1066.5" stroke="#000" stroke-width="3" stroke-linecap="butt"/>
<text x="152.38" y="1105.4" font-size="28.6" font-weight="bold" text-anchor="middle" fill="#000">-4</text>
<line x1="245.64" y1="1073.5" x2="245.64" y2="1066.5" stroke="#000" stroke-width="3" stroke-linecap="butt"/>
<text x="245.64" y="1105.4" font-size="28.6" font-weight="bold" text-anchor="middle" fill="#000">-2</text>
<line x1="338.9" y1="1073.5" x2="338.9" y2="1066.5" stroke="#000" stroke-width="3" stroke-linecap="butt"/>
<text x="338.9" y="1105.4" font-size="28.6" font-weight="bold" text-anchor="middle" fill="#000">0</text>
<line x1="432.16" y1="1073.5" x2="432.16" y2="1066.5" stroke="#000" stroke-width="3" stroke-linecap="butt"/>
<text x="432.16" y="1105.4" font-size="28.6" font-weight="bold" text-anchor="middle" fill="#000">2</text>
<line x1="525.42" y1="1073.5" x2="525.42" y2="1066.5" stroke="#000" stroke-width="3" stroke-linecap="butt"/>
<text x="525.42" y="1105.4" font-size="28.6" font-weight="bold" text-anchor="middle" fill="#000">4</text>
<line x1="199.01" y1="1073.5" x2="199.01" y2="1070" stroke="#000" stroke-width="2.5" stroke-linecap="butt"/>
<line x1="292.27" y1="1073.5" x2="292.27" y2="1070" stroke="#000" stroke-width="2.5" stroke-linecap="butt"/>
<line x1="385.53" y1="1073.5" x2="385.53" y2="1070" stroke="#000" stroke-width="2.5" stroke-linecap="butt"/>
<line x1="478.79" y1="1073.5" x2="478.79" y2="1070" stroke="#000" stroke-width="2.5" stroke-linecap="butt"/>
<text x="307.4" y="1140.1" font-size="28.8" font-weight="bold" text-anchor="start" fill="#000">V<tspan font-size="19" dy="7.5">D</tspan><tspan dy="-7.5"> (V)</tspan></text>
<text transform="translate(45,820) rotate(-90)" font-size="28.8" font-weight="bold" text-anchor="middle" fill="#000">I<tspan font-size="19" dy="7.5">D</tspan><tspan dy="-7.5"> (A)</tspan></text>
<text x="150.5" y="650.1" font-size="28.1" font-weight="normal" text-anchor="start" fill="#000">In<tspan font-size="19" dy="7.5">2</tspan><tspan dy="-7.5">Se</tspan><tspan font-size="19" dy="7.5">3</tspan><tspan dy="-7.5">/WSe</tspan><tspan font-size="19" dy="7.5">2</tspan><tspan dy="-7.5"></tspan></text>
<text x="150" y="687.3" font-size="28.1" font-weight="normal" text-anchor="start" fill="#000">&#955; = 532 nm</text>
<text x="-2.2" y="614.2" font-size="50" font-weight="normal" text-anchor="start" fill="#000">(d)</text>
<polyline points="816.4,791.6 816.68,791.71 816.96,791.8 817.24,791.88 817.52,791.95 817.8,792.02 818.08,792.11 818.36,792.2 818.64,792.31 818.92,792.45 819.2,792.61 819.48,792.81 819.76,793.06 820.04,793.35 820.32,793.69 820.6,794.1 820.88,794.56 821.16,795.1 821.44,795.72 821.72,796.41 822,797.2 822.65,799.76 823.3,803.48 823.95,808.24 824.6,813.91 825.25,820.37 825.9,827.48 826.55,835.11 827.2,843.14 827.85,851.44 828.5,859.88 829.15,868.34 829.8,876.68 830.45,884.78 831.1,892.5 831.75,899.73 832.4,906.33 833.05,912.18 833.7,917.14 834.35,921.09 835,923.9 836.08,927.35 837.16,930.43 838.24,933.15 839.32,935.53 840.4,937.61 841.48,939.41 842.56,940.95 843.64,942.25 844.72,943.34 845.8,944.25 846.88,944.99 847.96,945.6 849.04,946.09 850.12,946.5 851.2,946.84 852.28,947.13 853.36,947.42 854.44,947.7 855.52,948.02 856.6,948.4 858.72,949.16 860.83,949.84 862.95,950.44 865.06,950.97 867.17,951.44 869.29,951.84 871.4,952.2 873.52,952.52 875.63,952.8 877.75,953.05 879.87,953.27 881.98,953.48 884.1,953.68 886.21,953.88 888.33,954.08 890.44,954.3 892.55,954.53 894.67,954.78 896.78,955.07 898.9,955.4 901.18,955.79 903.47,956.21 905.75,956.65 908.04,957.11 910.33,957.58 912.61,958.05 914.89,958.53 917.18,959.01 919.47,959.49 921.75,959.95 924.03,960.39 926.32,960.82 928.61,961.22 930.89,961.58 933.17,961.92 935.46,962.21 937.75,962.46 940.03,962.66 942.32,962.81 944.6,962.9 947.21,962.96 949.81,963.01 952.42,963.05 955.02,963.09 957.62,963.12 960.23,963.16 962.84,963.2 965.44,963.24 968.05,963.29 970.65,963.34 973.25,963.42 975.86,963.5 978.47,963.6 981.07,963.72 983.68,963.87 986.28,964.04 988.88,964.23 991.49,964.45 994.1,964.71 996.7,965 1000.25,965.76 1003.8,967.14 1007.35,969.08 1010.9,971.5 1014.45,974.34 1018,977.52 1021.55,980.99 1025.1,984.66 1028.65,988.46 1032.2,992.33 1035.75,996.2 1039.3,999.99 1042.85,1003.64 1046.4,1007.08 1049.95,1010.23 1053.5,1013.03 1057.05,1015.41 1060.6,1017.29 1064.15,1018.61 1067.7,1019.3 1070.06,1019.52 1072.42,1019.71 1074.78,1019.87 1077.14,1020.02 1079.5,1020.14 1081.86,1020.24 1084.22,1020.33 1086.58,1020.4 1088.94,1020.47 1091.3,1020.52 1093.66,1020.56 1096.02,1020.59 1098.38,1020.63 1100.74,1020.65 1103.1,1020.68 1105.46,1020.72 1107.82,1020.75 1110.18,1020.79 1112.54,1020.84 1114.9,1020.9 1116.54,1020.99 1118.17,1021.17 1119.81,1021.43 1121.44,1021.76 1123.08,1022.15 1124.71,1022.6 1126.35,1023.09 1127.98,1023.62 1129.62,1024.18 1131.25,1024.76 1132.88,1025.35 1134.52,1025.95 1136.15,1026.54 1137.79,1027.13 1139.42,1027.69 1141.06,1028.22 1142.69,1028.72 1144.33,1029.17 1145.96,1029.56 1147.6,1029.9 1150.41,1030.4 1153.22,1030.88 1156.03,1031.33 1158.84,1031.76 1161.65,1032.17 1164.46,1032.56 1167.27,1032.93 1170.08,1033.29 1172.89,1033.63 1175.7,1033.97 1178.51,1034.3 1181.32,1034.62 1184.13,1034.95 1186.94,1035.27 1189.75,1035.59 1192.56,1035.91 1195.37,1036.25 1198.18,1036.59 1200.99,1036.94 1203.8,1037.3" fill="none" stroke="#000" stroke-width="4.6" stroke-linejoin="round" stroke-linecap="round"/>
<rect x="810.15" y="785.35" width="12.5" height="12.5" fill="#fff" stroke="#000" stroke-width="2.1"/>
<rect x="815.75" y="790.95" width="12.5" height="12.5" fill="#fff" stroke="#000" stroke-width="2.1"/>
<rect x="828.75" y="917.65" width="12.5" height="12.5" fill="#fff" stroke="#000" stroke-width="2.1"/>
<rect x="850.35" y="942.15" width="12.5" height="12.5" fill="#fff" stroke="#000" stroke-width="2.1"/>
<rect x="892.65" y="949.15" width="12.5" height="12.5" fill="#fff" stroke="#000" stroke-width="2.1"/>
<rect x="938.35" y="956.65" width="12.5" height="12.5" fill="#fff" stroke="#000" stroke-width="2.1"/>
<rect x="990.45" y="958.75" width="12.5" height="12.5" fill="#fff" stroke="#000" stroke-width="2.1"/>
<rect x="1061.45" y="1013.05" width="12.5" height="12.5" fill="#fff" stroke="#000" stroke-width="2.1"/>
<rect x="1108.65" y="1014.65" width="12.5" height="12.5" fill="#fff" stroke="#000" stroke-width="2.1"/>
<rect x="1141.35" y="1023.65" width="12.5" height="12.5" fill="#fff" stroke="#000" stroke-width="2.1"/>
<rect x="1197.55" y="1031.05" width="12.5" height="12.5" fill="#fff" stroke="#000" stroke-width="2.1"/>
<polyline points="816.4,642.3 816.68,642.4 816.96,642.48 817.24,642.55 817.52,642.61 817.8,642.68 818.08,642.74 818.36,642.82 818.64,642.9 818.92,643.01 819.2,643.14 819.48,643.29 819.76,643.48 820.04,643.7 820.32,643.97 820.6,644.28 820.88,644.64 821.16,645.06 821.44,645.54 821.72,646.09 822,646.7 822.68,648.67 823.37,651.35 824.06,654.66 824.74,658.52 825.42,662.87 826.11,667.63 826.8,672.72 827.48,678.06 828.16,683.59 828.85,689.23 829.54,694.91 830.22,700.54 830.9,706.06 831.59,711.39 832.28,716.45 832.96,721.18 833.64,725.49 834.33,729.31 835.02,732.58 835.7,735.2 836.75,738.53 837.79,741.56 838.84,744.32 839.88,746.81 840.93,749.05 841.97,751.06 843.01,752.84 844.06,754.41 845.11,755.78 846.15,756.97 847.2,758 848.24,758.87 849.29,759.59 850.33,760.19 851.38,760.68 852.42,761.07 853.47,761.37 854.51,761.6 855.56,761.77 856.6,761.9 858.72,762.11 860.83,762.3 862.95,762.46 865.06,762.6 867.17,762.73 869.29,762.84 871.4,762.93 873.52,763 875.63,763.07 877.75,763.12 879.87,763.17 881.98,763.2 884.1,763.23 886.21,763.26 888.33,763.28 890.44,763.3 892.55,763.32 894.67,763.34 896.78,763.37 898.9,763.4 901.18,763.46 903.47,763.57 905.75,763.73 908.04,763.92 910.33,764.14 912.61,764.4 914.89,764.67 917.18,764.96 919.47,765.26 921.75,765.57 924.03,765.88 926.32,766.18 928.61,766.47 930.89,766.75 933.17,767.01 935.46,767.24 937.75,767.44 940.03,767.6 942.32,767.73 944.6,767.8 947.21,767.85 949.81,767.89 952.42,767.93 955.02,767.96 957.62,767.99 960.23,768.02 962.84,768.06 965.44,768.1 968.05,768.14 970.65,768.2 973.25,768.27 975.86,768.35 978.47,768.45 981.07,768.57 983.68,768.71 986.28,768.87 988.88,769.06 991.49,769.28 994.1,769.52 996.7,769.8 1000.25,770.45 1003.8,771.56 1007.35,773.07 1010.9,774.95 1014.45,777.12 1018,779.55 1021.55,782.17 1025.1,784.94 1028.65,787.81 1032.2,790.72 1035.75,793.61 1039.3,796.45 1042.85,799.17 1046.4,801.72 1049.95,804.05 1053.5,806.12 1057.05,807.85 1060.6,809.21 1064.15,810.15 1067.7,810.6 1070.06,810.72 1072.42,810.83 1074.78,810.92 1077.14,811 1079.5,811.07 1081.86,811.13 1084.22,811.18 1086.58,811.22 1088.94,811.25 1091.3,811.28 1093.66,811.3 1096.02,811.32 1098.38,811.34 1100.74,811.36 1103.1,811.37 1105.46,811.39 1107.82,811.41 1110.18,811.44 1112.54,811.47 1114.9,811.5 1116.54,811.57 1118.17,811.71 1119.81,811.92 1121.44,812.19 1123.08,812.52 1124.71,812.89 1126.35,813.31 1127.98,813.75 1129.62,814.22 1131.25,814.71 1132.88,815.2 1134.52,815.7 1136.15,816.19 1137.79,816.68 1139.42,817.14 1141.06,817.57 1142.69,817.97 1144.33,818.33 1145.96,818.65 1147.6,818.9 1150.41,819.27 1153.22,819.62 1156.03,819.94 1158.84,820.23 1161.65,820.51 1164.46,820.77 1167.27,821.01 1170.08,821.24 1172.89,821.46 1175.7,821.66 1178.51,821.86 1181.32,822.06 1184.13,822.25 1186.94,822.44 1189.75,822.64 1192.56,822.83 1195.37,823.04 1198.18,823.25 1200.99,823.47 1203.8,823.7" fill="none" stroke="#ff0000" stroke-width="4.6" stroke-linejoin="round" stroke-linecap="round"/>
<rect x="810.15" y="636.05" width="12.5" height="12.5" fill="#fff" stroke="#ff0000" stroke-width="2.1"/>
<rect x="815.75" y="640.45" width="12.5" height="12.5" fill="#fff" stroke="#ff0000" stroke-width="2.1"/>
<rect x="829.45" y="728.95" width="12.5" height="12.5" fill="#fff" stroke="#ff0000" stroke-width="2.1"/>
<rect x="850.35" y="755.65" width="12.5" height="12.5" fill="#fff" stroke="#ff0000" stroke-width="2.1"/>
<rect x="892.65" y="757.15" width="12.5" height="12.5" fill="#fff" stroke="#ff0000" stroke-width="2.1"/>
<rect x="938.35" y="761.55" width="12.5" height="12.5" fill="#fff" stroke="#ff0000" stroke-width="2.1"/>
<rect x="990.45" y="763.55" width="12.5" height="12.5" fill="#fff" stroke="#ff0000" stroke-width="2.1"/>
<rect x="1061.45" y="804.35" width="12.5" height="12.5" fill="#fff" stroke="#ff0000" stroke-width="2.1"/>
<rect x="1108.65" y="805.25" width="12.5" height="12.5" fill="#fff" stroke="#ff0000" stroke-width="2.1"/>
<rect x="1141.35" y="812.65" width="12.5" height="12.5" fill="#fff" stroke="#ff0000" stroke-width="2.1"/>
<rect x="1197.55" y="817.45" width="12.5" height="12.5" fill="#fff" stroke="#ff0000" stroke-width="2.1"/>
<ellipse cx="820.1" cy="666.4" rx="13.8" ry="8.3" fill="none" stroke="#ff0000" stroke-width="3"/>
<line x1="835" y1="669.3" x2="989.4" y2="669.3" stroke="#ff0000" stroke-width="3.9" stroke-linecap="butt"/>
<path d="M1010.7,669.3L987.4,663.4L987.4,675.2Z" fill="#ff0000" stroke="none"/>
<ellipse cx="826.8" cy="853.3" rx="14" ry="9" fill="none" stroke="#000" stroke-width="3"/>
<line x1="809" y1="834.3" x2="794.7" y2="834.3" stroke="#000" stroke-width="2.7" stroke-linecap="butt"/>
<path d="M776.7,834.3L804.8,827.2L798,834.3L804.8,841.4Z" fill="#000" stroke="none"/>
<line x1="772.4" y1="606" x2="1251" y2="606" stroke="#000" stroke-width="3" stroke-linecap="butt"/>
<line x1="772.4" y1="604.5" x2="772.4" y2="1094.5" stroke="#000" stroke-width="3" stroke-linecap="butt"/>
<line x1="770.9" y1="1093" x2="1251" y2="1093" stroke="#000" stroke-width="3" stroke-linecap="butt"/>
<line x1="1251" y1="604.5" x2="1251" y2="1094.5" stroke="#ff0000" stroke-width="3.4" stroke-linecap="butt"/>
<text x="762.6" y="1101.7" font-size="31.5" font-weight="bold" text-anchor="end" fill="#000">8</text>
<line x1="773.9" y1="1020.1" x2="780.9" y2="1020.1" stroke="#000" stroke-width="3" stroke-linecap="butt"/>
<text x="762.6" y="1029.7" font-size="31.5" font-weight="bold" text-anchor="end" fill="#000">12</text>
<line x1="773.9" y1="948.1" x2="780.9" y2="948.1" stroke="#000" stroke-width="3" stroke-linecap="butt"/>
<text x="762.6" y="957.7" font-size="31.5" font-weight="bold" text-anchor="end" fill="#000">16</text>
<line x1="773.9" y1="876.1" x2="780.9" y2="876.1" stroke="#000" stroke-width="3" stroke-linecap="butt"/>
<text x="762.6" y="885.7" font-size="31.5" font-weight="bold" text-anchor="end" fill="#000">20</text>
<line x1="773.9" y1="804.1" x2="780.9" y2="804.1" stroke="#000" stroke-width="3" stroke-linecap="butt"/>
<text x="762.6" y="813.7" font-size="31.5" font-weight="bold" text-anchor="end" fill="#000">24</text>
<line x1="773.9" y1="732.1" x2="780.9" y2="732.1" stroke="#000" stroke-width="3" stroke-linecap="butt"/>
<text x="762.6" y="741.7" font-size="31.5" font-weight="bold" text-anchor="end" fill="#000">28</text>
<line x1="773.9" y1="660.1" x2="780.9" y2="660.1" stroke="#000" stroke-width="3" stroke-linecap="butt"/>
<text x="762.6" y="669.7" font-size="31.5" font-weight="bold" text-anchor="end" fill="#000">32</text>
<line x1="815.6" y1="1091.5" x2="815.6" y2="1084.5" stroke="#000" stroke-width="3" stroke-linecap="butt"/>
<line x1="902.6" y1="1091.5" x2="902.6" y2="1084.5" stroke="#000" stroke-width="3" stroke-linecap="butt"/>
<line x1="989.6" y1="1091.5" x2="989.6" y2="1084.5" stroke="#000" stroke-width="3" stroke-linecap="butt"/>
<line x1="1076.6" y1="1091.5" x2="1076.6" y2="1084.5" stroke="#000" stroke-width="3" stroke-linecap="butt"/>
<line x1="1163.6" y1="1091.5" x2="1163.6" y2="1084.5" stroke="#000" stroke-width="3" stroke-linecap="butt"/>
<text x="815.6" y="1125.6" font-size="31.5" font-weight="bold" text-anchor="middle" fill="#000">0</text>
<text x="902.6" y="1125.6" font-size="31.5" font-weight="bold" text-anchor="middle" fill="#000">5</text>
<text x="989.6" y="1125.6" font-size="31.5" font-weight="bold" text-anchor="middle" fill="#000">10</text>
<text x="1076.6" y="1125.6" font-size="31.5" font-weight="bold" text-anchor="middle" fill="#000">15</text>
<text x="1163.6" y="1125.6" font-size="31.5" font-weight="bold" text-anchor="middle" fill="#000">20</text>
<text x="1250.6" y="1125.6" font-size="31.5" font-weight="bold" text-anchor="middle" fill="#000">25</text>
<line x1="859.1" y1="1091.5" x2="859.1" y2="1088" stroke="#000" stroke-width="2.5" stroke-linecap="butt"/>
<line x1="946.1" y1="1091.5" x2="946.1" y2="1088" stroke="#000" stroke-width="2.5" stroke-linecap="butt"/>
<line x1="1033.1" y1="1091.5" x2="1033.1" y2="1088" stroke="#000" stroke-width="2.5" stroke-linecap="butt"/>
<line x1="1120.1" y1="1091.5" x2="1120.1" y2="1088" stroke="#000" stroke-width="2.5" stroke-linecap="butt"/>
<line x1="1207.1" y1="1091.5" x2="1207.1" y2="1088" stroke="#000" stroke-width="2.5" stroke-linecap="butt"/>
<text x="1259.2" y="1104.1" font-size="31.5" font-weight="bold" text-anchor="start" fill="#ff0000">-1x10<tspan font-size="21" dy="-11.8">11</tspan></text>
<line x1="1249.2" y1="971.2" x2="1242.5" y2="971.2" stroke="#ff0000" stroke-width="3" stroke-linecap="butt"/>
<text x="1259.2" y="981.4" font-size="31.5" font-weight="bold" text-anchor="start" fill="#ff0000">0</text>
<line x1="1249.2" y1="849.5" x2="1242.5" y2="849.5" stroke="#ff0000" stroke-width="3" stroke-linecap="butt"/>
<text x="1259.2" y="860.7" font-size="31.5" font-weight="bold" text-anchor="start" fill="#ff0000">1x10<tspan font-size="21" dy="-11.8">11</tspan></text>
<line x1="1249.2" y1="727.8" x2="1242.5" y2="727.8" stroke="#ff0000" stroke-width="3" stroke-linecap="butt"/>
<text x="1259.2" y="739" font-size="31.5" font-weight="bold" text-anchor="start" fill="#ff0000">2x10<tspan font-size="21" dy="-11.8">11</tspan></text>
<text x="1259.2" y="617.3" font-size="31.5" font-weight="bold" text-anchor="start" fill="#ff0000">3x10<tspan font-size="21" dy="-11.8">11</tspan></text>
<text x="863.2" y="1177.2" font-size="30.3" font-weight="bold" text-anchor="start" fill="#000">Light intensity (mW/cm<tspan font-size="20.68" dy="-12.1">2</tspan><tspan dy="12.1">)</tspan></text>
<text transform="translate(723.8,850.5) rotate(-90)" font-size="30.3" font-weight="bold" text-anchor="middle" fill="#000">Responsivity (mA/W)</text>
<text transform="translate(1366.6,847.9) rotate(-90)" font-size="30.3" font-weight="bold" text-anchor="middle" fill="#ff0000">Detectivity (Jones)</text>
<text x="1063.3" y="648.4" font-size="30.5" font-weight="normal" text-anchor="start" fill="#000">In<tspan font-size="20" dy="7.6">2</tspan><tspan dy="-7.6">Se</tspan><tspan font-size="20" dy="7.6">3</tspan><tspan dy="-7.6">/WSe</tspan><tspan font-size="20" dy="7.6">2</tspan><tspan dy="-7.6"></tspan></text>
<text x="1101.1" y="700.4" font-size="30" font-weight="normal" text-anchor="start" fill="#000">&#955; = 532 nm</text>
<text x="683.6" y="614.2" font-size="50" font-weight="normal" text-anchor="start" fill="#000">(e)</text>
<line x1="1532.9" y1="938.5" x2="1975.7" y2="633.5" stroke="#bcbcbc" stroke-width="2" stroke-linecap="butt"/>
<polyline points="1532.9,1034 1538.49,1029.17 1544.08,1024.35 1549.68,1019.54 1555.27,1014.73 1560.86,1009.91 1566.45,1005.1 1572.04,1000.28 1577.63,995.45 1583.22,990.61 1588.82,985.76 1594.41,980.89 1600,976 1604.6,971.97 1609.2,967.92 1613.8,963.87 1618.4,959.82 1623,955.75 1627.6,951.68 1632.2,947.59 1636.8,943.49 1641.4,939.39 1646,935.27 1650.6,931.14 1655.2,927 1658.93,923.57 1662.67,920.04 1666.4,916.43 1670.13,912.78 1673.87,909.13 1677.6,905.5 1681.33,901.92 1685.07,898.43 1688.8,895.07 1692.53,891.85 1696.27,888.82 1700,886 1703.47,883.48 1706.95,880.97 1710.42,878.49 1713.9,876.05 1717.38,873.69 1720.85,871.42 1724.33,869.26 1727.8,867.24 1731.28,865.39 1734.75,863.71 1738.23,862.24 1741.7,861 1744.06,860.26 1746.42,859.55 1748.78,858.89 1751.13,858.26 1753.49,857.67 1755.85,857.11 1758.21,856.59 1760.57,856.11 1762.92,855.66 1765.28,855.24 1767.64,854.85 1770,854.5 1772.41,854.17 1774.82,853.88 1777.22,853.62 1779.63,853.38 1782.04,853.15 1784.45,852.94 1786.86,852.73 1789.27,852.51 1791.68,852.29 1794.08,852.05 1796.49,851.79 1798.9,851.5 1803.48,850.83 1808.07,850.01 1812.65,849.08 1817.23,848.07 1821.82,847.03 1826.4,845.99 1830.98,844.99 1835.57,844.08 1840.15,843.28 1844.73,842.65 1849.32,842.2 1853.9,842 1857.74,841.94 1861.58,841.88 1865.43,841.83 1869.27,841.79 1873.11,841.74 1876.95,841.71 1880.79,841.68 1884.63,841.65 1888.47,841.63 1892.32,841.61 1896.16,841.6 1900,841.6 1906.31,841.6 1912.62,841.6 1918.92,841.6 1925.23,841.6 1931.54,841.6 1937.85,841.6 1944.16,841.6 1950.47,841.6 1956.78,841.6 1963.08,841.6 1969.39,841.6 1975.7,841.6" fill="none" stroke="#ff0000" stroke-width="3" stroke-linejoin="round" stroke-linecap="round"/>
<path d="M1532.9,1024.2L1542.5,1033.8L1532.9,1043.4L1523.3,1033.8Z" fill="#fff" stroke="#ff0000" stroke-width="3" stroke-linejoin="miter"/>
<path d="M1655.2,917.2L1664.8,926.8L1655.2,936.4L1645.6,926.8Z" fill="#fff" stroke="#ff0000" stroke-width="3" stroke-linejoin="miter"/>
<path d="M1741.7,842.4L1751.3,852L1741.7,861.6L1732.1,852Z" fill="#fff" stroke="#ff0000" stroke-width="3" stroke-linejoin="miter"/>
<path d="M1798.9,842.4L1808.5,852L1798.9,861.6L1789.3,852Z" fill="#fff" stroke="#ff0000" stroke-width="3" stroke-linejoin="miter"/>
<path d="M1853.9,832L1863.5,841.6L1853.9,851.2L1844.3,841.6Z" fill="#fff" stroke="#ff0000" stroke-width="3" stroke-linejoin="miter"/>
<path d="M1887.9,832L1897.5,841.6L1887.9,851.2L1878.3,841.6Z" fill="#fff" stroke="#ff0000" stroke-width="3" stroke-linejoin="miter"/>
<path d="M1914.5,832L1924.1,841.6L1914.5,851.2L1904.9,841.6Z" fill="#fff" stroke="#ff0000" stroke-width="3" stroke-linejoin="miter"/>
<path d="M1940,832L1949.6,841.6L1940,851.2L1930.4,841.6Z" fill="#fff" stroke="#ff0000" stroke-width="3" stroke-linejoin="miter"/>
<path d="M1953.8,832L1963.4,841.6L1953.8,851.2L1944.2,841.6Z" fill="#fff" stroke="#ff0000" stroke-width="3" stroke-linejoin="miter"/>
<path d="M1962.4,832L1972,841.6L1962.4,851.2L1952.8,841.6Z" fill="#fff" stroke="#ff0000" stroke-width="3" stroke-linejoin="miter"/>
<path d="M1975.7,832L1985.3,841.6L1975.7,851.2L1966.1,841.6Z" fill="#fff" stroke="#ff0000" stroke-width="3" stroke-linejoin="miter"/>
<circle cx="1532.9" cy="909.4" r="7.3" fill="#ffff00" stroke="#ff0000" stroke-width="4.1"/>
<circle cx="1655.2" cy="867.9" r="7.3" fill="#ffff00" stroke="#ff0000" stroke-width="4.1"/>
<circle cx="1741.7" cy="822.5" r="7.3" fill="#ffff00" stroke="#ff0000" stroke-width="4.1"/>
<circle cx="1798.9" cy="773.3" r="7.3" fill="#ffff00" stroke="#ff0000" stroke-width="4.1"/>
<circle cx="1853.9" cy="722.4" r="7.3" fill="#ffff00" stroke="#ff0000" stroke-width="4.1"/>
<circle cx="1887.9" cy="689.2" r="7.3" fill="#ffff00" stroke="#ff0000" stroke-width="4.1"/>
<circle cx="1914.5" cy="670.8" r="7.3" fill="#ffff00" stroke="#ff0000" stroke-width="4.1"/>
<circle cx="1940" cy="655.5" r="7.3" fill="#ffff00" stroke="#ff0000" stroke-width="4.1"/>
<circle cx="1953.8" cy="642.2" r="7.3" fill="#ffff00" stroke="#ff0000" stroke-width="4.1"/>
<circle cx="1962.4" cy="637.1" r="7.3" fill="#ffff00" stroke="#ff0000" stroke-width="4.1"/>
<circle cx="1975.7" cy="628.5" r="7.3" fill="#ffff00" stroke="#ff0000" stroke-width="4.1"/>
<line x1="1496.4" y1="606.2" x2="1998.6" y2="606.2" stroke="#000" stroke-width="3" stroke-linecap="butt"/>
<line x1="1496.4" y1="604.7" x2="1496.4" y2="1068.1" stroke="#000" stroke-width="3" stroke-linecap="butt"/>
<line x1="1494.9" y1="1066.6" x2="1998.6" y2="1066.6" stroke="#000" stroke-width="3" stroke-linecap="butt"/>
<line x1="1998.6" y1="604.7" x2="1998.6" y2="1068.1" stroke="#ff0000" stroke-width="3.6" stroke-linecap="butt"/>
<line x1="1497.9" y1="1012.2" x2="1504.9" y2="1012.2" stroke="#000" stroke-width="3" stroke-linecap="butt"/>
<line x1="1497.9" y1="835.8" x2="1504.9" y2="835.8" stroke="#000" stroke-width="3" stroke-linecap="butt"/>
<line x1="1497.9" y1="659.4" x2="1504.9" y2="659.4" stroke="#000" stroke-width="3" stroke-linecap="butt"/>
<line x1="1497.9" y1="1065.3" x2="1501.4" y2="1065.3" stroke="#000" stroke-width="2.6" stroke-linecap="butt"/>
<line x1="1497.9" y1="1051.33" x2="1501.4" y2="1051.33" stroke="#000" stroke-width="2.6" stroke-linecap="butt"/>
<line x1="1497.9" y1="1039.52" x2="1501.4" y2="1039.52" stroke="#000" stroke-width="2.6" stroke-linecap="butt"/>
<line x1="1497.9" y1="1029.29" x2="1501.4" y2="1029.29" stroke="#000" stroke-width="2.6" stroke-linecap="butt"/>
<line x1="1497.9" y1="1020.27" x2="1501.4" y2="1020.27" stroke="#000" stroke-width="2.6" stroke-linecap="butt"/>
<line x1="1497.9" y1="959.1" x2="1501.4" y2="959.1" stroke="#000" stroke-width="2.6" stroke-linecap="butt"/>
<line x1="1497.9" y1="928.04" x2="1501.4" y2="928.04" stroke="#000" stroke-width="2.6" stroke-linecap="butt"/>
<line x1="1497.9" y1="906" x2="1501.4" y2="906" stroke="#000" stroke-width="2.6" stroke-linecap="butt"/>
<line x1="1497.9" y1="888.9" x2="1501.4" y2="888.9" stroke="#000" stroke-width="2.6" stroke-linecap="butt"/>
<line x1="1497.9" y1="874.93" x2="1501.4" y2="874.93" stroke="#000" stroke-width="2.6" stroke-linecap="butt"/>
<line x1="1497.9" y1="863.12" x2="1501.4" y2="863.12" stroke="#000" stroke-width="2.6" stroke-linecap="butt"/>
<line x1="1497.9" y1="852.89" x2="1501.4" y2="852.89" stroke="#000" stroke-width="2.6" stroke-linecap="butt"/>
<line x1="1497.9" y1="843.87" x2="1501.4" y2="843.87" stroke="#000" stroke-width="2.6" stroke-linecap="butt"/>
<line x1="1497.9" y1="782.7" x2="1501.4" y2="782.7" stroke="#000" stroke-width="2.6" stroke-linecap="butt"/>
<line x1="1497.9" y1="751.64" x2="1501.4" y2="751.64" stroke="#000" stroke-width="2.6" stroke-linecap="butt"/>
<line x1="1497.9" y1="729.6" x2="1501.4" y2="729.6" stroke="#000" stroke-width="2.6" stroke-linecap="butt"/>
<line x1="1497.9" y1="712.5" x2="1501.4" y2="712.5" stroke="#000" stroke-width="2.6" stroke-linecap="butt"/>
<line x1="1497.9" y1="698.53" x2="1501.4" y2="698.53" stroke="#000" stroke-width="2.6" stroke-linecap="butt"/>
<line x1="1497.9" y1="686.72" x2="1501.4" y2="686.72" stroke="#000" stroke-width="2.6" stroke-linecap="butt"/>
<line x1="1497.9" y1="676.49" x2="1501.4" y2="676.49" stroke="#000" stroke-width="2.6" stroke-linecap="butt"/>
<line x1="1497.9" y1="667.47" x2="1501.4" y2="667.47" stroke="#000" stroke-width="2.6" stroke-linecap="butt"/>
<text x="1486" y="1021.2" font-size="31.8" font-weight="bold" text-anchor="end" fill="#000">1p</text>
<text x="1486" y="844.8" font-size="31.8" font-weight="bold" text-anchor="end" fill="#000">10p</text>
<text x="1486" y="668.4" font-size="31.8" font-weight="bold" text-anchor="end" fill="#000">100p</text>
<line x1="1550.7" y1="1065.1" x2="1550.7" y2="1058.1" stroke="#000" stroke-width="3" stroke-linecap="butt"/>
<line x1="1731.65" y1="1065.1" x2="1731.65" y2="1058.1" stroke="#000" stroke-width="3" stroke-linecap="butt"/>
<line x1="1912.6" y1="1065.1" x2="1912.6" y2="1058.1" stroke="#000" stroke-width="3" stroke-linecap="butt"/>
<line x1="1510.56" y1="1065.1" x2="1510.56" y2="1061.6" stroke="#000" stroke-width="2.2" stroke-linecap="butt"/>
<line x1="1522.67" y1="1065.1" x2="1522.67" y2="1061.6" stroke="#000" stroke-width="2.2" stroke-linecap="butt"/>
<line x1="1533.16" y1="1065.1" x2="1533.16" y2="1061.6" stroke="#000" stroke-width="2.2" stroke-linecap="butt"/>
<line x1="1542.42" y1="1065.1" x2="1542.42" y2="1061.6" stroke="#000" stroke-width="2.2" stroke-linecap="butt"/>
<line x1="1605.17" y1="1065.1" x2="1605.17" y2="1061.6" stroke="#000" stroke-width="2.2" stroke-linecap="butt"/>
<line x1="1637.04" y1="1065.1" x2="1637.04" y2="1061.6" stroke="#000" stroke-width="2.2" stroke-linecap="butt"/>
<line x1="1659.64" y1="1065.1" x2="1659.64" y2="1061.6" stroke="#000" stroke-width="2.2" stroke-linecap="butt"/>
<line x1="1677.18" y1="1065.1" x2="1677.18" y2="1061.6" stroke="#000" stroke-width="2.2" stroke-linecap="butt"/>
<line x1="1691.51" y1="1065.1" x2="1691.51" y2="1061.6" stroke="#000" stroke-width="2.2" stroke-linecap="butt"/>
<line x1="1703.62" y1="1065.1" x2="1703.62" y2="1061.6" stroke="#000" stroke-width="2.2" stroke-linecap="butt"/>
<line x1="1714.11" y1="1065.1" x2="1714.11" y2="1061.6" stroke="#000" stroke-width="2.2" stroke-linecap="butt"/>
<line x1="1723.37" y1="1065.1" x2="1723.37" y2="1061.6" stroke="#000" stroke-width="2.2" stroke-linecap="butt"/>
<line x1="1786.12" y1="1065.1" x2="1786.12" y2="1061.6" stroke="#000" stroke-width="2.2" stroke-linecap="butt"/>
<line x1="1817.99" y1="1065.1" x2="1817.99" y2="1061.6" stroke="#000" stroke-width="2.2" stroke-linecap="butt"/>
<line x1="1840.59" y1="1065.1" x2="1840.59" y2="1061.6" stroke="#000" stroke-width="2.2" stroke-linecap="butt"/>
<line x1="1858.13" y1="1065.1" x2="1858.13" y2="1061.6" stroke="#000" stroke-width="2.2" stroke-linecap="butt"/>
<line x1="1872.46" y1="1065.1" x2="1872.46" y2="1061.6" stroke="#000" stroke-width="2.2" stroke-linecap="butt"/>
<line x1="1884.57" y1="1065.1" x2="1884.57" y2="1061.6" stroke="#000" stroke-width="2.2" stroke-linecap="butt"/>
<line x1="1895.06" y1="1065.1" x2="1895.06" y2="1061.6" stroke="#000" stroke-width="2.2" stroke-linecap="butt"/>
<line x1="1904.32" y1="1065.1" x2="1904.32" y2="1061.6" stroke="#000" stroke-width="2.2" stroke-linecap="butt"/>
<line x1="1967.07" y1="1065.1" x2="1967.07" y2="1061.6" stroke="#000" stroke-width="2.2" stroke-linecap="butt"/>
<text x="1550.7" y="1101.2" font-size="31.8" font-weight="bold" text-anchor="middle" fill="#000">0.1</text>
<text x="1731.65" y="1101.2" font-size="31.8" font-weight="bold" text-anchor="middle" fill="#000">1</text>
<text x="1912.6" y="1101.2" font-size="31.8" font-weight="bold" text-anchor="middle" fill="#000">10</text>
<line x1="1996.6" y1="1033.6" x2="1989.6" y2="1033.6" stroke="#ff0000" stroke-width="3" stroke-linecap="butt"/>
<text x="2009.1" y="1042.6" font-size="31.8" font-weight="bold" text-anchor="start" fill="#ff0000">0.1</text>
<line x1="1996.6" y1="926.6" x2="1989.6" y2="926.6" stroke="#ff0000" stroke-width="3" stroke-linecap="butt"/>
<text x="2009.1" y="935.6" font-size="31.8" font-weight="bold" text-anchor="start" fill="#ff0000">0.2</text>
<line x1="1996.6" y1="819.6" x2="1989.6" y2="819.6" stroke="#ff0000" stroke-width="3" stroke-linecap="butt"/>
<text x="2009.1" y="828.6" font-size="31.8" font-weight="bold" text-anchor="start" fill="#ff0000">0.3</text>
<line x1="1996.6" y1="712.6" x2="1989.6" y2="712.6" stroke="#ff0000" stroke-width="3" stroke-linecap="butt"/>
<text x="2009.1" y="721.6" font-size="31.8" font-weight="bold" text-anchor="start" fill="#ff0000">0.4</text>
<text x="2009.1" y="614.6" font-size="31.8" font-weight="bold" text-anchor="start" fill="#ff0000">0.5</text>
<line x1="1996.6" y1="980.1" x2="1992.6" y2="980.1" stroke="#ff0000" stroke-width="2.5" stroke-linecap="butt"/>
<line x1="1996.6" y1="873.1" x2="1992.6" y2="873.1" stroke="#ff0000" stroke-width="2.5" stroke-linecap="butt"/>
<line x1="1996.6" y1="766.1" x2="1992.6" y2="766.1" stroke="#ff0000" stroke-width="2.5" stroke-linecap="butt"/>
<line x1="1996.6" y1="659.1" x2="1992.6" y2="659.1" stroke="#ff0000" stroke-width="2.5" stroke-linecap="butt"/>
<text x="1605" y="1136" font-size="31.5" font-weight="bold" text-anchor="start" fill="#000">Light intensity (mW/cm<tspan font-size="21.5" dy="-12.58">2</tspan><tspan dy="12.58">)</tspan></text>
<text transform="translate(1434.5,836.4) rotate(-90)" font-size="31.5" font-weight="bold" text-anchor="middle" fill="#000">I<tspan font-size="20" dy="8">ph</tspan><tspan dy="-8">(A)</tspan></text>
<text transform="translate(2081.6,831.9) rotate(-90)" font-size="31.5" font-weight="bold" text-anchor="middle" fill="#ff0000">V<tspan font-size="20" dy="8">oc</tspan><tspan dy="-8">(V)</tspan></text>
<line x1="1533.2" y1="637.8" x2="1569.1" y2="637.8" stroke="#bcbcbc" stroke-width="2.2" stroke-linecap="butt"/>
<text x="1574.5" y="643.3" font-size="26.3" font-weight="normal" text-anchor="start" fill="#000">I<tspan font-size="17.5" dy="7.5">SC</tspan><tspan dy="-7.5"> Fitting curve</tspan></text>
<circle cx="1551.15" cy="683.4" r="6.3" fill="#ffff00" stroke="#ff0000" stroke-width="4.2"/>
<text x="1574.5" y="689" font-size="26.3" font-weight="normal" text-anchor="start" fill="#000">I<tspan font-size="17.5" dy="7.5">SC</tspan><tspan dy="-7.5"> Experimental data</tspan></text>
<line x1="1534.2" y1="729.5" x2="1539.2" y2="729.5" stroke="#ff0000" stroke-width="3" stroke-linecap="butt"/>
<line x1="1563.1" y1="729.5" x2="1568.1" y2="729.5" stroke="#ff0000" stroke-width="3" stroke-linecap="butt"/>
<path d="M1551.15,721.1L1559.55,729.5L1551.15,737.9L1542.75,729.5Z" fill="#fff" stroke="#ff0000" stroke-width="3" stroke-linejoin="miter"/>
<text x="1573.5" y="734.6" font-size="26.3" font-weight="normal" text-anchor="start" fill="#000">V<tspan font-size="17.5" dy="7.5">OC</tspan><tspan dy="-7.5"></tspan></text>
<text x="1805" y="969.8" font-size="32.5" font-weight="bold" text-anchor="start" fill="#000">I<tspan font-size="22.7" dy="8.2">SC</tspan><tspan dy="-8.2"> ~ P</tspan><tspan font-size="22" dy="-13">0.67</tspan></text>
<text x="1397.6" y="614.2" font-size="50" font-weight="normal" text-anchor="start" fill="#000">(f)</text>
</svg></body></html>
